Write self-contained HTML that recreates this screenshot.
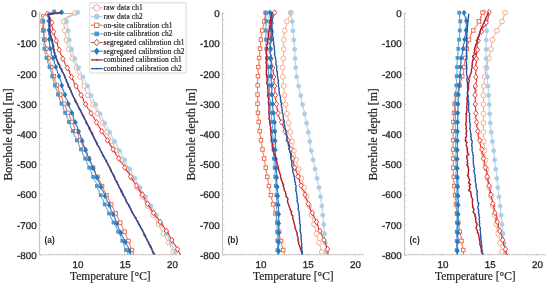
<!DOCTYPE html>
<html><head><meta charset="utf-8"><style>
html,body{margin:0;padding:0;background:#fff;}
svg{display:block;filter:blur(0.3px);}
.tk{font-family:"Liberation Sans",sans-serif;font-size:9.8px;fill:#262626;stroke:#262626;stroke-width:0.3px;text-rendering:geometricPrecision;}
.lab{font-family:"Liberation Serif",serif;font-size:11.5px;fill:#262626;stroke:#262626;stroke-width:0.2px;}
.lg{font-family:"Liberation Serif",serif;font-size:7.4px;letter-spacing:0.13px;fill:#1a1a1a;stroke:#1a1a1a;stroke-width:0.17px;}
.pl{font-family:"Liberation Sans",sans-serif;font-size:8.4px;font-weight:bold;fill:#262626;}
</style></head><body>
<svg width="550" height="286" viewBox="0 0 550 286">
<rect width="550" height="286" fill="#fff"/>
<path d="M39.5 12.3 V254.8 H181.1" fill="none" stroke="#c6c6c6" stroke-width="1.1"/>
<line x1="39.5" y1="13.6" x2="41.7" y2="13.6" stroke="#c6c6c6" stroke-width="0.8"/>
<text x="36.6" y="17.1" class="tk" text-anchor="end">0</text>
<line x1="39.5" y1="43.8" x2="41.7" y2="43.8" stroke="#c6c6c6" stroke-width="0.8"/>
<text x="36.6" y="47.3" class="tk" text-anchor="end">-100</text>
<line x1="39.5" y1="74" x2="41.7" y2="74" stroke="#c6c6c6" stroke-width="0.8"/>
<text x="36.6" y="77.5" class="tk" text-anchor="end">-200</text>
<line x1="39.5" y1="104.2" x2="41.7" y2="104.2" stroke="#c6c6c6" stroke-width="0.8"/>
<text x="36.6" y="107.7" class="tk" text-anchor="end">-300</text>
<line x1="39.5" y1="134.4" x2="41.7" y2="134.4" stroke="#c6c6c6" stroke-width="0.8"/>
<text x="36.6" y="137.9" class="tk" text-anchor="end">-400</text>
<line x1="39.5" y1="164.7" x2="41.7" y2="164.7" stroke="#c6c6c6" stroke-width="0.8"/>
<text x="36.6" y="168.2" class="tk" text-anchor="end">-500</text>
<line x1="39.5" y1="194.9" x2="41.7" y2="194.9" stroke="#c6c6c6" stroke-width="0.8"/>
<text x="36.6" y="198.4" class="tk" text-anchor="end">-600</text>
<line x1="39.5" y1="225.1" x2="41.7" y2="225.1" stroke="#c6c6c6" stroke-width="0.8"/>
<text x="36.6" y="228.6" class="tk" text-anchor="end">-700</text>
<line x1="39.5" y1="255.3" x2="41.7" y2="255.3" stroke="#c6c6c6" stroke-width="0.8"/>
<text x="36.6" y="258.8" class="tk" text-anchor="end">-800</text>
<line x1="39.5" y1="19.6" x2="41.3" y2="19.6" stroke="#cccccc" stroke-width="0.7"/>
<line x1="39.5" y1="25.7" x2="41.3" y2="25.7" stroke="#cccccc" stroke-width="0.7"/>
<line x1="39.5" y1="31.7" x2="41.3" y2="31.7" stroke="#cccccc" stroke-width="0.7"/>
<line x1="39.5" y1="37.8" x2="41.3" y2="37.8" stroke="#cccccc" stroke-width="0.7"/>
<line x1="39.5" y1="49.9" x2="41.3" y2="49.9" stroke="#cccccc" stroke-width="0.7"/>
<line x1="39.5" y1="55.9" x2="41.3" y2="55.9" stroke="#cccccc" stroke-width="0.7"/>
<line x1="39.5" y1="61.9" x2="41.3" y2="61.9" stroke="#cccccc" stroke-width="0.7"/>
<line x1="39.5" y1="68" x2="41.3" y2="68" stroke="#cccccc" stroke-width="0.7"/>
<line x1="39.5" y1="80.1" x2="41.3" y2="80.1" stroke="#cccccc" stroke-width="0.7"/>
<line x1="39.5" y1="86.1" x2="41.3" y2="86.1" stroke="#cccccc" stroke-width="0.7"/>
<line x1="39.5" y1="92.2" x2="41.3" y2="92.2" stroke="#cccccc" stroke-width="0.7"/>
<line x1="39.5" y1="98.2" x2="41.3" y2="98.2" stroke="#cccccc" stroke-width="0.7"/>
<line x1="39.5" y1="110.3" x2="41.3" y2="110.3" stroke="#cccccc" stroke-width="0.7"/>
<line x1="39.5" y1="116.3" x2="41.3" y2="116.3" stroke="#cccccc" stroke-width="0.7"/>
<line x1="39.5" y1="122.4" x2="41.3" y2="122.4" stroke="#cccccc" stroke-width="0.7"/>
<line x1="39.5" y1="128.4" x2="41.3" y2="128.4" stroke="#cccccc" stroke-width="0.7"/>
<line x1="39.5" y1="140.5" x2="41.3" y2="140.5" stroke="#cccccc" stroke-width="0.7"/>
<line x1="39.5" y1="146.5" x2="41.3" y2="146.5" stroke="#cccccc" stroke-width="0.7"/>
<line x1="39.5" y1="152.6" x2="41.3" y2="152.6" stroke="#cccccc" stroke-width="0.7"/>
<line x1="39.5" y1="158.6" x2="41.3" y2="158.6" stroke="#cccccc" stroke-width="0.7"/>
<line x1="39.5" y1="170.7" x2="41.3" y2="170.7" stroke="#cccccc" stroke-width="0.7"/>
<line x1="39.5" y1="176.7" x2="41.3" y2="176.7" stroke="#cccccc" stroke-width="0.7"/>
<line x1="39.5" y1="182.8" x2="41.3" y2="182.8" stroke="#cccccc" stroke-width="0.7"/>
<line x1="39.5" y1="188.8" x2="41.3" y2="188.8" stroke="#cccccc" stroke-width="0.7"/>
<line x1="39.5" y1="200.9" x2="41.3" y2="200.9" stroke="#cccccc" stroke-width="0.7"/>
<line x1="39.5" y1="207" x2="41.3" y2="207" stroke="#cccccc" stroke-width="0.7"/>
<line x1="39.5" y1="213" x2="41.3" y2="213" stroke="#cccccc" stroke-width="0.7"/>
<line x1="39.5" y1="219" x2="41.3" y2="219" stroke="#cccccc" stroke-width="0.7"/>
<line x1="39.5" y1="231.1" x2="41.3" y2="231.1" stroke="#cccccc" stroke-width="0.7"/>
<line x1="39.5" y1="237.2" x2="41.3" y2="237.2" stroke="#cccccc" stroke-width="0.7"/>
<line x1="39.5" y1="243.2" x2="41.3" y2="243.2" stroke="#cccccc" stroke-width="0.7"/>
<line x1="39.5" y1="249.3" x2="41.3" y2="249.3" stroke="#cccccc" stroke-width="0.7"/>
<line x1="77.3" y1="255.3" x2="77.3" y2="253.1" stroke="#c6c6c6" stroke-width="0.8"/>
<text x="78" y="267.9" class="tk" text-anchor="middle">10</text>
<line x1="124.5" y1="255.3" x2="124.5" y2="253.1" stroke="#c6c6c6" stroke-width="0.8"/>
<text x="125.2" y="267.9" class="tk" text-anchor="middle">15</text>
<line x1="171.7" y1="255.3" x2="171.7" y2="253.1" stroke="#c6c6c6" stroke-width="0.8"/>
<text x="172.4" y="267.9" class="tk" text-anchor="middle">20</text>
<line x1="48.9" y1="254.8" x2="48.9" y2="253" stroke="#cccccc" stroke-width="0.7"/>
<line x1="58.4" y1="254.8" x2="58.4" y2="253" stroke="#cccccc" stroke-width="0.7"/>
<line x1="67.8" y1="254.8" x2="67.8" y2="253" stroke="#cccccc" stroke-width="0.7"/>
<line x1="86.7" y1="254.8" x2="86.7" y2="253" stroke="#cccccc" stroke-width="0.7"/>
<line x1="96.1" y1="254.8" x2="96.1" y2="253" stroke="#cccccc" stroke-width="0.7"/>
<line x1="105.6" y1="254.8" x2="105.6" y2="253" stroke="#cccccc" stroke-width="0.7"/>
<line x1="115" y1="254.8" x2="115" y2="253" stroke="#cccccc" stroke-width="0.7"/>
<line x1="133.9" y1="254.8" x2="133.9" y2="253" stroke="#cccccc" stroke-width="0.7"/>
<line x1="143.3" y1="254.8" x2="143.3" y2="253" stroke="#cccccc" stroke-width="0.7"/>
<line x1="152.8" y1="254.8" x2="152.8" y2="253" stroke="#cccccc" stroke-width="0.7"/>
<line x1="162.2" y1="254.8" x2="162.2" y2="253" stroke="#cccccc" stroke-width="0.7"/>
<text x="110.3" y="280.2" class="lab" text-anchor="middle">Temperature [°C]</text>
<text x="44.5" y="243.3" class="pl">(a)</text>
<path d="M222.5 12.3 V254.8 H364.1" fill="none" stroke="#c6c6c6" stroke-width="1.1"/>
<line x1="222.5" y1="13.6" x2="224.7" y2="13.6" stroke="#c6c6c6" stroke-width="0.8"/>
<text x="219.6" y="17.1" class="tk" text-anchor="end">0</text>
<line x1="222.5" y1="43.8" x2="224.7" y2="43.8" stroke="#c6c6c6" stroke-width="0.8"/>
<text x="219.6" y="47.3" class="tk" text-anchor="end">-100</text>
<line x1="222.5" y1="74" x2="224.7" y2="74" stroke="#c6c6c6" stroke-width="0.8"/>
<text x="219.6" y="77.5" class="tk" text-anchor="end">-200</text>
<line x1="222.5" y1="104.2" x2="224.7" y2="104.2" stroke="#c6c6c6" stroke-width="0.8"/>
<text x="219.6" y="107.7" class="tk" text-anchor="end">-300</text>
<line x1="222.5" y1="134.4" x2="224.7" y2="134.4" stroke="#c6c6c6" stroke-width="0.8"/>
<text x="219.6" y="137.9" class="tk" text-anchor="end">-400</text>
<line x1="222.5" y1="164.7" x2="224.7" y2="164.7" stroke="#c6c6c6" stroke-width="0.8"/>
<text x="219.6" y="168.2" class="tk" text-anchor="end">-500</text>
<line x1="222.5" y1="194.9" x2="224.7" y2="194.9" stroke="#c6c6c6" stroke-width="0.8"/>
<text x="219.6" y="198.4" class="tk" text-anchor="end">-600</text>
<line x1="222.5" y1="225.1" x2="224.7" y2="225.1" stroke="#c6c6c6" stroke-width="0.8"/>
<text x="219.6" y="228.6" class="tk" text-anchor="end">-700</text>
<line x1="222.5" y1="255.3" x2="224.7" y2="255.3" stroke="#c6c6c6" stroke-width="0.8"/>
<text x="219.6" y="258.8" class="tk" text-anchor="end">-800</text>
<line x1="222.5" y1="19.6" x2="224.3" y2="19.6" stroke="#cccccc" stroke-width="0.7"/>
<line x1="222.5" y1="25.7" x2="224.3" y2="25.7" stroke="#cccccc" stroke-width="0.7"/>
<line x1="222.5" y1="31.7" x2="224.3" y2="31.7" stroke="#cccccc" stroke-width="0.7"/>
<line x1="222.5" y1="37.8" x2="224.3" y2="37.8" stroke="#cccccc" stroke-width="0.7"/>
<line x1="222.5" y1="49.9" x2="224.3" y2="49.9" stroke="#cccccc" stroke-width="0.7"/>
<line x1="222.5" y1="55.9" x2="224.3" y2="55.9" stroke="#cccccc" stroke-width="0.7"/>
<line x1="222.5" y1="61.9" x2="224.3" y2="61.9" stroke="#cccccc" stroke-width="0.7"/>
<line x1="222.5" y1="68" x2="224.3" y2="68" stroke="#cccccc" stroke-width="0.7"/>
<line x1="222.5" y1="80.1" x2="224.3" y2="80.1" stroke="#cccccc" stroke-width="0.7"/>
<line x1="222.5" y1="86.1" x2="224.3" y2="86.1" stroke="#cccccc" stroke-width="0.7"/>
<line x1="222.5" y1="92.2" x2="224.3" y2="92.2" stroke="#cccccc" stroke-width="0.7"/>
<line x1="222.5" y1="98.2" x2="224.3" y2="98.2" stroke="#cccccc" stroke-width="0.7"/>
<line x1="222.5" y1="110.3" x2="224.3" y2="110.3" stroke="#cccccc" stroke-width="0.7"/>
<line x1="222.5" y1="116.3" x2="224.3" y2="116.3" stroke="#cccccc" stroke-width="0.7"/>
<line x1="222.5" y1="122.4" x2="224.3" y2="122.4" stroke="#cccccc" stroke-width="0.7"/>
<line x1="222.5" y1="128.4" x2="224.3" y2="128.4" stroke="#cccccc" stroke-width="0.7"/>
<line x1="222.5" y1="140.5" x2="224.3" y2="140.5" stroke="#cccccc" stroke-width="0.7"/>
<line x1="222.5" y1="146.5" x2="224.3" y2="146.5" stroke="#cccccc" stroke-width="0.7"/>
<line x1="222.5" y1="152.6" x2="224.3" y2="152.6" stroke="#cccccc" stroke-width="0.7"/>
<line x1="222.5" y1="158.6" x2="224.3" y2="158.6" stroke="#cccccc" stroke-width="0.7"/>
<line x1="222.5" y1="170.7" x2="224.3" y2="170.7" stroke="#cccccc" stroke-width="0.7"/>
<line x1="222.5" y1="176.7" x2="224.3" y2="176.7" stroke="#cccccc" stroke-width="0.7"/>
<line x1="222.5" y1="182.8" x2="224.3" y2="182.8" stroke="#cccccc" stroke-width="0.7"/>
<line x1="222.5" y1="188.8" x2="224.3" y2="188.8" stroke="#cccccc" stroke-width="0.7"/>
<line x1="222.5" y1="200.9" x2="224.3" y2="200.9" stroke="#cccccc" stroke-width="0.7"/>
<line x1="222.5" y1="207" x2="224.3" y2="207" stroke="#cccccc" stroke-width="0.7"/>
<line x1="222.5" y1="213" x2="224.3" y2="213" stroke="#cccccc" stroke-width="0.7"/>
<line x1="222.5" y1="219" x2="224.3" y2="219" stroke="#cccccc" stroke-width="0.7"/>
<line x1="222.5" y1="231.1" x2="224.3" y2="231.1" stroke="#cccccc" stroke-width="0.7"/>
<line x1="222.5" y1="237.2" x2="224.3" y2="237.2" stroke="#cccccc" stroke-width="0.7"/>
<line x1="222.5" y1="243.2" x2="224.3" y2="243.2" stroke="#cccccc" stroke-width="0.7"/>
<line x1="222.5" y1="249.3" x2="224.3" y2="249.3" stroke="#cccccc" stroke-width="0.7"/>
<line x1="260.3" y1="255.3" x2="260.3" y2="253.1" stroke="#c6c6c6" stroke-width="0.8"/>
<text x="261" y="267.9" class="tk" text-anchor="middle">10</text>
<line x1="307.5" y1="255.3" x2="307.5" y2="253.1" stroke="#c6c6c6" stroke-width="0.8"/>
<text x="308.2" y="267.9" class="tk" text-anchor="middle">15</text>
<line x1="354.7" y1="255.3" x2="354.7" y2="253.1" stroke="#c6c6c6" stroke-width="0.8"/>
<text x="355.4" y="267.9" class="tk" text-anchor="middle">20</text>
<line x1="231.9" y1="254.8" x2="231.9" y2="253" stroke="#cccccc" stroke-width="0.7"/>
<line x1="241.4" y1="254.8" x2="241.4" y2="253" stroke="#cccccc" stroke-width="0.7"/>
<line x1="250.8" y1="254.8" x2="250.8" y2="253" stroke="#cccccc" stroke-width="0.7"/>
<line x1="269.7" y1="254.8" x2="269.7" y2="253" stroke="#cccccc" stroke-width="0.7"/>
<line x1="279.1" y1="254.8" x2="279.1" y2="253" stroke="#cccccc" stroke-width="0.7"/>
<line x1="288.6" y1="254.8" x2="288.6" y2="253" stroke="#cccccc" stroke-width="0.7"/>
<line x1="298" y1="254.8" x2="298" y2="253" stroke="#cccccc" stroke-width="0.7"/>
<line x1="316.9" y1="254.8" x2="316.9" y2="253" stroke="#cccccc" stroke-width="0.7"/>
<line x1="326.3" y1="254.8" x2="326.3" y2="253" stroke="#cccccc" stroke-width="0.7"/>
<line x1="335.8" y1="254.8" x2="335.8" y2="253" stroke="#cccccc" stroke-width="0.7"/>
<line x1="345.2" y1="254.8" x2="345.2" y2="253" stroke="#cccccc" stroke-width="0.7"/>
<text x="293.3" y="280.2" class="lab" text-anchor="middle">Temperature [°C]</text>
<text x="227.5" y="243.3" class="pl">(b)</text>
<path d="M404.5 12.3 V254.8 H546.1" fill="none" stroke="#c6c6c6" stroke-width="1.1"/>
<line x1="404.5" y1="13.6" x2="406.7" y2="13.6" stroke="#c6c6c6" stroke-width="0.8"/>
<text x="401.6" y="17.1" class="tk" text-anchor="end">0</text>
<line x1="404.5" y1="43.8" x2="406.7" y2="43.8" stroke="#c6c6c6" stroke-width="0.8"/>
<text x="401.6" y="47.3" class="tk" text-anchor="end">-100</text>
<line x1="404.5" y1="74" x2="406.7" y2="74" stroke="#c6c6c6" stroke-width="0.8"/>
<text x="401.6" y="77.5" class="tk" text-anchor="end">-200</text>
<line x1="404.5" y1="104.2" x2="406.7" y2="104.2" stroke="#c6c6c6" stroke-width="0.8"/>
<text x="401.6" y="107.7" class="tk" text-anchor="end">-300</text>
<line x1="404.5" y1="134.4" x2="406.7" y2="134.4" stroke="#c6c6c6" stroke-width="0.8"/>
<text x="401.6" y="137.9" class="tk" text-anchor="end">-400</text>
<line x1="404.5" y1="164.7" x2="406.7" y2="164.7" stroke="#c6c6c6" stroke-width="0.8"/>
<text x="401.6" y="168.2" class="tk" text-anchor="end">-500</text>
<line x1="404.5" y1="194.9" x2="406.7" y2="194.9" stroke="#c6c6c6" stroke-width="0.8"/>
<text x="401.6" y="198.4" class="tk" text-anchor="end">-600</text>
<line x1="404.5" y1="225.1" x2="406.7" y2="225.1" stroke="#c6c6c6" stroke-width="0.8"/>
<text x="401.6" y="228.6" class="tk" text-anchor="end">-700</text>
<line x1="404.5" y1="255.3" x2="406.7" y2="255.3" stroke="#c6c6c6" stroke-width="0.8"/>
<text x="401.6" y="258.8" class="tk" text-anchor="end">-800</text>
<line x1="404.5" y1="19.6" x2="406.3" y2="19.6" stroke="#cccccc" stroke-width="0.7"/>
<line x1="404.5" y1="25.7" x2="406.3" y2="25.7" stroke="#cccccc" stroke-width="0.7"/>
<line x1="404.5" y1="31.7" x2="406.3" y2="31.7" stroke="#cccccc" stroke-width="0.7"/>
<line x1="404.5" y1="37.8" x2="406.3" y2="37.8" stroke="#cccccc" stroke-width="0.7"/>
<line x1="404.5" y1="49.9" x2="406.3" y2="49.9" stroke="#cccccc" stroke-width="0.7"/>
<line x1="404.5" y1="55.9" x2="406.3" y2="55.9" stroke="#cccccc" stroke-width="0.7"/>
<line x1="404.5" y1="61.9" x2="406.3" y2="61.9" stroke="#cccccc" stroke-width="0.7"/>
<line x1="404.5" y1="68" x2="406.3" y2="68" stroke="#cccccc" stroke-width="0.7"/>
<line x1="404.5" y1="80.1" x2="406.3" y2="80.1" stroke="#cccccc" stroke-width="0.7"/>
<line x1="404.5" y1="86.1" x2="406.3" y2="86.1" stroke="#cccccc" stroke-width="0.7"/>
<line x1="404.5" y1="92.2" x2="406.3" y2="92.2" stroke="#cccccc" stroke-width="0.7"/>
<line x1="404.5" y1="98.2" x2="406.3" y2="98.2" stroke="#cccccc" stroke-width="0.7"/>
<line x1="404.5" y1="110.3" x2="406.3" y2="110.3" stroke="#cccccc" stroke-width="0.7"/>
<line x1="404.5" y1="116.3" x2="406.3" y2="116.3" stroke="#cccccc" stroke-width="0.7"/>
<line x1="404.5" y1="122.4" x2="406.3" y2="122.4" stroke="#cccccc" stroke-width="0.7"/>
<line x1="404.5" y1="128.4" x2="406.3" y2="128.4" stroke="#cccccc" stroke-width="0.7"/>
<line x1="404.5" y1="140.5" x2="406.3" y2="140.5" stroke="#cccccc" stroke-width="0.7"/>
<line x1="404.5" y1="146.5" x2="406.3" y2="146.5" stroke="#cccccc" stroke-width="0.7"/>
<line x1="404.5" y1="152.6" x2="406.3" y2="152.6" stroke="#cccccc" stroke-width="0.7"/>
<line x1="404.5" y1="158.6" x2="406.3" y2="158.6" stroke="#cccccc" stroke-width="0.7"/>
<line x1="404.5" y1="170.7" x2="406.3" y2="170.7" stroke="#cccccc" stroke-width="0.7"/>
<line x1="404.5" y1="176.7" x2="406.3" y2="176.7" stroke="#cccccc" stroke-width="0.7"/>
<line x1="404.5" y1="182.8" x2="406.3" y2="182.8" stroke="#cccccc" stroke-width="0.7"/>
<line x1="404.5" y1="188.8" x2="406.3" y2="188.8" stroke="#cccccc" stroke-width="0.7"/>
<line x1="404.5" y1="200.9" x2="406.3" y2="200.9" stroke="#cccccc" stroke-width="0.7"/>
<line x1="404.5" y1="207" x2="406.3" y2="207" stroke="#cccccc" stroke-width="0.7"/>
<line x1="404.5" y1="213" x2="406.3" y2="213" stroke="#cccccc" stroke-width="0.7"/>
<line x1="404.5" y1="219" x2="406.3" y2="219" stroke="#cccccc" stroke-width="0.7"/>
<line x1="404.5" y1="231.1" x2="406.3" y2="231.1" stroke="#cccccc" stroke-width="0.7"/>
<line x1="404.5" y1="237.2" x2="406.3" y2="237.2" stroke="#cccccc" stroke-width="0.7"/>
<line x1="404.5" y1="243.2" x2="406.3" y2="243.2" stroke="#cccccc" stroke-width="0.7"/>
<line x1="404.5" y1="249.3" x2="406.3" y2="249.3" stroke="#cccccc" stroke-width="0.7"/>
<line x1="442.3" y1="255.3" x2="442.3" y2="253.1" stroke="#c6c6c6" stroke-width="0.8"/>
<text x="443" y="267.9" class="tk" text-anchor="middle">10</text>
<line x1="489.5" y1="255.3" x2="489.5" y2="253.1" stroke="#c6c6c6" stroke-width="0.8"/>
<text x="490.2" y="267.9" class="tk" text-anchor="middle">15</text>
<line x1="536.7" y1="255.3" x2="536.7" y2="253.1" stroke="#c6c6c6" stroke-width="0.8"/>
<text x="537.4" y="267.9" class="tk" text-anchor="middle">20</text>
<line x1="413.9" y1="254.8" x2="413.9" y2="253" stroke="#cccccc" stroke-width="0.7"/>
<line x1="423.4" y1="254.8" x2="423.4" y2="253" stroke="#cccccc" stroke-width="0.7"/>
<line x1="432.8" y1="254.8" x2="432.8" y2="253" stroke="#cccccc" stroke-width="0.7"/>
<line x1="451.7" y1="254.8" x2="451.7" y2="253" stroke="#cccccc" stroke-width="0.7"/>
<line x1="461.1" y1="254.8" x2="461.1" y2="253" stroke="#cccccc" stroke-width="0.7"/>
<line x1="470.6" y1="254.8" x2="470.6" y2="253" stroke="#cccccc" stroke-width="0.7"/>
<line x1="480" y1="254.8" x2="480" y2="253" stroke="#cccccc" stroke-width="0.7"/>
<line x1="498.9" y1="254.8" x2="498.9" y2="253" stroke="#cccccc" stroke-width="0.7"/>
<line x1="508.3" y1="254.8" x2="508.3" y2="253" stroke="#cccccc" stroke-width="0.7"/>
<line x1="517.8" y1="254.8" x2="517.8" y2="253" stroke="#cccccc" stroke-width="0.7"/>
<line x1="527.2" y1="254.8" x2="527.2" y2="253" stroke="#cccccc" stroke-width="0.7"/>
<text x="475.3" y="280.2" class="lab" text-anchor="middle">Temperature [°C]</text>
<text x="409.5" y="243.3" class="pl">(c)</text>
<line x1="41.2" y1="14.5" x2="73.2" y2="13.3" stroke="#f4a582" stroke-width="1"/>
<g><path d="M74.9 13 L63.8 19 L63.7 20.5 L63.8 22 L63.5 23.5 L64.1 25 L64.2 26.5 L64.5 28 L64.6 29.5 L64.9 31 L65 32.5 L65.1 34 L65.8 35.5 L66.1 37 L66.5 38.5 L66.4 40 L66.6 41.5 L66.9 43 L67 44.5 L68.1 46 L68.1 47.5 L68.6 49 L69.3 50.5 L70.3 52 L70.6 53.5 L70.8 55 L71.5 56.5 L72.5 58 L72.9 59.5 L73.4 61 L74.2 62.5 L75 64 L76 65.5 L75.8 67 L76.5 68.5 L77.1 70 L77.3 71.5 L78.2 73 L78.8 74.5 L80 76 L80.4 77.5 L80.7 79 L82 80.5 L82.5 82 L82.8 83.5 L83.8 85 L84.4 86.5 L84.8 88 L85.6 89.5 L85.5 91 L86.6 92.5 L87.5 94 L88.1 95.5 L89 97 L89.8 98.5 L90.8 100 L91.1 101.5 L92.4 103 L92.6 104.5 L93.7 106 L94.1 107.5 L95.7 109 L96.5 110.5 L96.9 112 L98.2 113.5 L98.3 115 L99.3 116.5 L100 118 L100.5 119.5 L101.6 121 L102.7 122.5 L102.7 124 L103.9 125.5 L104.4 127 L105.6 128.5 L106 130 L106.8 131.5 L107.6 133 L108.2 134.5 L108.6 136 L110 137.5 L110.1 139 L111.3 140.5 L112.2 142 L112.7 143.5 L113.7 145 L114.8 146.5 L115.4 148 L116 149.5 L116.3 151 L117.7 152.5 L118.6 154 L119.5 155.5 L120.2 157 L121.4 158.5 L122 160 L123 161.5 L124.1 163 L124.5 164.5 L125.5 166 L127 167.5 L127.5 169 L127.8 170.5 L128.9 172 L129.8 173.5 L130.8 175 L131.4 176.5 L132 178 L132.7 179.5 L133.9 181 L134.6 182.5 L135.2 184 L136 185.5 L136.8 187 L137.9 188.5 L138.3 190 L139.4 191.5 L140.3 193 L141 194.5 L141.5 196 L142.9 197.5 L143.3 199 L144.4 200.5 L145 202 L145.6 203.5 L147 205 L147.9 206.5 L148.8 208 L149.8 209.5 L150.5 211 L151.4 212.5 L152.5 214 L153.9 215.5 L154.5 217 L155.1 218.5 L156.2 220 L156.9 221.5 L157.7 223 L158.9 224.5 L159.3 226 L159.8 227.5 L160.8 229 L161.8 230.5 L162.6 232 L163.7 233.5 L164 235 L165.1 236.5 L165.8 238 L166.5 239.5 L167.7 241 L168.5 242.5 L169.1 244 L170.5 245.5 L170.7 247 L171.7 248.5 L172.3 250 L173 251.5 L173.3 253 L174 254.5" fill="none" stroke="#f4a582" stroke-width="1.0" stroke-linejoin="round"/>
<circle cx="74.9" cy="13" r="2.4" fill="#fff" stroke="#f4a582" stroke-width="0.9"/>
<circle cx="63.7" cy="21.5" r="2.4" fill="#fff" stroke="#f4a582" stroke-width="0.9"/>
<circle cx="64.9" cy="30.7" r="2.4" fill="#fff" stroke="#f4a582" stroke-width="0.9"/>
<circle cx="66.4" cy="39.9" r="2.4" fill="#fff" stroke="#f4a582" stroke-width="0.9"/>
<circle cx="68.9" cy="49.2" r="2.4" fill="#fff" stroke="#f4a582" stroke-width="0.9"/>
<circle cx="72.5" cy="58.4" r="2.4" fill="#fff" stroke="#f4a582" stroke-width="0.9"/>
<circle cx="76.3" cy="67.6" r="2.4" fill="#fff" stroke="#f4a582" stroke-width="0.9"/>
<circle cx="80.1" cy="76.8" r="2.4" fill="#fff" stroke="#f4a582" stroke-width="0.9"/>
<circle cx="84.3" cy="86" r="2.4" fill="#fff" stroke="#f4a582" stroke-width="0.9"/>
<circle cx="87.8" cy="95.3" r="2.4" fill="#fff" stroke="#f4a582" stroke-width="0.9"/>
<circle cx="93" cy="104.5" r="2.4" fill="#fff" stroke="#f4a582" stroke-width="0.9"/>
<circle cx="97.8" cy="113.7" r="2.4" fill="#fff" stroke="#f4a582" stroke-width="0.9"/>
<circle cx="102.4" cy="122.9" r="2.4" fill="#fff" stroke="#f4a582" stroke-width="0.9"/>
<circle cx="107" cy="132.1" r="2.4" fill="#fff" stroke="#f4a582" stroke-width="0.9"/>
<circle cx="111.7" cy="141.4" r="2.4" fill="#fff" stroke="#f4a582" stroke-width="0.9"/>
<circle cx="116.8" cy="150.6" r="2.4" fill="#fff" stroke="#f4a582" stroke-width="0.9"/>
<circle cx="122.1" cy="159.8" r="2.4" fill="#fff" stroke="#f4a582" stroke-width="0.9"/>
<circle cx="127.3" cy="169" r="2.4" fill="#fff" stroke="#f4a582" stroke-width="0.9"/>
<circle cx="132.2" cy="178.2" r="2.4" fill="#fff" stroke="#f4a582" stroke-width="0.9"/>
<circle cx="137.1" cy="187.5" r="2.4" fill="#fff" stroke="#f4a582" stroke-width="0.9"/>
<circle cx="142.1" cy="196.7" r="2.4" fill="#fff" stroke="#f4a582" stroke-width="0.9"/>
<circle cx="147.5" cy="205.9" r="2.4" fill="#fff" stroke="#f4a582" stroke-width="0.9"/>
<circle cx="153.2" cy="215.1" r="2.4" fill="#fff" stroke="#f4a582" stroke-width="0.9"/>
<circle cx="158.6" cy="224.3" r="2.4" fill="#fff" stroke="#f4a582" stroke-width="0.9"/>
<circle cx="163.4" cy="233.6" r="2.4" fill="#fff" stroke="#f4a582" stroke-width="0.9"/>
<circle cx="168.6" cy="242.8" r="2.4" fill="#fff" stroke="#f4a582" stroke-width="0.9"/>
<circle cx="173.1" cy="252" r="2.4" fill="#fff" stroke="#f4a582" stroke-width="0.9"/>
<path d="M77.7 12.4 L66.2 19 L66.7 20.5 L66.5 22 L67 23.5 L67.1 25 L67.1 26.5 L68.4 28 L67.9 29.5 L67.8 31 L68.7 32.5 L68.3 34 L68.8 35.5 L69.1 37 L68.9 38.5 L69.2 40 L69.4 41.5 L69.8 43 L69.7 44.5 L70.2 46 L71 47.5 L71.7 49 L72.1 50.5 L72.9 52 L73.1 53.5 L73.4 55 L74 56.5 L74.1 58 L74.9 59.5 L75.5 61 L76.4 62.5 L77.1 64 L77.4 65.5 L78.1 67 L78.5 68.5 L79.5 70 L80.3 71.5 L81 73 L81.5 74.5 L82.9 76 L83.5 77.5 L83.9 79 L84.7 80.5 L85.6 82 L86.5 83.5 L87.2 85 L88 86.5 L88.6 88 L89.3 89.5 L89.7 91 L89.9 92.5 L90.6 94 L90.9 95.5 L91.5 97 L92.9 98.5 L93.1 100 L94.5 101.5 L94.7 103 L95.6 104.5 L96.6 106 L97 107.5 L97.8 109 L98.4 110.5 L99 112 L99.9 113.5 L100.5 115 L101.8 116.5 L102.1 118 L103.4 119.5 L103.1 121 L104.5 122.5 L105.5 124 L106.1 125.5 L107.2 127 L107.9 128.5 L108.5 130 L109.5 131.5 L110.8 133 L111 134.5 L111.8 136 L112.4 137.5 L113.4 139 L113.8 140.5 L114.9 142 L116.3 143.5 L116.7 145 L117.4 146.5 L118.3 148 L119.3 149.5 L119.7 151 L120.9 152.5 L121.5 154 L122.2 155.5 L123.4 157 L123.3 158.5 L124.6 160 L125.6 161.5 L126.2 163 L127.2 164.5 L128 166 L128.8 167.5 L130.5 169 L130.8 170.5 L131.4 172 L132.5 173.5 L133 175 L134 176.5 L134.7 178 L135.9 179.5 L136 181 L137.4 182.5 L138.1 184 L138.6 185.5 L140.1 187 L140.5 188.5 L142 190 L142.6 191.5 L143.5 193 L144.3 194.5 L145.3 196 L145.5 197.5 L146.9 199 L147.6 200.5 L148.7 202 L149.5 203.5 L150.5 205 L151.1 206.5 L152.6 208 L153.6 209.5 L153.8 211 L154.8 212.5 L155.7 214 L156.8 215.5 L157.8 217 L157.9 218.5 L158.9 220 L159.6 221.5 L160.4 223 L161.1 224.5 L162.5 226 L162.9 227.5 L164.3 229 L165 230.5 L165.3 232 L166.1 233.5 L166.9 235 L168.2 236.5 L168.4 238 L169 239.5 L170.1 241 L170.9 242.5 L171.4 244 L172.7 245.5 L173 247 L173.8 248.5 L174.1 250 L175 251.5 L175.6 253 L175.7 254.5" fill="none" stroke="#a9cde6" stroke-width="1.0" stroke-linejoin="round"/>
<circle cx="77.7" cy="12.4" r="2.1" fill="#a9cde6" stroke="#a9cde6" stroke-width="0.6"/>
<circle cx="66.6" cy="21.6" r="2.1" fill="#a9cde6" stroke="#a9cde6" stroke-width="0.6"/>
<circle cx="68.1" cy="30.8" r="2.1" fill="#a9cde6" stroke="#a9cde6" stroke-width="0.6"/>
<circle cx="69.3" cy="40" r="2.1" fill="#a9cde6" stroke="#a9cde6" stroke-width="0.6"/>
<circle cx="71.6" cy="49.3" r="2.1" fill="#a9cde6" stroke="#a9cde6" stroke-width="0.6"/>
<circle cx="74.8" cy="58.5" r="2.1" fill="#a9cde6" stroke="#a9cde6" stroke-width="0.6"/>
<circle cx="78.5" cy="67.7" r="2.1" fill="#a9cde6" stroke="#a9cde6" stroke-width="0.6"/>
<circle cx="82.9" cy="76.9" r="2.1" fill="#a9cde6" stroke="#a9cde6" stroke-width="0.6"/>
<circle cx="87.7" cy="86.1" r="2.1" fill="#a9cde6" stroke="#a9cde6" stroke-width="0.6"/>
<circle cx="91" cy="95.4" r="2.1" fill="#a9cde6" stroke="#a9cde6" stroke-width="0.6"/>
<circle cx="95.6" cy="104.6" r="2.1" fill="#a9cde6" stroke="#a9cde6" stroke-width="0.6"/>
<circle cx="100.1" cy="113.8" r="2.1" fill="#a9cde6" stroke="#a9cde6" stroke-width="0.6"/>
<circle cx="104.8" cy="123" r="2.1" fill="#a9cde6" stroke="#a9cde6" stroke-width="0.6"/>
<circle cx="109.7" cy="132.2" r="2.1" fill="#a9cde6" stroke="#a9cde6" stroke-width="0.6"/>
<circle cx="114.6" cy="141.5" r="2.1" fill="#a9cde6" stroke="#a9cde6" stroke-width="0.6"/>
<circle cx="119.4" cy="150.7" r="2.1" fill="#a9cde6" stroke="#a9cde6" stroke-width="0.6"/>
<circle cx="124.7" cy="159.9" r="2.1" fill="#a9cde6" stroke="#a9cde6" stroke-width="0.6"/>
<circle cx="129.8" cy="169.1" r="2.1" fill="#a9cde6" stroke="#a9cde6" stroke-width="0.6"/>
<circle cx="134.8" cy="178.3" r="2.1" fill="#a9cde6" stroke="#a9cde6" stroke-width="0.6"/>
<circle cx="140.1" cy="187.6" r="2.1" fill="#a9cde6" stroke="#a9cde6" stroke-width="0.6"/>
<circle cx="145.6" cy="196.8" r="2.1" fill="#a9cde6" stroke="#a9cde6" stroke-width="0.6"/>
<circle cx="151" cy="206" r="2.1" fill="#a9cde6" stroke="#a9cde6" stroke-width="0.6"/>
<circle cx="156.3" cy="215.2" r="2.1" fill="#a9cde6" stroke="#a9cde6" stroke-width="0.6"/>
<circle cx="161.5" cy="224.4" r="2.1" fill="#a9cde6" stroke="#a9cde6" stroke-width="0.6"/>
<circle cx="166.4" cy="233.7" r="2.1" fill="#a9cde6" stroke="#a9cde6" stroke-width="0.6"/>
<circle cx="171" cy="242.9" r="2.1" fill="#a9cde6" stroke="#a9cde6" stroke-width="0.6"/>
<circle cx="175.3" cy="252.1" r="2.1" fill="#a9cde6" stroke="#a9cde6" stroke-width="0.6"/>
<path d="M41.5 14.6 L41.6 14.6 L41.3 16.1 L42 17.6 L41.8 19.1 L42.9 20.6 L42.6 22.1 L42.9 23.6 L43 25.1 L42.5 26.6 L42.4 28.1 L43.1 29.6 L43.6 31.1 L43.5 32.6 L43.9 34.1 L44.2 35.6 L43.8 37.1 L44.5 38.6 L45.2 40.1 L44.8 41.6 L44.7 43.1 L45.4 44.6 L45.6 46.1 L46.1 47.6 L46.1 49.1 L46.7 50.6 L46.4 52.1 L47.5 53.6 L48.1 55.1 L48.4 56.6 L48.1 58.1 L49 59.6 L48.6 61.1 L49.9 62.6 L50.2 64.1 L50.4 65.6 L51.2 67.1 L51.6 68.6 L52.3 70.1 L52.5 71.6 L53 73.1 L52.9 74.6 L53.6 76.1 L54.2 77.6 L54.9 79.1 L55.3 80.6 L56.1 82.1 L56 83.6 L56.7 85.1 L57.3 86.6 L57.8 88.1 L58.5 89.6 L58.8 91.1 L59.8 92.6 L60 94.1 L61 95.6 L61.3 97.1 L62.4 98.6 L62.3 100.1 L63.4 101.6 L63.9 103.1 L64.7 104.6 L65.6 106.1 L65.7 107.6 L66.3 109.1 L67 110.6 L68 112.1 L68.1 113.6 L69.2 115.1 L69.5 116.6 L70.2 118.1 L71 119.6 L71.8 121.1 L72.2 122.6 L72.9 124.1 L73.7 125.6 L74.2 127.1 L74.3 128.6 L75.5 130.1 L76.3 131.6 L77.2 133.1 L78.1 134.6 L78.4 136.1 L78.9 137.6 L79.4 139.1 L80.3 140.6 L81.1 142.1 L82 143.6 L82.1 145.1 L83.1 146.6 L83.9 148.1 L84.9 149.6 L85.2 151.1 L85.7 152.6 L86.4 154.1 L87.2 155.6 L87.8 157.1 L88.9 158.6 L89.7 160.1 L90.3 161.6 L91.2 163.1 L91.5 164.6 L92.4 166.1 L92.9 167.6 L93.8 169.1 L94.8 170.6 L95.2 172.1 L95.5 173.6 L96.6 175.1 L97.2 176.6 L97.8 178.1 L98.7 179.6 L99.9 181.1 L100.8 182.6 L101 184.1 L102.1 185.6 L102.9 187.1 L103 188.6 L104.1 190.1 L104.8 191.6 L105.6 193.1 L105.9 194.6 L107 196.1 L108.1 197.6 L108.8 199.1 L109.7 200.6 L109.9 202.1 L111.2 203.6 L111.7 205.1 L111.9 206.6 L113.2 208.1 L113.7 209.6 L114.6 211.1 L115.2 212.6 L116.3 214.1 L116.8 215.6 L117.4 217.1 L118.5 218.6 L119.1 220.1 L119.6 221.6 L120.8 223.1 L121.2 224.6 L121.8 226.1 L122.6 227.6 L123.1 229.1 L124 230.6 L125.3 232.1 L125.2 233.6 L126.1 235.1 L126.4 236.6 L127.2 238.1 L128.3 239.6 L128.7 241.1 L128.9 242.6 L129.7 244.1 L130 245.6 L130.6 247.1 L131.2 248.6 L131.7 250.1 L132.6 251.6 L133.2 253.1 L133.7 254.5" fill="none" stroke="#f0623e" stroke-width="1.0" stroke-linejoin="round"/>
<rect x="40.7" y="19.6" width="3.5" height="3.5" fill="#fff" stroke="#f0623e" stroke-width="0.9"/>
<rect x="41.5" y="28.7" width="3.5" height="3.5" fill="#fff" stroke="#f0623e" stroke-width="0.9"/>
<rect x="42.9" y="37.9" width="3.5" height="3.5" fill="#fff" stroke="#f0623e" stroke-width="0.9"/>
<rect x="44.5" y="47" width="3.5" height="3.5" fill="#fff" stroke="#f0623e" stroke-width="0.9"/>
<rect x="46.7" y="56.2" width="3.5" height="3.5" fill="#fff" stroke="#f0623e" stroke-width="0.9"/>
<rect x="49.4" y="65.3" width="3.5" height="3.5" fill="#fff" stroke="#f0623e" stroke-width="0.9"/>
<rect x="52.1" y="74.5" width="3.5" height="3.5" fill="#fff" stroke="#f0623e" stroke-width="0.9"/>
<rect x="55.1" y="83.6" width="3.5" height="3.5" fill="#fff" stroke="#f0623e" stroke-width="0.9"/>
<rect x="58.5" y="92.8" width="3.5" height="3.5" fill="#fff" stroke="#f0623e" stroke-width="0.9"/>
<rect x="62.5" y="101.9" width="3.5" height="3.5" fill="#fff" stroke="#f0623e" stroke-width="0.9"/>
<rect x="66.4" y="111.1" width="3.5" height="3.5" fill="#fff" stroke="#f0623e" stroke-width="0.9"/>
<rect x="70.4" y="120.2" width="3.5" height="3.5" fill="#fff" stroke="#f0623e" stroke-width="0.9"/>
<rect x="74.3" y="129.4" width="3.5" height="3.5" fill="#fff" stroke="#f0623e" stroke-width="0.9"/>
<rect x="78.4" y="138.5" width="3.5" height="3.5" fill="#fff" stroke="#f0623e" stroke-width="0.9"/>
<rect x="82.6" y="147.7" width="3.5" height="3.5" fill="#fff" stroke="#f0623e" stroke-width="0.9"/>
<rect x="86.9" y="156.8" width="3.5" height="3.5" fill="#fff" stroke="#f0623e" stroke-width="0.9"/>
<rect x="91.3" y="166" width="3.5" height="3.5" fill="#fff" stroke="#f0623e" stroke-width="0.9"/>
<rect x="95.8" y="175.1" width="3.5" height="3.5" fill="#fff" stroke="#f0623e" stroke-width="0.9"/>
<rect x="100.3" y="184.3" width="3.5" height="3.5" fill="#fff" stroke="#f0623e" stroke-width="0.9"/>
<rect x="104.8" y="193.4" width="3.5" height="3.5" fill="#fff" stroke="#f0623e" stroke-width="0.9"/>
<rect x="109.4" y="202.6" width="3.5" height="3.5" fill="#fff" stroke="#f0623e" stroke-width="0.9"/>
<rect x="113.9" y="211.7" width="3.5" height="3.5" fill="#fff" stroke="#f0623e" stroke-width="0.9"/>
<rect x="118.5" y="220.9" width="3.5" height="3.5" fill="#fff" stroke="#f0623e" stroke-width="0.9"/>
<rect x="122.9" y="230" width="3.5" height="3.5" fill="#fff" stroke="#f0623e" stroke-width="0.9"/>
<rect x="126.7" y="239.2" width="3.5" height="3.5" fill="#fff" stroke="#f0623e" stroke-width="0.9"/>
<rect x="130.2" y="248.3" width="3.5" height="3.5" fill="#fff" stroke="#f0623e" stroke-width="0.9"/>
<path d="M54.2 11.5 L43.5 15.5 L43.1 17 L43.3 18.5 L43.1 20 L43.6 21.5 L43.6 23 L43.7 24.5 L43.6 26 L43.3 27.5 L44 29 L44.1 30.5 L43.4 32 L43.8 33.5 L44.1 35 L43.5 36.5 L44.2 38 L43.7 39.5 L43.5 41 L44.1 42.5 L43.9 44 L43.8 45.5 L44.4 47 L43.9 48.5 L45.1 50 L44.7 51.5 L45.2 53 L45.4 54.5 L46 56 L46.6 57.5 L46.6 59 L47.5 60.5 L47.7 62 L48.1 63.5 L48.8 65 L49.1 66.5 L49.6 68 L50.5 69.5 L50.7 71 L51.4 72.5 L51.7 74 L51.7 75.5 L52 77 L52.7 78.5 L53.4 80 L53.7 81.5 L54 83 L54.9 84.5 L54.7 86 L55.3 87.5 L56.1 89 L57.1 90.5 L57.2 92 L57.4 93.5 L58.3 95 L58.9 96.5 L59.5 98 L59.7 99.5 L60.2 101 L61 102.5 L61.7 104 L62.6 105.5 L63.3 107 L63.2 108.5 L63.9 110 L64.6 111.5 L65.1 113 L65.9 114.5 L66.6 116 L67.1 117.5 L68 119 L68.3 120.5 L68.7 122 L69.2 123.5 L70 125 L70.6 126.5 L71 128 L72.3 129.5 L72.8 131 L73.3 132.5 L73.9 134 L74.3 135.5 L75.2 137 L76.5 138.5 L76.1 140 L77.4 141.5 L78.2 143 L78.7 144.5 L79.3 146 L80.2 147.5 L80.4 149 L81.5 150.5 L82.4 152 L82.5 153.5 L83.3 155 L84.2 156.5 L85.1 158 L85.8 159.5 L86.4 161 L86.7 162.5 L87.3 164 L88.3 165.5 L89 167 L89.3 168.5 L90.2 170 L90.9 171.5 L91.8 173 L91.9 174.5 L92.9 176 L93.1 177.5 L93.9 179 L94.6 180.5 L95.6 182 L96.7 183.5 L96.5 185 L97.2 186.5 L98 188 L98 189.5 L99.1 191 L99.3 192.5 L100.6 194 L101.2 195.5 L101.6 197 L101.9 198.5 L103.2 200 L103.5 201.5 L104.2 203 L105 204.5 L105.1 206 L106.3 207.5 L107.2 209 L107.7 210.5 L108.4 212 L108.8 213.5 L109.9 215 L110.5 216.5 L111.2 218 L111.8 219.5 L112.9 221 L113.8 222.5 L114.3 224 L115.2 225.5 L116.1 227 L117 228.5 L117.4 230 L118.1 231.5 L118.8 233 L119.6 234.5 L120.4 236 L121.1 237.5 L121.4 239 L122.1 240.5 L122.4 242 L123.6 243.5 L123.8 245 L124.6 246.5 L124.9 248 L125.7 249.5 L126.2 251 L127.5 252.5 L127.9 254 L128 254.5" fill="none" stroke="#4b97d0" stroke-width="1.0" stroke-linejoin="round"/>
<rect x="52.3" y="9.6" width="3.8" height="3.8" fill="#4b97d0"/>
<rect x="41.5" y="19.4" width="3.8" height="3.8" fill="#4b97d0"/>
<rect x="41.9" y="28.6" width="3.8" height="3.8" fill="#4b97d0"/>
<rect x="41.9" y="37.7" width="3.8" height="3.8" fill="#4b97d0"/>
<rect x="42.5" y="46.9" width="3.8" height="3.8" fill="#4b97d0"/>
<rect x="44.6" y="56" width="3.8" height="3.8" fill="#4b97d0"/>
<rect x="47.6" y="65.2" width="3.8" height="3.8" fill="#4b97d0"/>
<rect x="50.3" y="74.3" width="3.8" height="3.8" fill="#4b97d0"/>
<rect x="53" y="83.5" width="3.8" height="3.8" fill="#4b97d0"/>
<rect x="56.1" y="92.6" width="3.8" height="3.8" fill="#4b97d0"/>
<rect x="59.6" y="101.8" width="3.8" height="3.8" fill="#4b97d0"/>
<rect x="63.2" y="110.9" width="3.8" height="3.8" fill="#4b97d0"/>
<rect x="67" y="120.1" width="3.8" height="3.8" fill="#4b97d0"/>
<rect x="70.9" y="129.2" width="3.8" height="3.8" fill="#4b97d0"/>
<rect x="74.9" y="138.4" width="3.8" height="3.8" fill="#4b97d0"/>
<rect x="79" y="147.5" width="3.8" height="3.8" fill="#4b97d0"/>
<rect x="83.2" y="156.7" width="3.8" height="3.8" fill="#4b97d0"/>
<rect x="87.3" y="165.8" width="3.8" height="3.8" fill="#4b97d0"/>
<rect x="91.2" y="175" width="3.8" height="3.8" fill="#4b97d0"/>
<rect x="95" y="184.1" width="3.8" height="3.8" fill="#4b97d0"/>
<rect x="98.8" y="193.3" width="3.8" height="3.8" fill="#4b97d0"/>
<rect x="102.8" y="202.4" width="3.8" height="3.8" fill="#4b97d0"/>
<rect x="107.1" y="211.6" width="3.8" height="3.8" fill="#4b97d0"/>
<rect x="111.6" y="220.7" width="3.8" height="3.8" fill="#4b97d0"/>
<rect x="116.3" y="229.9" width="3.8" height="3.8" fill="#4b97d0"/>
<rect x="120.4" y="239" width="3.8" height="3.8" fill="#4b97d0"/>
<rect x="124.1" y="248.2" width="3.8" height="3.8" fill="#4b97d0"/>
<path d="M47.5 13.8 L50.8 19 L51.1 20.5 L51.7 22 L52.2 23.5 L51.7 25 L52.1 26.5 L52.6 28 L52.8 29.5 L52.9 31 L53.7 32.5 L54.3 34 L54.2 35.5 L55.1 37 L55.7 38.5 L56.2 40 L56.3 41.5 L57.4 43 L57.5 44.5 L57.6 46 L58.6 47.5 L58.6 49 L59.7 50.5 L59.7 52 L60.8 53.5 L61.1 55 L62.2 56.5 L62.7 58 L63.3 59.5 L64 61 L64.9 62.5 L64.9 64 L66.2 65.5 L66.9 67 L67.6 68.5 L68.4 70 L69.8 71.5 L69.6 73 L70.5 74.5 L71 76 L72.1 77.5 L72 79 L73.6 80.5 L73.8 82 L74.1 83.5 L75.2 85 L76.2 86.5 L77.2 88 L78 89.5 L79 91 L79.7 92.5 L80.5 94 L80.8 95.5 L82.2 97 L83.1 98.5 L83.4 100 L83.8 101.5 L84.7 103 L86.2 104.5 L86.5 106 L87.4 107.5 L88.3 109 L89.6 110.5 L90.2 112 L91 113.5 L91.8 115 L93 116.5 L94.2 118 L94.8 119.5 L96 121 L96.7 122.5 L97.5 124 L98.4 125.5 L99.2 127 L100.3 128.5 L101 130 L101.6 131.5 L102.7 133 L103.6 134.5 L104.8 136 L105.7 137.5 L106.7 139 L107.1 140.5 L108.5 142 L109.7 143.5 L109.9 145 L111.6 146.5 L112.2 148 L113 149.5 L113.5 151 L115.1 152.5 L115.6 154 L116.6 155.5 L117.8 157 L118.4 158.5 L119.4 160 L120.4 161.5 L121.7 163 L123 164.5 L124 166 L125 167.5 L125.8 169 L126.8 170.5 L127.6 172 L129.1 173.5 L129.6 175 L130 176.5 L131.2 178 L132.8 179.5 L133.1 181 L134.3 182.5 L135.5 184 L136.2 185.5 L137.7 187 L138.8 188.5 L139.2 190 L140.7 191.5 L141.1 193 L142 194.5 L143.2 196 L144.1 197.5 L144.7 199 L145.8 200.5 L146.1 202 L147.1 203.5 L148 205 L149.4 206.5 L150.4 208 L151.4 209.5 L152 211 L153.4 212.5 L154.5 214 L155.1 215.5 L156.3 217 L157.8 218.5 L158.9 220 L159.9 221.5 L161.1 223 L162.1 224.5 L163.1 226 L164.1 227.5 L164.9 229 L166.1 230.5 L167 232 L168.6 233.5 L168.9 235 L169.7 236.5 L170.6 238 L171.5 239.5 L172.4 241 L173.5 242.5 L174.3 244 L175.5 245.5 L176.1 247 L177.2 248.5 L178.2 250 L178.6 251.5 L179.7 253 L180.6 254.5" fill="none" stroke="#e3322b" stroke-width="1.1" stroke-linejoin="round"/>
<path d="M47.5 11L49.7 13.8L47.5 16.6L45.3 13.8Z" fill="#fff" stroke="#e3322b" stroke-width="0.9"/>
<path d="M51.7 19.8L53.9 22.6L51.7 25.4L49.5 22.6Z" fill="#fff" stroke="#e3322b" stroke-width="0.9"/>
<path d="M53.5 28.9L55.7 31.7L53.5 34.5L51.3 31.7Z" fill="#fff" stroke="#e3322b" stroke-width="0.9"/>
<path d="M56.2 37.9L58.4 40.7L56.2 43.5L54 40.7Z" fill="#fff" stroke="#e3322b" stroke-width="0.9"/>
<path d="M59.2 47L61.4 49.8L59.2 52.6L57 49.8Z" fill="#fff" stroke="#e3322b" stroke-width="0.9"/>
<path d="M62.9 56L65.1 58.8L62.9 61.6L60.7 58.8Z" fill="#fff" stroke="#e3322b" stroke-width="0.9"/>
<path d="M67.2 65.1L69.4 67.9L67.2 70.7L65 67.9Z" fill="#fff" stroke="#e3322b" stroke-width="0.9"/>
<path d="M71.5 74.2L73.7 77L71.5 79.8L69.3 77Z" fill="#fff" stroke="#e3322b" stroke-width="0.9"/>
<path d="M76 83.2L78.2 86L76 88.8L73.8 86Z" fill="#fff" stroke="#e3322b" stroke-width="0.9"/>
<path d="M81.1 92.3L83.3 95.1L81.1 97.9L78.9 95.1Z" fill="#fff" stroke="#e3322b" stroke-width="0.9"/>
<path d="M85.6 101.3L87.8 104.1L85.6 106.9L83.4 104.1Z" fill="#fff" stroke="#e3322b" stroke-width="0.9"/>
<path d="M91.1 110.4L93.3 113.2L91.1 116L88.9 113.2Z" fill="#fff" stroke="#e3322b" stroke-width="0.9"/>
<path d="M96.5 119.5L98.7 122.3L96.5 125.1L94.3 122.3Z" fill="#fff" stroke="#e3322b" stroke-width="0.9"/>
<path d="M101.7 128.5L103.9 131.3L101.7 134.1L99.5 131.3Z" fill="#fff" stroke="#e3322b" stroke-width="0.9"/>
<path d="M107.4 137.6L109.6 140.4L107.4 143.2L105.2 140.4Z" fill="#fff" stroke="#e3322b" stroke-width="0.9"/>
<path d="M113 146.6L115.2 149.4L113 152.2L110.8 149.4Z" fill="#fff" stroke="#e3322b" stroke-width="0.9"/>
<path d="M118.7 155.7L120.9 158.5L118.7 161.3L116.5 158.5Z" fill="#fff" stroke="#e3322b" stroke-width="0.9"/>
<path d="M124.9 164.8L127.1 167.6L124.9 170.4L122.7 167.6Z" fill="#fff" stroke="#e3322b" stroke-width="0.9"/>
<path d="M130.5 173.8L132.7 176.6L130.5 179.4L128.3 176.6Z" fill="#fff" stroke="#e3322b" stroke-width="0.9"/>
<path d="M136.5 182.9L138.7 185.7L136.5 188.5L134.3 185.7Z" fill="#fff" stroke="#e3322b" stroke-width="0.9"/>
<path d="M142.4 191.9L144.6 194.7L142.4 197.5L140.2 194.7Z" fill="#fff" stroke="#e3322b" stroke-width="0.9"/>
<path d="M147.5 201L149.7 203.8L147.5 206.6L145.3 203.8Z" fill="#fff" stroke="#e3322b" stroke-width="0.9"/>
<path d="M153.6 210.1L155.8 212.9L153.6 215.7L151.4 212.9Z" fill="#fff" stroke="#e3322b" stroke-width="0.9"/>
<path d="M160.2 219.1L162.4 221.9L160.2 224.7L158 221.9Z" fill="#fff" stroke="#e3322b" stroke-width="0.9"/>
<path d="M166.4 228.2L168.6 231L166.4 233.8L164.2 231Z" fill="#fff" stroke="#e3322b" stroke-width="0.9"/>
<path d="M171.8 237.2L174 240L171.8 242.8L169.6 240Z" fill="#fff" stroke="#e3322b" stroke-width="0.9"/>
<path d="M177.5 246.3L179.7 249.1L177.5 251.9L175.3 249.1Z" fill="#fff" stroke="#e3322b" stroke-width="0.9"/>
<path d="M61.6 12.3 L48.4 15 L48.5 16.5 L48.2 18 L49 19.5 L48.5 21 L48.5 22.5 L49 24 L48.4 25.5 L49.1 27 L49 28.5 L49 30 L48.9 31.5 L48.7 33 L48.6 34.5 L49.5 36 L49 37.5 L49.1 39 L49.7 40.5 L49.3 42 L49.5 43.5 L49.7 45 L49.9 46.5 L49.9 48 L50.4 49.5 L51.2 51 L51.5 52.5 L51 54 L51.8 55.5 L52.9 57 L53.3 58.5 L53.7 60 L54.5 61.5 L54.2 63 L55.4 64.5 L55.5 66 L56.1 67.5 L56.5 69 L57.2 70.5 L57.4 72 L57.9 73.5 L58.8 75 L59.1 76.5 L59.3 78 L60.4 79.5 L60.8 81 L61.3 82.5 L61.4 84 L61.9 85.5 L62.2 87 L62.5 88.5 L63.2 90 L63.8 91.5 L64.1 93 L65.2 94.5 L64.9 96 L65.7 97.5 L66.3 99 L67.4 100.5 L67.6 102 L68.2 103.5 L68.7 105 L69.3 106.5 L69.7 108 L70.9 109.5 L71.3 111 L72 112.5 L72.1 114 L73.5 115.5 L73.1 117 L73.4 118.5 L74.4 120 L75.1 121.5 L75.8 123 L75.9 124.5 L76.8 126 L77.7 127.5 L77.6 129 L78.1 130.5 L78.4 132 L79.5 133.5 L80.2 135 L80.7 136.5 L81.3 138 L82 139.5 L82.3 141 L83 142.5 L83.1 144 L83.7 145.5 L84.6 147 L84.9 148.5 L85.8 150 L86.6 151.5 L87 153 L87.3 154.5 L87.9 156 L89 157.5 L89.1 159 L89.9 160.5 L90.5 162 L91.2 163.5 L92 165 L92.3 166.5 L92.7 168 L94 169.5 L94.3 171 L95.1 172.5 L95.5 174 L96.3 175.5 L97.1 177 L97.7 178.5 L97.9 180 L98.6 181.5 L99.4 183 L100 184.5 L100.8 186 L101.1 187.5 L101.4 189 L102.7 190.5 L103.5 192 L104.1 193.5 L105 195 L105.5 196.5 L105.8 198 L106.8 199.5 L107.2 201 L108.3 202.5 L108.7 204 L109.4 205.5 L110 207 L110.6 208.5 L110.9 210 L111.9 211.5 L112 213 L113.3 214.5 L114.1 216 L114.9 217.5 L115.1 219 L115.5 220.5 L115.9 222 L117.4 223.5 L117.2 225 L118.4 226.5 L118.3 228 L119.5 229.5 L120.3 231 L120.9 232.5 L121.5 234 L122 235.5 L122.7 237 L123.9 238.5 L124.5 240 L125.1 241.5 L125.9 243 L126.4 244.5 L127.6 246 L128.3 247.5 L128.5 249 L129.3 250.5 L130.2 252 L130.3 253.5 L131.3 254.5" fill="none" stroke="#2a79be" stroke-width="1.1" stroke-linejoin="round"/>
<path d="M61.6 9.3L64 12.3L61.6 15.3L59.2 12.3Z" fill="#2a79be"/>
<path d="M48.8 18.1L51.1 21.1L48.8 24.1L46.4 21.1Z" fill="#2a79be"/>
<path d="M48.9 27.3L51.3 30.3L48.9 33.3L46.6 30.3Z" fill="#2a79be"/>
<path d="M49.3 36.5L51.6 39.5L49.3 42.5L46.9 39.5Z" fill="#2a79be"/>
<path d="M50.3 45.7L52.7 48.7L50.3 51.7L48 48.7Z" fill="#2a79be"/>
<path d="M53.1 54.9L55.5 57.9L53.1 60.9L50.8 57.9Z" fill="#2a79be"/>
<path d="M55.8 64.1L58.2 67.1L55.8 70.1L53.5 67.1Z" fill="#2a79be"/>
<path d="M59 73.3L61.4 76.3L59 79.3L56.7 76.3Z" fill="#2a79be"/>
<path d="M61.8 82.5L64.1 85.5L61.8 88.5L59.4 85.5Z" fill="#2a79be"/>
<path d="M64.9 91.7L67.2 94.7L64.9 97.7L62.5 94.7Z" fill="#2a79be"/>
<path d="M68.4 100.9L70.8 103.9L68.4 106.9L66.1 103.9Z" fill="#2a79be"/>
<path d="M72 110.1L74.3 113.1L72 116.1L69.6 113.1Z" fill="#2a79be"/>
<path d="M75.3 119.3L77.7 122.3L75.3 125.3L73 122.3Z" fill="#2a79be"/>
<path d="M78.7 128.5L81 131.5L78.7 134.5L76.3 131.5Z" fill="#2a79be"/>
<path d="M82.1 137.7L84.5 140.7L82.1 143.7L79.8 140.7Z" fill="#2a79be"/>
<path d="M85.7 146.9L88 149.9L85.7 152.9L83.3 149.9Z" fill="#2a79be"/>
<path d="M89.3 156.1L91.7 159.1L89.3 162.1L87 159.1Z" fill="#2a79be"/>
<path d="M93.1 165.3L95.5 168.3L93.1 171.3L90.8 168.3Z" fill="#2a79be"/>
<path d="M97 174.5L99.3 177.5L97 180.5L94.6 177.5Z" fill="#2a79be"/>
<path d="M100.9 183.7L103.3 186.7L100.9 189.7L98.6 186.7Z" fill="#2a79be"/>
<path d="M105 192.9L107.3 195.9L105 198.9L102.6 195.9Z" fill="#2a79be"/>
<path d="M109.1 202.1L111.5 205.1L109.1 208.1L106.8 205.1Z" fill="#2a79be"/>
<path d="M113.1 211.3L115.4 214.3L113.1 217.3L110.7 214.3Z" fill="#2a79be"/>
<path d="M116.9 220.5L119.3 223.5L116.9 226.5L114.6 223.5Z" fill="#2a79be"/>
<path d="M120.9 229.7L123.3 232.7L120.9 235.7L118.6 232.7Z" fill="#2a79be"/>
<path d="M125.3 238.9L127.7 241.9L125.3 244.9L123 241.9Z" fill="#2a79be"/>
<path d="M129.5 248.1L131.9 251.1L129.5 254.1L127.2 251.1Z" fill="#2a79be"/>
<path d="M61 12.5 L47.8 14 L48.2 15.5 L49.3 17 L50.1 18.5 L49.4 20 L49.9 21.5 L49.8 23 L49.8 24.5 L50 26 L49.7 27.5 L49.5 29 L49.6 30.5 L50.1 32 L50.5 33.5 L50.7 35 L51.1 36.5 L51.6 38 L52.3 39.5 L52.5 41 L52.6 42.5 L53 44 L53.6 45.5 L53.5 47 L53.8 48.5 L54.2 50 L54.2 51.5 L55.1 53 L54.7 54.5 L56.1 56 L56.1 57.5 L56.4 59 L57.4 60.5 L57.6 62 L58.8 63.5 L59.6 65 L59.9 66.5 L60.7 68 L61.8 69.5 L62.1 71 L63 72.5 L63.8 74 L64.8 75.5 L64.9 77 L65.7 78.5 L66.6 80 L66.3 81.5 L67.5 83 L67.7 84.5 L68.4 86 L69.9 87.5 L70.1 89 L71.1 90.5 L71.3 92 L72.2 93.5 L72.6 95 L73.3 96.5 L74.1 98 L74.9 99.5 L76 101 L76.4 102.5 L77.3 104 L77.9 105.5 L78.8 107 L79.2 108.5 L80.6 110 L80.9 111.5 L81.8 113 L82.5 114.5 L83.6 116 L84.2 117.5 L84.8 119 L85.6 120.5 L86.4 122 L87.3 123.5 L88 125 L88.9 126.5 L89.8 128 L90.3 129.5 L90.5 131 L92 132.5 L92.9 134 L93 135.5 L93.7 137 L94 138.5 L95.5 140 L95.8 141.5 L97.3 143 L97 144.5 L98.4 146 L99.4 147.5 L99.9 149 L100.6 150.5 L101.6 152 L102.2 153.5 L103.1 155 L104 156.5 L104.6 158 L105.5 159.5 L106.6 161 L107.1 162.5 L108 164 L108.5 165.5 L109.7 167 L110 168.5 L111.3 170 L111 171.5 L112.3 173 L112.9 174.5 L114.3 176 L114.8 177.5 L115.1 179 L116 180.5 L117.2 182 L117.6 183.5 L118.5 185 L118.8 186.5 L119.5 188 L120.8 189.5 L122 191 L122 192.5 L123.1 194 L123.4 195.5 L124.8 197 L125.1 198.5 L125.9 200 L126.3 201.5 L127.4 203 L128.4 204.5 L129.5 206 L129.6 207.5 L131 209 L131.4 210.5 L132.3 212 L133 213.5 L133.6 215 L134.6 216.5 L136.1 218 L136.3 219.5 L137.3 221 L138.5 222.5 L138.5 224 L140 225.5 L140.6 227 L141.5 228.5 L142.5 230 L143 231.5 L143.8 233 L144.8 234.5 L145.5 236 L145.9 237.5 L146.8 239 L147.3 240.5 L148.7 242 L148.8 243.5 L149.9 245 L151 246.5 L151.5 248 L152 249.5 L152.7 251 L153.4 252.5 L154.6 254 L154.7 254.5" fill="none" stroke="#b2182b" stroke-width="1.3" stroke-linejoin="round"/>
<circle cx="61" cy="12.5" r="0.6" fill="#b2182b"/>
<circle cx="49.1" cy="17" r="0.6" fill="#b2182b"/>
<circle cx="49.7" cy="20" r="0.6" fill="#b2182b"/>
<circle cx="49.8" cy="23" r="0.6" fill="#b2182b"/>
<circle cx="49.8" cy="26" r="0.6" fill="#b2182b"/>
<circle cx="49.9" cy="29" r="0.6" fill="#b2182b"/>
<circle cx="50.1" cy="32" r="0.6" fill="#b2182b"/>
<circle cx="50.7" cy="35" r="0.6" fill="#b2182b"/>
<circle cx="51.6" cy="38" r="0.6" fill="#b2182b"/>
<circle cx="52.4" cy="41" r="0.6" fill="#b2182b"/>
<circle cx="53" cy="44" r="0.6" fill="#b2182b"/>
<circle cx="53.6" cy="47" r="0.6" fill="#b2182b"/>
<circle cx="54.2" cy="50" r="0.6" fill="#b2182b"/>
<circle cx="54.8" cy="53" r="0.6" fill="#b2182b"/>
<circle cx="55.7" cy="56" r="0.6" fill="#b2182b"/>
<circle cx="56.8" cy="59" r="0.6" fill="#b2182b"/>
<circle cx="58" cy="62" r="0.6" fill="#b2182b"/>
<circle cx="59.4" cy="65" r="0.6" fill="#b2182b"/>
<circle cx="60.8" cy="68" r="0.6" fill="#b2182b"/>
<circle cx="62.3" cy="71" r="0.6" fill="#b2182b"/>
<circle cx="63.7" cy="74" r="0.6" fill="#b2182b"/>
<circle cx="65.1" cy="77" r="0.6" fill="#b2182b"/>
<circle cx="66.3" cy="80" r="0.6" fill="#b2182b"/>
<circle cx="67.6" cy="83" r="0.6" fill="#b2182b"/>
<circle cx="68.8" cy="86" r="0.6" fill="#b2182b"/>
<circle cx="70.1" cy="89" r="0.6" fill="#b2182b"/>
<circle cx="71.4" cy="92" r="0.6" fill="#b2182b"/>
<circle cx="72.7" cy="95" r="0.6" fill="#b2182b"/>
<circle cx="74.2" cy="98" r="0.6" fill="#b2182b"/>
<circle cx="75.7" cy="101" r="0.6" fill="#b2182b"/>
<circle cx="77.2" cy="104" r="0.6" fill="#b2182b"/>
<circle cx="78.7" cy="107" r="0.6" fill="#b2182b"/>
<circle cx="80.3" cy="110" r="0.6" fill="#b2182b"/>
<circle cx="81.8" cy="113" r="0.6" fill="#b2182b"/>
<circle cx="83.3" cy="116" r="0.6" fill="#b2182b"/>
<circle cx="84.8" cy="119" r="0.6" fill="#b2182b"/>
<circle cx="86.3" cy="122" r="0.6" fill="#b2182b"/>
<circle cx="87.8" cy="125" r="0.6" fill="#b2182b"/>
<circle cx="89.4" cy="128" r="0.6" fill="#b2182b"/>
<circle cx="90.8" cy="131" r="0.6" fill="#b2182b"/>
<circle cx="92.3" cy="134" r="0.6" fill="#b2182b"/>
<circle cx="93.8" cy="137" r="0.6" fill="#b2182b"/>
<circle cx="95.3" cy="140" r="0.6" fill="#b2182b"/>
<circle cx="96.8" cy="143" r="0.6" fill="#b2182b"/>
<circle cx="98.4" cy="146" r="0.6" fill="#b2182b"/>
<circle cx="100" cy="149" r="0.6" fill="#b2182b"/>
<circle cx="101.6" cy="152" r="0.6" fill="#b2182b"/>
<circle cx="103.2" cy="155" r="0.6" fill="#b2182b"/>
<circle cx="104.8" cy="158" r="0.6" fill="#b2182b"/>
<circle cx="106.4" cy="161" r="0.6" fill="#b2182b"/>
<circle cx="107.9" cy="164" r="0.6" fill="#b2182b"/>
<circle cx="109.5" cy="167" r="0.6" fill="#b2182b"/>
<circle cx="111" cy="170" r="0.6" fill="#b2182b"/>
<circle cx="112.5" cy="173" r="0.6" fill="#b2182b"/>
<circle cx="114" cy="176" r="0.6" fill="#b2182b"/>
<circle cx="115.4" cy="179" r="0.6" fill="#b2182b"/>
<circle cx="116.9" cy="182" r="0.6" fill="#b2182b"/>
<circle cx="118.4" cy="185" r="0.6" fill="#b2182b"/>
<circle cx="119.9" cy="188" r="0.6" fill="#b2182b"/>
<circle cx="121.4" cy="191" r="0.6" fill="#b2182b"/>
<circle cx="122.9" cy="194" r="0.6" fill="#b2182b"/>
<circle cx="124.5" cy="197" r="0.6" fill="#b2182b"/>
<circle cx="126" cy="200" r="0.6" fill="#b2182b"/>
<circle cx="127.6" cy="203" r="0.6" fill="#b2182b"/>
<circle cx="129.1" cy="206" r="0.6" fill="#b2182b"/>
<circle cx="130.7" cy="209" r="0.6" fill="#b2182b"/>
<circle cx="132.4" cy="212" r="0.6" fill="#b2182b"/>
<circle cx="134" cy="215" r="0.6" fill="#b2182b"/>
<circle cx="135.7" cy="218" r="0.6" fill="#b2182b"/>
<circle cx="137.4" cy="221" r="0.6" fill="#b2182b"/>
<circle cx="139.1" cy="224" r="0.6" fill="#b2182b"/>
<circle cx="140.7" cy="227" r="0.6" fill="#b2182b"/>
<circle cx="142.3" cy="230" r="0.6" fill="#b2182b"/>
<circle cx="143.8" cy="233" r="0.6" fill="#b2182b"/>
<circle cx="145.4" cy="236" r="0.6" fill="#b2182b"/>
<circle cx="146.9" cy="239" r="0.6" fill="#b2182b"/>
<circle cx="148.4" cy="242" r="0.6" fill="#b2182b"/>
<circle cx="149.9" cy="245" r="0.6" fill="#b2182b"/>
<circle cx="151.4" cy="248" r="0.6" fill="#b2182b"/>
<circle cx="152.8" cy="251" r="0.6" fill="#b2182b"/>
<path d="M61 12.5 L47.8 14.5 L49.1 16 L49 17.5 L49.4 19 L49.4 20.5 L49.5 22 L49.6 23.5 L49.4 25 L49.7 26.5 L49.6 28 L49.4 29.5 L48.9 31 L49.9 32.5 L49.7 34 L50.2 35.5 L50.7 37 L50.8 38.5 L51.4 40 L51.9 41.5 L52.1 43 L52.6 44.5 L52.6 46 L53 47.5 L53.1 49 L53.6 50.5 L54.1 52 L54.4 53.5 L54.5 55 L55.3 56.5 L55.9 58 L56.8 59.5 L57.1 61 L57.7 62.5 L58.2 64 L59.7 65.5 L59.7 67 L60.4 68.5 L61.4 70 L61.7 71.5 L63.2 73 L63.7 74.5 L64.4 76 L64.7 77.5 L65.5 79 L66.5 80.5 L67.1 82 L68.2 83.5 L68.4 85 L68.2 86.5 L69.4 88 L69.9 89.5 L70.9 91 L71.3 92.5 L72.1 94 L72.6 95.5 L73.5 97 L74.5 98.5 L74.7 100 L75.1 101.5 L76.1 103 L77.5 104.5 L78 106 L78.6 107.5 L79.2 109 L80.5 110.5 L81.1 112 L81.7 113.5 L82.4 115 L83.2 116.5 L83.9 118 L84.9 119.5 L85.8 121 L85.8 122.5 L86.7 124 L87.8 125.5 L88.6 127 L88.9 128.5 L89.9 130 L90.7 131.5 L91.4 133 L92.1 134.5 L93 136 L94 137.5 L94.7 139 L95.4 140.5 L96.1 142 L96.6 143.5 L97.4 145 L98.5 146.5 L99.2 148 L100.1 149.5 L100.8 151 L101.5 152.5 L102.4 154 L102.7 155.5 L103.9 157 L104.6 158.5 L105.7 160 L106.1 161.5 L107.2 163 L107.8 164.5 L108.8 166 L109.6 167.5 L110.2 169 L111 170.5 L111.8 172 L112.7 173.5 L113.1 175 L113.9 176.5 L114.5 178 L115.1 179.5 L116.1 181 L116.9 182.5 L117.4 184 L118.7 185.5 L118.9 187 L120 188.5 L120.7 190 L120.9 191.5 L122.1 193 L122.5 194.5 L123.6 196 L124.6 197.5 L125.6 199 L126.1 200.5 L126.3 202 L127.4 203.5 L128.7 205 L129.1 206.5 L130.3 208 L130.5 209.5 L131.4 211 L132 212.5 L133.1 214 L134.3 215.5 L134.6 217 L135.9 218.5 L136.6 220 L137.6 221.5 L138.1 223 L139 224.5 L140.4 226 L140.3 227.5 L141.6 229 L142.6 230.5 L143.1 232 L144.2 233.5 L143.8 235 L145.2 236.5 L145.8 238 L146.7 239.5 L147.5 241 L148.4 242.5 L148.8 244 L150 245.5 L150.1 247 L151.5 248.5 L152 250 L152.3 251.5 L153.1 253 L153.8 254.5" fill="none" stroke="#1f56a5" stroke-width="1.25" stroke-linejoin="round"/>
<circle cx="61" cy="12.5" r="0.6" fill="#1f56a5"/>
<circle cx="49" cy="17" r="0.6" fill="#1f56a5"/>
<circle cx="49.5" cy="20" r="0.6" fill="#1f56a5"/>
<circle cx="49.5" cy="23" r="0.6" fill="#1f56a5"/>
<circle cx="49.5" cy="26" r="0.6" fill="#1f56a5"/>
<circle cx="49.5" cy="29" r="0.6" fill="#1f56a5"/>
<circle cx="49.6" cy="32" r="0.6" fill="#1f56a5"/>
<circle cx="50.2" cy="35" r="0.6" fill="#1f56a5"/>
<circle cx="51" cy="38" r="0.6" fill="#1f56a5"/>
<circle cx="51.8" cy="41" r="0.6" fill="#1f56a5"/>
<circle cx="52.4" cy="44" r="0.6" fill="#1f56a5"/>
<circle cx="53" cy="47" r="0.6" fill="#1f56a5"/>
<circle cx="53.6" cy="50" r="0.6" fill="#1f56a5"/>
<circle cx="54.3" cy="53" r="0.6" fill="#1f56a5"/>
<circle cx="55.2" cy="56" r="0.6" fill="#1f56a5"/>
<circle cx="56.3" cy="59" r="0.6" fill="#1f56a5"/>
<circle cx="57.6" cy="62" r="0.6" fill="#1f56a5"/>
<circle cx="59" cy="65" r="0.6" fill="#1f56a5"/>
<circle cx="60.5" cy="68" r="0.6" fill="#1f56a5"/>
<circle cx="61.9" cy="71" r="0.6" fill="#1f56a5"/>
<circle cx="63.4" cy="74" r="0.6" fill="#1f56a5"/>
<circle cx="64.8" cy="77" r="0.6" fill="#1f56a5"/>
<circle cx="66" cy="80" r="0.6" fill="#1f56a5"/>
<circle cx="67.3" cy="83" r="0.6" fill="#1f56a5"/>
<circle cx="68.5" cy="86" r="0.6" fill="#1f56a5"/>
<circle cx="69.8" cy="89" r="0.6" fill="#1f56a5"/>
<circle cx="71.1" cy="92" r="0.6" fill="#1f56a5"/>
<circle cx="72.4" cy="95" r="0.6" fill="#1f56a5"/>
<circle cx="73.9" cy="98" r="0.6" fill="#1f56a5"/>
<circle cx="75.4" cy="101" r="0.6" fill="#1f56a5"/>
<circle cx="76.9" cy="104" r="0.6" fill="#1f56a5"/>
<circle cx="78.4" cy="107" r="0.6" fill="#1f56a5"/>
<circle cx="80" cy="110" r="0.6" fill="#1f56a5"/>
<circle cx="81.5" cy="113" r="0.6" fill="#1f56a5"/>
<circle cx="83" cy="116" r="0.6" fill="#1f56a5"/>
<circle cx="84.5" cy="119" r="0.6" fill="#1f56a5"/>
<circle cx="86" cy="122" r="0.6" fill="#1f56a5"/>
<circle cx="87.5" cy="125" r="0.6" fill="#1f56a5"/>
<circle cx="89.1" cy="128" r="0.6" fill="#1f56a5"/>
<circle cx="90.5" cy="131" r="0.6" fill="#1f56a5"/>
<circle cx="92" cy="134" r="0.6" fill="#1f56a5"/>
<circle cx="93.5" cy="137" r="0.6" fill="#1f56a5"/>
<circle cx="95" cy="140" r="0.6" fill="#1f56a5"/>
<circle cx="96.5" cy="143" r="0.6" fill="#1f56a5"/>
<circle cx="98.1" cy="146" r="0.6" fill="#1f56a5"/>
<circle cx="99.7" cy="149" r="0.6" fill="#1f56a5"/>
<circle cx="101.3" cy="152" r="0.6" fill="#1f56a5"/>
<circle cx="102.9" cy="155" r="0.6" fill="#1f56a5"/>
<circle cx="104.5" cy="158" r="0.6" fill="#1f56a5"/>
<circle cx="106.1" cy="161" r="0.6" fill="#1f56a5"/>
<circle cx="107.6" cy="164" r="0.6" fill="#1f56a5"/>
<circle cx="109.2" cy="167" r="0.6" fill="#1f56a5"/>
<circle cx="110.7" cy="170" r="0.6" fill="#1f56a5"/>
<circle cx="112.2" cy="173" r="0.6" fill="#1f56a5"/>
<circle cx="113.7" cy="176" r="0.6" fill="#1f56a5"/>
<circle cx="115.1" cy="179" r="0.6" fill="#1f56a5"/>
<circle cx="116.6" cy="182" r="0.6" fill="#1f56a5"/>
<circle cx="118.1" cy="185" r="0.6" fill="#1f56a5"/>
<circle cx="119.6" cy="188" r="0.6" fill="#1f56a5"/>
<circle cx="121.1" cy="191" r="0.6" fill="#1f56a5"/>
<circle cx="122.6" cy="194" r="0.6" fill="#1f56a5"/>
<circle cx="124.2" cy="197" r="0.6" fill="#1f56a5"/>
<circle cx="125.7" cy="200" r="0.6" fill="#1f56a5"/>
<circle cx="127.3" cy="203" r="0.6" fill="#1f56a5"/>
<circle cx="128.8" cy="206" r="0.6" fill="#1f56a5"/>
<circle cx="130.4" cy="209" r="0.6" fill="#1f56a5"/>
<circle cx="132.1" cy="212" r="0.6" fill="#1f56a5"/>
<circle cx="133.7" cy="215" r="0.6" fill="#1f56a5"/>
<circle cx="135.4" cy="218" r="0.6" fill="#1f56a5"/>
<circle cx="137.1" cy="221" r="0.6" fill="#1f56a5"/>
<circle cx="138.8" cy="224" r="0.6" fill="#1f56a5"/>
<circle cx="140.4" cy="227" r="0.6" fill="#1f56a5"/>
<circle cx="142" cy="230" r="0.6" fill="#1f56a5"/>
<circle cx="143.5" cy="233" r="0.6" fill="#1f56a5"/>
<circle cx="145.1" cy="236" r="0.6" fill="#1f56a5"/>
<circle cx="146.6" cy="239" r="0.6" fill="#1f56a5"/>
<circle cx="148.1" cy="242" r="0.6" fill="#1f56a5"/>
<circle cx="149.6" cy="245" r="0.6" fill="#1f56a5"/>
<circle cx="151.1" cy="248" r="0.6" fill="#1f56a5"/>
<circle cx="152.5" cy="251" r="0.6" fill="#1f56a5"/></g>
<g><path d="M291 12.8 L286.6 22.6 L286.5 24.1 L286.3 25.6 L285.8 27.1 L284.8 28.6 L284.2 30.1 L284.5 31.6 L284 33.1 L284.1 34.6 L283.8 36.1 L284.5 37.6 L283.4 39.1 L283.8 40.6 L284.2 42.1 L283.7 43.6 L283.6 45.1 L284.2 46.6 L283.2 48.1 L283.3 49.6 L283.4 51.1 L283.8 52.6 L283.8 54.1 L283.5 55.6 L283.9 57.1 L283.2 58.6 L283.2 60.1 L283 61.6 L283.3 63.1 L282.9 64.6 L282.7 66.1 L283.1 67.6 L283 69.1 L282.9 70.6 L282.4 72.1 L282.5 73.6 L282.7 75.1 L282.8 76.6 L282.8 78.1 L283 79.6 L283.3 81.1 L283 82.6 L283.4 84.1 L283.4 85.6 L283.5 87.1 L283.7 88.6 L284.1 90.1 L284.2 91.6 L284 93.1 L284.5 94.6 L284.6 96.1 L284.8 97.6 L284.8 99.1 L285.3 100.6 L285.3 102.1 L285.1 103.6 L285.3 105.1 L285.5 106.6 L286.2 108.1 L286.1 109.6 L286.5 111.1 L286.8 112.6 L287.4 114.1 L287.9 115.6 L287.6 117.1 L288.4 118.6 L288.3 120.1 L288.7 121.6 L288.7 123.1 L288.7 124.6 L289.4 126.1 L289.9 127.6 L289.4 129.1 L290.1 130.6 L290.4 132.1 L290.8 133.6 L290.6 135.1 L291 136.6 L291.7 138.1 L292.2 139.6 L292 141.1 L292.5 142.6 L292.6 144.1 L293 145.6 L293.1 147.1 L293.4 148.6 L293.7 150.1 L294.2 151.6 L294.8 153.1 L294.9 154.6 L295.4 156.1 L295.4 157.6 L296.2 159.1 L295.6 160.6 L296.4 162.1 L297.1 163.6 L297.1 165.1 L298.1 166.6 L298.5 168.1 L298.6 169.6 L299.3 171.1 L299.3 172.6 L299.9 174.1 L300.5 175.6 L300.6 177.1 L301.7 178.6 L301.7 180.1 L302.6 181.6 L302.7 183.1 L303.3 184.6 L303.4 186.1 L304 187.6 L304.4 189.1 L305 190.6 L305.7 192.1 L305.7 193.6 L306.2 195.1 L306.8 196.6 L307.3 198.1 L307.5 199.6 L307.8 201.1 L308.1 202.6 L308.7 204.1 L309.1 205.6 L309.3 207.1 L309.8 208.6 L310.4 210.1 L310.6 211.6 L310.9 213.1 L311.6 214.6 L312 216.1 L312.4 217.6 L312.8 219.1 L312.9 220.6 L313.4 222.1 L313.9 223.6 L314.2 225.1 L314.1 226.6 L315 228.1 L315.5 229.6 L315.9 231.1 L316.1 232.6 L316.6 234.1 L316.6 235.6 L317.1 237.1 L317.2 238.6 L318.3 240.1 L319.2 241.6 L319.6 243.1 L319.4 244.6 L320.2 246.1 L320.8 247.6 L320.9 249.1 L320.9 250.6 L322.2 252.1 L322.2 253.6 L322.4 254.5" fill="none" stroke="#f4a582" stroke-width="1.0" stroke-linejoin="round"/>
<circle cx="291" cy="12.8" r="2.4" fill="#fff" stroke="#f4a582" stroke-width="0.9"/>
<circle cx="286.9" cy="21.5" r="2.4" fill="#fff" stroke="#f4a582" stroke-width="0.9"/>
<circle cx="284.7" cy="30.7" r="2.4" fill="#fff" stroke="#f4a582" stroke-width="0.9"/>
<circle cx="283.8" cy="39.9" r="2.4" fill="#fff" stroke="#f4a582" stroke-width="0.9"/>
<circle cx="283.8" cy="49.2" r="2.4" fill="#fff" stroke="#f4a582" stroke-width="0.9"/>
<circle cx="283.3" cy="58.4" r="2.4" fill="#fff" stroke="#f4a582" stroke-width="0.9"/>
<circle cx="282.7" cy="67.6" r="2.4" fill="#fff" stroke="#f4a582" stroke-width="0.9"/>
<circle cx="282.9" cy="76.8" r="2.4" fill="#fff" stroke="#f4a582" stroke-width="0.9"/>
<circle cx="283.6" cy="86" r="2.4" fill="#fff" stroke="#f4a582" stroke-width="0.9"/>
<circle cx="284.5" cy="95.3" r="2.4" fill="#fff" stroke="#f4a582" stroke-width="0.9"/>
<circle cx="285.5" cy="104.5" r="2.4" fill="#fff" stroke="#f4a582" stroke-width="0.9"/>
<circle cx="287" cy="113.7" r="2.4" fill="#fff" stroke="#f4a582" stroke-width="0.9"/>
<circle cx="288.7" cy="122.9" r="2.4" fill="#fff" stroke="#f4a582" stroke-width="0.9"/>
<circle cx="290.4" cy="132.1" r="2.4" fill="#fff" stroke="#f4a582" stroke-width="0.9"/>
<circle cx="292.1" cy="141.4" r="2.4" fill="#fff" stroke="#f4a582" stroke-width="0.9"/>
<circle cx="293.9" cy="150.6" r="2.4" fill="#fff" stroke="#f4a582" stroke-width="0.9"/>
<circle cx="296.2" cy="159.8" r="2.4" fill="#fff" stroke="#f4a582" stroke-width="0.9"/>
<circle cx="298.7" cy="169" r="2.4" fill="#fff" stroke="#f4a582" stroke-width="0.9"/>
<circle cx="301.3" cy="178.2" r="2.4" fill="#fff" stroke="#f4a582" stroke-width="0.9"/>
<circle cx="304.1" cy="187.5" r="2.4" fill="#fff" stroke="#f4a582" stroke-width="0.9"/>
<circle cx="306.7" cy="196.7" r="2.4" fill="#fff" stroke="#f4a582" stroke-width="0.9"/>
<circle cx="309.2" cy="205.9" r="2.4" fill="#fff" stroke="#f4a582" stroke-width="0.9"/>
<circle cx="311.6" cy="215.1" r="2.4" fill="#fff" stroke="#f4a582" stroke-width="0.9"/>
<circle cx="314" cy="224.3" r="2.4" fill="#fff" stroke="#f4a582" stroke-width="0.9"/>
<circle cx="316.5" cy="233.6" r="2.4" fill="#fff" stroke="#f4a582" stroke-width="0.9"/>
<circle cx="319.1" cy="242.8" r="2.4" fill="#fff" stroke="#f4a582" stroke-width="0.9"/>
<circle cx="321.8" cy="252" r="2.4" fill="#fff" stroke="#f4a582" stroke-width="0.9"/>
<path d="M290.3 12.6 L292.7 22.6 L292.5 24.1 L292.7 25.6 L293 27.1 L292.7 28.6 L292.6 30.1 L293.2 31.6 L293.1 33.1 L293.5 34.6 L293.5 36.1 L293.4 37.6 L293.7 39.1 L293.8 40.6 L293.9 42.1 L294.1 43.6 L294.4 45.1 L294.5 46.6 L294.2 48.1 L294.8 49.6 L294.4 51.1 L295.4 52.6 L294.7 54.1 L295 55.6 L295.4 57.1 L295.1 58.6 L294.9 60.1 L294.9 61.6 L295.4 63.1 L295.5 64.6 L295.7 66.1 L295.7 67.6 L295.6 69.1 L296 70.6 L296.4 72.1 L296 73.6 L297.3 75.1 L296.6 76.6 L297.2 78.1 L297.7 79.6 L297.7 81.1 L297.9 82.6 L298.3 84.1 L298.8 85.6 L298.1 87.1 L299.3 88.6 L299.4 90.1 L299.7 91.6 L300.2 93.1 L300.6 94.6 L301 96.1 L301.1 97.6 L301.8 99.1 L301.3 100.6 L301.9 102.1 L302.1 103.6 L302.8 105.1 L303 106.6 L303.5 108.1 L303.5 109.6 L304.4 111.1 L304.5 112.6 L304.6 114.1 L304.6 115.6 L305 117.1 L305.2 118.6 L306.3 120.1 L306.5 121.6 L306.3 123.1 L307.3 124.6 L307.1 126.1 L306.9 127.6 L308 129.1 L308.3 130.6 L308.3 132.1 L308.3 133.6 L309.1 135.1 L308.9 136.6 L309.3 138.1 L309.6 139.6 L309.8 141.1 L309.9 142.6 L310 144.1 L310.6 145.6 L310.1 147.1 L311 148.6 L311.3 150.1 L311.6 151.6 L311.7 153.1 L312.1 154.6 L312.5 156.1 L312.4 157.6 L313 159.1 L313.4 160.6 L313.3 162.1 L313.7 163.6 L314.6 165.1 L314.8 166.6 L314.7 168.1 L315.4 169.6 L315.6 171.1 L316.2 172.6 L316.5 174.1 L315.9 175.6 L316.8 177.1 L317.5 178.6 L317.9 180.1 L317.6 181.6 L317.8 183.1 L318.5 184.6 L318.5 186.1 L319 187.6 L319 189.1 L319.7 190.6 L319.9 192.1 L320.2 193.6 L320 195.1 L320.1 196.6 L320.4 198.1 L321.1 199.6 L320.7 201.1 L321.5 202.6 L322 204.1 L321.5 205.6 L321.8 207.1 L322.3 208.6 L322.5 210.1 L322.2 211.6 L322.5 213.1 L322.7 214.6 L322.8 216.1 L323.2 217.6 L323.2 219.1 L323.6 220.6 L323 222.1 L323.9 223.6 L323.9 225.1 L323.8 226.6 L324.1 228.1 L324.4 229.6 L324.3 231.1 L324.3 232.6 L324.6 234.1 L324.5 235.6 L324.5 237.1 L324.7 238.6 L324.9 240.1 L325.2 241.6 L325.5 243.1 L325.5 244.6 L326 246.1 L325.7 247.6 L325.7 249.1 L325.8 250.6 L325.9 252.1 L326.2 253.6 L326.7 254.5" fill="none" stroke="#a9cde6" stroke-width="1.0" stroke-linejoin="round"/>
<circle cx="290.3" cy="12.6" r="2.1" fill="#a9cde6" stroke="#a9cde6" stroke-width="0.6"/>
<circle cx="292.3" cy="21.6" r="2.1" fill="#a9cde6" stroke="#a9cde6" stroke-width="0.6"/>
<circle cx="292.9" cy="30.8" r="2.1" fill="#a9cde6" stroke="#a9cde6" stroke-width="0.6"/>
<circle cx="293.8" cy="40" r="2.1" fill="#a9cde6" stroke="#a9cde6" stroke-width="0.6"/>
<circle cx="294.6" cy="49.3" r="2.1" fill="#a9cde6" stroke="#a9cde6" stroke-width="0.6"/>
<circle cx="295.1" cy="58.5" r="2.1" fill="#a9cde6" stroke="#a9cde6" stroke-width="0.6"/>
<circle cx="295.6" cy="67.7" r="2.1" fill="#a9cde6" stroke="#a9cde6" stroke-width="0.6"/>
<circle cx="296.7" cy="76.9" r="2.1" fill="#a9cde6" stroke="#a9cde6" stroke-width="0.6"/>
<circle cx="298.6" cy="86.1" r="2.1" fill="#a9cde6" stroke="#a9cde6" stroke-width="0.6"/>
<circle cx="300.7" cy="95.4" r="2.1" fill="#a9cde6" stroke="#a9cde6" stroke-width="0.6"/>
<circle cx="302.6" cy="104.6" r="2.1" fill="#a9cde6" stroke="#a9cde6" stroke-width="0.6"/>
<circle cx="304.6" cy="113.8" r="2.1" fill="#a9cde6" stroke="#a9cde6" stroke-width="0.6"/>
<circle cx="306.6" cy="123" r="2.1" fill="#a9cde6" stroke="#a9cde6" stroke-width="0.6"/>
<circle cx="308.3" cy="132.2" r="2.1" fill="#a9cde6" stroke="#a9cde6" stroke-width="0.6"/>
<circle cx="309.8" cy="141.5" r="2.1" fill="#a9cde6" stroke="#a9cde6" stroke-width="0.6"/>
<circle cx="311.3" cy="150.7" r="2.1" fill="#a9cde6" stroke="#a9cde6" stroke-width="0.6"/>
<circle cx="313.1" cy="159.9" r="2.1" fill="#a9cde6" stroke="#a9cde6" stroke-width="0.6"/>
<circle cx="315.1" cy="169.1" r="2.1" fill="#a9cde6" stroke="#a9cde6" stroke-width="0.6"/>
<circle cx="317.1" cy="178.3" r="2.1" fill="#a9cde6" stroke="#a9cde6" stroke-width="0.6"/>
<circle cx="319" cy="187.6" r="2.1" fill="#a9cde6" stroke="#a9cde6" stroke-width="0.6"/>
<circle cx="320.5" cy="196.8" r="2.1" fill="#a9cde6" stroke="#a9cde6" stroke-width="0.6"/>
<circle cx="321.8" cy="206" r="2.1" fill="#a9cde6" stroke="#a9cde6" stroke-width="0.6"/>
<circle cx="322.8" cy="215.2" r="2.1" fill="#a9cde6" stroke="#a9cde6" stroke-width="0.6"/>
<circle cx="323.7" cy="224.4" r="2.1" fill="#a9cde6" stroke="#a9cde6" stroke-width="0.6"/>
<circle cx="324.5" cy="233.7" r="2.1" fill="#a9cde6" stroke="#a9cde6" stroke-width="0.6"/>
<circle cx="325.3" cy="242.9" r="2.1" fill="#a9cde6" stroke="#a9cde6" stroke-width="0.6"/>
<circle cx="326.2" cy="252.1" r="2.1" fill="#a9cde6" stroke="#a9cde6" stroke-width="0.6"/>
<path d="M266 13 L264.2 20.3 L264.4 21.8 L263.9 23.3 L263.7 24.8 L263 26.3 L263 27.8 L262.4 29.3 L262.4 30.8 L261.5 32.3 L261.8 33.8 L261.6 35.3 L260.8 36.8 L261.2 38.3 L260.5 39.8 L260.9 41.3 L260.5 42.8 L260.6 44.3 L260.4 45.8 L259.9 47.3 L260.4 48.8 L260.2 50.3 L259.5 51.8 L259.8 53.3 L259.6 54.8 L259.1 56.3 L258.9 57.8 L259.3 59.3 L258.8 60.8 L259 62.3 L259.1 63.8 L258.6 65.3 L258.2 66.8 L258.5 68.3 L257.9 69.8 L257.9 71.3 L258.8 72.8 L257.9 74.3 L258.1 75.8 L257.7 77.3 L257.9 78.8 L257.9 80.3 L257.2 81.8 L257.6 83.3 L257.9 84.8 L257.9 86.3 L257.7 87.8 L257.4 89.3 L257.7 90.8 L257.5 92.3 L257.4 93.8 L257.5 95.3 L258.1 96.8 L257.3 98.3 L257.8 99.8 L257.6 101.3 L257.2 102.8 L257.3 104.3 L257.6 105.8 L257.6 107.3 L257.8 108.8 L257.6 110.3 L257.7 111.8 L258.3 113.3 L258.1 114.8 L258 116.3 L258.4 117.8 L259 119.3 L258.5 120.8 L258.4 122.3 L259.2 123.8 L259.6 125.3 L259.5 126.8 L259 128.3 L259 129.8 L260 131.3 L259.8 132.8 L260.1 134.3 L260.2 135.8 L260.9 137.3 L260.7 138.8 L260.9 140.3 L261.2 141.8 L261.1 143.3 L261.8 144.8 L262 146.3 L261.7 147.8 L262.2 149.3 L262.4 150.8 L262.6 152.3 L263.3 153.8 L263.8 155.3 L263.9 156.8 L263.7 158.3 L263.9 159.8 L264.8 161.3 L264.8 162.8 L265.1 164.3 L265.1 165.8 L265.2 167.3 L266.5 168.8 L266 170.3 L266.4 171.8 L266.4 173.3 L267.3 174.8 L267.1 176.3 L267.4 177.8 L267.7 179.3 L268 180.8 L268.6 182.3 L268.1 183.8 L269 185.3 L269 186.8 L269.3 188.3 L269.6 189.8 L270.1 191.3 L270 192.8 L270.6 194.3 L271.2 195.8 L271.2 197.3 L271.6 198.8 L272.2 200.3 L272.5 201.8 L272.7 203.3 L273.2 204.8 L273.4 206.3 L274.3 207.8 L274.2 209.3 L274.5 210.8 L275.3 212.3 L275.3 213.8 L275.7 215.3 L276.2 216.8 L276.8 218.3 L276.8 219.8 L277.1 221.3 L277.4 222.8 L277.8 224.3 L277.9 225.8 L278.3 227.3 L278.9 228.8 L278.8 230.3 L279 231.8 L279.2 233.3 L279.5 234.8 L279.7 236.3 L280 237.8 L280.5 239.3 L281.1 240.8 L281.5 242.3 L281.6 243.8 L282.1 245.3 L282.1 246.8 L283.3 248.3 L283.8 249.8 L283.6 251.3 L284.1 252.8 L284.4 254.3 L284.6 254.5" fill="none" stroke="#f0623e" stroke-width="1.0" stroke-linejoin="round"/>
<rect x="264.2" y="11.2" width="3.5" height="3.5" fill="#fff" stroke="#f0623e" stroke-width="0.9"/>
<rect x="262.6" y="19.6" width="3.5" height="3.5" fill="#fff" stroke="#f0623e" stroke-width="0.9"/>
<rect x="260.5" y="28.7" width="3.5" height="3.5" fill="#fff" stroke="#f0623e" stroke-width="0.9"/>
<rect x="259.1" y="37.9" width="3.5" height="3.5" fill="#fff" stroke="#f0623e" stroke-width="0.9"/>
<rect x="258.3" y="47" width="3.5" height="3.5" fill="#fff" stroke="#f0623e" stroke-width="0.9"/>
<rect x="257.4" y="56.2" width="3.5" height="3.5" fill="#fff" stroke="#f0623e" stroke-width="0.9"/>
<rect x="256.6" y="65.3" width="3.5" height="3.5" fill="#fff" stroke="#f0623e" stroke-width="0.9"/>
<rect x="256.2" y="74.5" width="3.5" height="3.5" fill="#fff" stroke="#f0623e" stroke-width="0.9"/>
<rect x="255.9" y="83.6" width="3.5" height="3.5" fill="#fff" stroke="#f0623e" stroke-width="0.9"/>
<rect x="255.8" y="92.8" width="3.5" height="3.5" fill="#fff" stroke="#f0623e" stroke-width="0.9"/>
<rect x="255.8" y="101.9" width="3.5" height="3.5" fill="#fff" stroke="#f0623e" stroke-width="0.9"/>
<rect x="256.2" y="111.1" width="3.5" height="3.5" fill="#fff" stroke="#f0623e" stroke-width="0.9"/>
<rect x="257" y="120.2" width="3.5" height="3.5" fill="#fff" stroke="#f0623e" stroke-width="0.9"/>
<rect x="257.9" y="129.4" width="3.5" height="3.5" fill="#fff" stroke="#f0623e" stroke-width="0.9"/>
<rect x="259.2" y="138.5" width="3.5" height="3.5" fill="#fff" stroke="#f0623e" stroke-width="0.9"/>
<rect x="260.7" y="147.7" width="3.5" height="3.5" fill="#fff" stroke="#f0623e" stroke-width="0.9"/>
<rect x="262.4" y="156.8" width="3.5" height="3.5" fill="#fff" stroke="#f0623e" stroke-width="0.9"/>
<rect x="264" y="166" width="3.5" height="3.5" fill="#fff" stroke="#f0623e" stroke-width="0.9"/>
<rect x="265.5" y="175.1" width="3.5" height="3.5" fill="#fff" stroke="#f0623e" stroke-width="0.9"/>
<rect x="267.2" y="184.3" width="3.5" height="3.5" fill="#fff" stroke="#f0623e" stroke-width="0.9"/>
<rect x="269.1" y="193.4" width="3.5" height="3.5" fill="#fff" stroke="#f0623e" stroke-width="0.9"/>
<rect x="271.3" y="202.6" width="3.5" height="3.5" fill="#fff" stroke="#f0623e" stroke-width="0.9"/>
<rect x="273.8" y="211.7" width="3.5" height="3.5" fill="#fff" stroke="#f0623e" stroke-width="0.9"/>
<rect x="275.7" y="220.9" width="3.5" height="3.5" fill="#fff" stroke="#f0623e" stroke-width="0.9"/>
<rect x="277.4" y="230" width="3.5" height="3.5" fill="#fff" stroke="#f0623e" stroke-width="0.9"/>
<rect x="279.3" y="239.2" width="3.5" height="3.5" fill="#fff" stroke="#f0623e" stroke-width="0.9"/>
<rect x="281.5" y="248.3" width="3.5" height="3.5" fill="#fff" stroke="#f0623e" stroke-width="0.9"/>
<path d="M265.4 12.6 L266.2 22 L265.9 23.5 L266.3 25 L265.7 26.5 L265.9 28 L265.6 29.5 L265.6 31 L266 32.5 L266.2 34 L265.8 35.5 L265.8 37 L266 38.5 L265.8 40 L265.6 41.5 L266.1 43 L265.6 44.5 L266.3 46 L266.1 47.5 L266.4 49 L266 50.5 L266.3 52 L266.8 53.5 L267.1 55 L267.2 56.5 L267.2 58 L267 59.5 L267.6 61 L267.7 62.5 L267.8 64 L268.4 65.5 L268 67 L268.8 68.5 L268.3 70 L268.4 71.5 L268.7 73 L268.4 74.5 L268.7 76 L268.9 77.5 L268.6 79 L268.9 80.5 L268.8 82 L269.1 83.5 L269.5 85 L269.2 86.5 L269.3 88 L269.5 89.5 L269.2 91 L269.6 92.5 L269.5 94 L269.6 95.5 L269.4 97 L269.7 98.5 L270.2 100 L270.4 101.5 L270.1 103 L270.3 104.5 L270.3 106 L270.3 107.5 L270.2 109 L271.3 110.5 L270.7 112 L271.2 113.5 L271.6 115 L271.3 116.5 L271.5 118 L271.7 119.5 L271.7 121 L272 122.5 L272 124 L272.5 125.5 L272.4 127 L272.1 128.5 L272.2 130 L272.4 131.5 L272.5 133 L272.5 134.5 L273 136 L272.7 137.5 L272.8 139 L273 140.5 L272.5 142 L273.2 143.5 L273.3 145 L273.6 146.5 L273.1 148 L273.3 149.5 L273.5 151 L273.4 152.5 L273.3 154 L273.9 155.5 L273.7 157 L274 158.5 L273.7 160 L274.3 161.5 L274.1 163 L274.1 164.5 L274.6 166 L274.8 167.5 L274.4 169 L275 170.5 L275.3 172 L275 173.5 L274.7 175 L275.3 176.5 L275.6 178 L275.2 179.5 L275.9 181 L275.6 182.5 L275.7 184 L276.1 185.5 L276 187 L276.3 188.5 L276.1 190 L276.3 191.5 L276.2 193 L276.4 194.5 L276.5 196 L276.5 197.5 L276.4 199 L276.7 200.5 L276.5 202 L276.9 203.5 L276.8 205 L276.7 206.5 L276.5 208 L276.8 209.5 L277.1 211 L276.9 212.5 L277.1 214 L276.8 215.5 L276.8 217 L276.7 218.5 L276.5 220 L277.1 221.5 L277 223 L277 224.5 L277.2 226 L276.8 227.5 L277.5 229 L276.8 230.5 L277.2 232 L276.9 233.5 L277.1 235 L277.5 236.5 L276.9 238 L277.3 239.5 L277.3 241 L277.3 242.5 L277.4 244 L277.5 245.5 L277.5 247 L277.5 248.5 L277.6 250 L277.6 251.5 L277.4 253 L277.2 254.5" fill="none" stroke="#4b97d0" stroke-width="1.0" stroke-linejoin="round"/>
<rect x="263.5" y="10.7" width="3.8" height="3.8" fill="#4b97d0"/>
<rect x="264.5" y="19.4" width="3.8" height="3.8" fill="#4b97d0"/>
<rect x="263.9" y="28.6" width="3.8" height="3.8" fill="#4b97d0"/>
<rect x="264.1" y="37.7" width="3.8" height="3.8" fill="#4b97d0"/>
<rect x="264.4" y="46.9" width="3.8" height="3.8" fill="#4b97d0"/>
<rect x="265.2" y="56" width="3.8" height="3.8" fill="#4b97d0"/>
<rect x="266.3" y="65.2" width="3.8" height="3.8" fill="#4b97d0"/>
<rect x="267" y="74.3" width="3.8" height="3.8" fill="#4b97d0"/>
<rect x="267.4" y="83.5" width="3.8" height="3.8" fill="#4b97d0"/>
<rect x="267.8" y="92.6" width="3.8" height="3.8" fill="#4b97d0"/>
<rect x="268.4" y="101.8" width="3.8" height="3.8" fill="#4b97d0"/>
<rect x="269.2" y="110.9" width="3.8" height="3.8" fill="#4b97d0"/>
<rect x="270" y="120.1" width="3.8" height="3.8" fill="#4b97d0"/>
<rect x="270.7" y="129.2" width="3.8" height="3.8" fill="#4b97d0"/>
<rect x="271.1" y="138.4" width="3.8" height="3.8" fill="#4b97d0"/>
<rect x="271.5" y="147.5" width="3.8" height="3.8" fill="#4b97d0"/>
<rect x="272" y="156.7" width="3.8" height="3.8" fill="#4b97d0"/>
<rect x="272.7" y="165.8" width="3.8" height="3.8" fill="#4b97d0"/>
<rect x="273.3" y="175" width="3.8" height="3.8" fill="#4b97d0"/>
<rect x="273.9" y="184.1" width="3.8" height="3.8" fill="#4b97d0"/>
<rect x="274.4" y="193.3" width="3.8" height="3.8" fill="#4b97d0"/>
<rect x="274.7" y="202.4" width="3.8" height="3.8" fill="#4b97d0"/>
<rect x="274.9" y="211.6" width="3.8" height="3.8" fill="#4b97d0"/>
<rect x="275.1" y="220.7" width="3.8" height="3.8" fill="#4b97d0"/>
<rect x="275.2" y="229.9" width="3.8" height="3.8" fill="#4b97d0"/>
<rect x="275.4" y="239" width="3.8" height="3.8" fill="#4b97d0"/>
<rect x="275.5" y="248.2" width="3.8" height="3.8" fill="#4b97d0"/>
<path d="M274.6 12.6 L271.7 22 L271.2 23.5 L271.5 25 L270.7 26.5 L270.4 28 L270.8 29.5 L270.3 31 L270 32.5 L270.6 34 L269.9 35.5 L270.5 37 L269.9 38.5 L270.2 40 L270.2 41.5 L269.6 43 L270 44.5 L269.9 46 L270 47.5 L270.1 49 L270.4 50.5 L270 52 L270.1 53.5 L270.9 55 L270.7 56.5 L271 58 L270.7 59.5 L271 61 L271.5 62.5 L271.9 64 L272.3 65.5 L273.1 67 L272.4 68.5 L272.8 70 L273.2 71.5 L273.3 73 L273.7 74.5 L273.5 76 L273.5 77.5 L274.4 79 L274.1 80.5 L273.8 82 L274.2 83.5 L274.4 85 L274.2 86.5 L274.9 88 L274.9 89.5 L274.9 91 L275 92.5 L275.7 94 L275.4 95.5 L275.4 97 L275.3 98.5 L275.7 100 L276.4 101.5 L276.7 103 L276.3 104.5 L276.3 106 L277 107.5 L277.2 109 L277.7 110.5 L277.6 112 L278.2 113.5 L278.1 115 L278.8 116.5 L279.5 118 L280.1 119.5 L281 121 L281.9 122.5 L281.9 124 L283.3 125.5 L283.3 127 L284 128.5 L284.9 130 L284.5 131.5 L285.3 133 L285.9 134.5 L286.6 136 L287.4 137.5 L287.8 139 L287.8 140.5 L288.7 142 L288.8 143.5 L289.7 145 L289.7 146.5 L290.4 148 L290.3 149.5 L291.1 151 L290.9 152.5 L291.6 154 L291.5 155.5 L292.2 157 L292.3 158.5 L292.6 160 L293.2 161.5 L293.7 163 L293.9 164.5 L294.3 166 L294.8 167.5 L295.4 169 L295.9 170.5 L296.3 172 L297.3 173.5 L297.3 175 L298.1 176.5 L298.2 178 L299.5 179.5 L299.4 181 L300 182.5 L300.8 184 L301 185.5 L301.4 187 L301.8 188.5 L302.9 190 L304.1 191.5 L304.3 193 L305.3 194.5 L305.7 196 L305.9 197.5 L306.2 199 L307 200.5 L307.7 202 L308.1 203.5 L308.8 205 L309.6 206.5 L310 208 L310.5 209.5 L311.4 211 L312.4 212.5 L312.7 214 L313.4 215.5 L314.1 217 L315 218.5 L315.7 220 L316.3 221.5 L316.6 223 L317.5 224.5 L317.9 226 L318.4 227.5 L318.7 229 L319.5 230.5 L320.3 232 L321.1 233.5 L321.9 235 L322.5 236.5 L323.2 238 L323.5 239.5 L324.6 241 L325.2 242.5 L325.8 244 L326.1 245.5 L326.7 247 L327.1 248.5 L327.4 250 L327.9 251.5 L327.9 253 L328.1 254.5" fill="none" stroke="#e3322b" stroke-width="1.1" stroke-linejoin="round"/>
<path d="M274.6 9.8L276.8 12.6L274.6 15.4L272.4 12.6Z" fill="#fff" stroke="#e3322b" stroke-width="0.9"/>
<path d="M271.4 19.8L273.6 22.6L271.4 25.4L269.2 22.6Z" fill="#fff" stroke="#e3322b" stroke-width="0.9"/>
<path d="M270.4 28.9L272.6 31.7L270.4 34.5L268.2 31.7Z" fill="#fff" stroke="#e3322b" stroke-width="0.9"/>
<path d="M270.1 37.9L272.3 40.7L270.1 43.5L267.9 40.7Z" fill="#fff" stroke="#e3322b" stroke-width="0.9"/>
<path d="M270 47L272.2 49.8L270 52.6L267.8 49.8Z" fill="#fff" stroke="#e3322b" stroke-width="0.9"/>
<path d="M270.9 56L273.1 58.8L270.9 61.6L268.7 58.8Z" fill="#fff" stroke="#e3322b" stroke-width="0.9"/>
<path d="M272.6 65.1L274.8 67.9L272.6 70.7L270.4 67.9Z" fill="#fff" stroke="#e3322b" stroke-width="0.9"/>
<path d="M273.7 74.2L275.9 77L273.7 79.8L271.5 77Z" fill="#fff" stroke="#e3322b" stroke-width="0.9"/>
<path d="M274.5 83.2L276.7 86L274.5 88.8L272.3 86Z" fill="#fff" stroke="#e3322b" stroke-width="0.9"/>
<path d="M275.4 92.3L277.6 95.1L275.4 97.9L273.2 95.1Z" fill="#fff" stroke="#e3322b" stroke-width="0.9"/>
<path d="M276.5 101.3L278.7 104.1L276.5 106.9L274.3 104.1Z" fill="#fff" stroke="#e3322b" stroke-width="0.9"/>
<path d="M278.1 110.4L280.3 113.2L278.1 116L275.9 113.2Z" fill="#fff" stroke="#e3322b" stroke-width="0.9"/>
<path d="M281.5 119.5L283.7 122.3L281.5 125.1L279.3 122.3Z" fill="#fff" stroke="#e3322b" stroke-width="0.9"/>
<path d="M285.1 128.5L287.3 131.3L285.1 134.1L282.9 131.3Z" fill="#fff" stroke="#e3322b" stroke-width="0.9"/>
<path d="M288 137.6L290.2 140.4L288 143.2L285.8 140.4Z" fill="#fff" stroke="#e3322b" stroke-width="0.9"/>
<path d="M290.6 146.6L292.8 149.4L290.6 152.2L288.4 149.4Z" fill="#fff" stroke="#e3322b" stroke-width="0.9"/>
<path d="M292.5 155.7L294.7 158.5L292.5 161.3L290.3 158.5Z" fill="#fff" stroke="#e3322b" stroke-width="0.9"/>
<path d="M294.6 164.8L296.8 167.6L294.6 170.4L292.4 167.6Z" fill="#fff" stroke="#e3322b" stroke-width="0.9"/>
<path d="M298 173.8L300.2 176.6L298 179.4L295.8 176.6Z" fill="#fff" stroke="#e3322b" stroke-width="0.9"/>
<path d="M301.1 182.9L303.3 185.7L301.1 188.5L298.9 185.7Z" fill="#fff" stroke="#e3322b" stroke-width="0.9"/>
<path d="M305 191.9L307.2 194.7L305 197.5L302.8 194.7Z" fill="#fff" stroke="#e3322b" stroke-width="0.9"/>
<path d="M308.3 201L310.5 203.8L308.3 206.6L306.1 203.8Z" fill="#fff" stroke="#e3322b" stroke-width="0.9"/>
<path d="M312.4 210.1L314.6 212.9L312.4 215.7L310.2 212.9Z" fill="#fff" stroke="#e3322b" stroke-width="0.9"/>
<path d="M316.5 219.1L318.7 221.9L316.5 224.7L314.3 221.9Z" fill="#fff" stroke="#e3322b" stroke-width="0.9"/>
<path d="M320 228.2L322.2 231L320 233.8L317.8 231Z" fill="#fff" stroke="#e3322b" stroke-width="0.9"/>
<path d="M324 237.2L326.2 240L324 242.8L321.8 240Z" fill="#fff" stroke="#e3322b" stroke-width="0.9"/>
<path d="M327.5 246.3L329.7 249.1L327.5 251.9L325.3 249.1Z" fill="#fff" stroke="#e3322b" stroke-width="0.9"/>
<path d="M270 12.6 L270.8 22 L271 23.5 L271.3 25 L271.1 26.5 L271.4 28 L271.6 29.5 L271.4 31 L270.9 32.5 L271.9 34 L271.6 35.5 L271.5 37 L271.1 38.5 L270.8 40 L270.9 41.5 L270.8 43 L270.3 44.5 L270.5 46 L270.7 47.5 L270.9 49 L270.6 50.5 L270.4 52 L270.2 53.5 L271.1 55 L270.6 56.5 L270.8 58 L270.7 59.5 L270.4 61 L271.3 62.5 L271 64 L271.2 65.5 L270.7 67 L270.9 68.5 L271.3 70 L271 71.5 L270.9 73 L270.9 74.5 L270.9 76 L271.5 77.5 L271.3 79 L270.9 80.5 L271.8 82 L271.8 83.5 L271.8 85 L271.1 86.5 L271.7 88 L272.1 89.5 L271.6 91 L271.7 92.5 L271.9 94 L271.5 95.5 L272.2 97 L272.5 98.5 L272.5 100 L272.8 101.5 L272.5 103 L272.6 104.5 L272.7 106 L272.8 107.5 L272.8 109 L273.1 110.5 L273.4 112 L273.5 113.5 L273.8 115 L274 116.5 L274.3 118 L274.1 119.5 L273.9 121 L274.3 122.5 L275.2 124 L275 125.5 L274.8 127 L274.9 128.5 L275 130 L274.9 131.5 L275.1 133 L275.3 134.5 L275.4 136 L275 137.5 L275.1 139 L275.1 140.5 L275.2 142 L275.5 143.5 L275 145 L275.8 146.5 L275.4 148 L275.6 149.5 L275.1 151 L275.3 152.5 L275.3 154 L275.5 155.5 L275 157 L275.7 158.5 L275.2 160 L275.8 161.5 L276.1 163 L275.9 164.5 L275.9 166 L276 167.5 L276.1 169 L276.3 170.5 L276.6 172 L276.6 173.5 L276.9 175 L276.6 176.5 L276.6 178 L276.7 179.5 L276.6 181 L276.9 182.5 L276.9 184 L277.6 185.5 L277.4 187 L277.8 188.5 L276.9 190 L277.6 191.5 L277.9 193 L277.8 194.5 L277.7 196 L277.9 197.5 L278 199 L278.1 200.5 L278.2 202 L278.5 203.5 L278.4 205 L278.5 206.5 L278.5 208 L278.7 209.5 L278.5 211 L278.9 212.5 L278.7 214 L279 215.5 L278.7 217 L278.8 218.5 L278.8 220 L278.6 221.5 L279.1 223 L278.9 224.5 L278.8 226 L279.1 227.5 L278.7 229 L278.8 230.5 L279.1 232 L279.4 233.5 L278.8 235 L279.2 236.5 L278.8 238 L278.6 239.5 L278.9 241 L279.1 242.5 L278.8 244 L278.9 245.5 L278.5 247 L278.2 248.5 L278.8 250 L278.4 251.5 L278.7 253 L278.6 254.5" fill="none" stroke="#2a79be" stroke-width="1.1" stroke-linejoin="round"/>
<path d="M270 9.6L272.4 12.6L270 15.6L267.6 12.6Z" fill="#2a79be"/>
<path d="M270.7 18.1L273.1 21.1L270.7 24.1L268.3 21.1Z" fill="#2a79be"/>
<path d="M271.5 27.3L273.8 30.3L271.5 33.3L269.1 30.3Z" fill="#2a79be"/>
<path d="M271 36.5L273.4 39.5L271 42.5L268.7 39.5Z" fill="#2a79be"/>
<path d="M270.5 45.7L272.9 48.7L270.5 51.7L268.2 48.7Z" fill="#2a79be"/>
<path d="M270.6 54.9L273 57.9L270.6 60.9L268.3 57.9Z" fill="#2a79be"/>
<path d="M270.9 64.1L273.3 67.1L270.9 70.1L268.6 67.1Z" fill="#2a79be"/>
<path d="M271.2 73.3L273.6 76.3L271.2 79.3L268.9 76.3Z" fill="#2a79be"/>
<path d="M271.6 82.5L273.9 85.5L271.6 88.5L269.2 85.5Z" fill="#2a79be"/>
<path d="M272 91.7L274.4 94.7L272 97.7L269.7 94.7Z" fill="#2a79be"/>
<path d="M272.6 100.9L274.9 103.9L272.6 106.9L270.2 103.9Z" fill="#2a79be"/>
<path d="M273.6 110.1L275.9 113.1L273.6 116.1L271.2 113.1Z" fill="#2a79be"/>
<path d="M274.5 119.3L276.9 122.3L274.5 125.3L272.2 122.3Z" fill="#2a79be"/>
<path d="M275 128.5L277.4 131.5L275 134.5L272.7 131.5Z" fill="#2a79be"/>
<path d="M275.2 137.7L277.5 140.7L275.2 143.7L272.8 140.7Z" fill="#2a79be"/>
<path d="M275.3 146.9L277.6 149.9L275.3 152.9L272.9 149.9Z" fill="#2a79be"/>
<path d="M275.6 156.1L278 159.1L275.6 162.1L273.3 159.1Z" fill="#2a79be"/>
<path d="M276.1 165.3L278.5 168.3L276.1 171.3L273.8 168.3Z" fill="#2a79be"/>
<path d="M276.7 174.5L279 177.5L276.7 180.5L274.3 177.5Z" fill="#2a79be"/>
<path d="M277.2 183.7L279.5 186.7L277.2 189.7L274.8 186.7Z" fill="#2a79be"/>
<path d="M277.8 192.9L280.1 195.9L277.8 198.9L275.4 195.9Z" fill="#2a79be"/>
<path d="M278.3 202.1L280.7 205.1L278.3 208.1L276 205.1Z" fill="#2a79be"/>
<path d="M278.8 211.3L281.1 214.3L278.8 217.3L276.4 214.3Z" fill="#2a79be"/>
<path d="M278.8 220.5L281.1 223.5L278.8 226.5L276.4 223.5Z" fill="#2a79be"/>
<path d="M278.8 229.7L281.1 232.7L278.8 235.7L276.4 232.7Z" fill="#2a79be"/>
<path d="M278.7 238.9L281.1 241.9L278.7 244.9L276.4 241.9Z" fill="#2a79be"/>
<path d="M278.7 248.1L281.1 251.1L278.7 254.1L276.4 251.1Z" fill="#2a79be"/>
<path d="M272 12.6 L269.1 30 L269.1 31.5 L268.1 33 L268.4 34.5 L268.2 36 L268.5 37.5 L267.9 39 L267.4 40.5 L267.3 42 L267.9 43.5 L266.8 45 L267 46.5 L267 48 L266.4 49.5 L266.5 51 L266 52.5 L266.3 54 L266.8 55.5 L266.6 57 L265.8 58.5 L266.9 60 L265.9 61.5 L266 63 L266.9 64.5 L266.5 66 L266.3 67.5 L266.8 69 L266.3 70.5 L266.5 72 L266.2 73.5 L266.5 75 L266.7 76.5 L267.3 78 L266.9 79.5 L267.2 81 L266.6 82.5 L266.9 84 L267.9 85.5 L267.6 87 L267.7 88.5 L268.1 90 L267.8 91.5 L268 93 L267.9 94.5 L267.4 96 L268.4 97.5 L268.8 99 L268.7 100.5 L268.4 102 L268.6 103.5 L268.7 105 L269.2 106.5 L269.2 108 L268.8 109.5 L268.9 111 L269 112.5 L269 114 L269.1 115.5 L269.4 117 L268.7 118.5 L269.8 120 L269.7 121.5 L269.6 123 L270.1 124.5 L270.1 126 L270.9 127.5 L270.3 129 L270.8 130.5 L271.1 132 L270.8 133.5 L270.8 135 L271.4 136.5 L271.3 138 L271.2 139.5 L271.2 141 L272 142.5 L272.5 144 L272 145.5 L272.5 147 L273 148.5 L273.2 150 L273.1 151.5 L274 153 L274.6 154.5 L275.7 156 L275.5 157.5 L276.2 159 L276.6 160.5 L277 162 L276.8 163.5 L277.7 165 L278.5 166.5 L278.2 168 L278.8 169.5 L278.9 171 L279.6 172.5 L280 174 L280.6 175.5 L280.6 177 L281 178.5 L281.4 180 L282.1 181.5 L282.5 183 L283.7 184.5 L283.1 186 L284 187.5 L284 189 L284.5 190.5 L285.4 192 L285.6 193.5 L286.1 195 L285.9 196.5 L287.7 198 L288 199.5 L287.5 201 L287.7 202.5 L288.3 204 L289.1 205.5 L289.2 207 L290 208.5 L290.2 210 L291.8 211.5 L291.2 213 L291.6 214.5 L292.9 216 L292.7 217.5 L293 219 L293.4 220.5 L294 222 L294.1 223.5 L294.7 225 L294.9 226.5 L295 228 L295.7 229.5 L296.2 231 L297.1 232.5 L297 234 L297.2 235.5 L297.7 237 L298.3 238.5 L297.7 240 L298.6 241.5 L298.4 243 L298.9 244.5 L299.6 246 L300.2 247.5 L300.6 249 L301 250.5 L301.8 252 L301.9 253.5 L302.1 254.5" fill="none" stroke="#b2182b" stroke-width="1.3" stroke-linejoin="round"/>
<circle cx="272" cy="12.6" r="0.6" fill="#b2182b"/>
<circle cx="269" cy="17" r="0.6" fill="#b2182b"/>
<circle cx="269" cy="20" r="0.6" fill="#b2182b"/>
<circle cx="269" cy="23" r="0.6" fill="#b2182b"/>
<circle cx="269" cy="26" r="0.6" fill="#b2182b"/>
<circle cx="269" cy="29" r="0.6" fill="#b2182b"/>
<circle cx="268.8" cy="32" r="0.6" fill="#b2182b"/>
<circle cx="268.4" cy="35" r="0.6" fill="#b2182b"/>
<circle cx="268" cy="38" r="0.6" fill="#b2182b"/>
<circle cx="267.6" cy="41" r="0.6" fill="#b2182b"/>
<circle cx="267.3" cy="44" r="0.6" fill="#b2182b"/>
<circle cx="267" cy="47" r="0.6" fill="#b2182b"/>
<circle cx="266.8" cy="50" r="0.6" fill="#b2182b"/>
<circle cx="266.7" cy="53" r="0.6" fill="#b2182b"/>
<circle cx="266.6" cy="56" r="0.6" fill="#b2182b"/>
<circle cx="266.5" cy="59" r="0.6" fill="#b2182b"/>
<circle cx="266.4" cy="62" r="0.6" fill="#b2182b"/>
<circle cx="266.3" cy="65" r="0.6" fill="#b2182b"/>
<circle cx="266.3" cy="68" r="0.6" fill="#b2182b"/>
<circle cx="266.3" cy="71" r="0.6" fill="#b2182b"/>
<circle cx="266.5" cy="74" r="0.6" fill="#b2182b"/>
<circle cx="266.8" cy="77" r="0.6" fill="#b2182b"/>
<circle cx="267.1" cy="80" r="0.6" fill="#b2182b"/>
<circle cx="267.4" cy="83" r="0.6" fill="#b2182b"/>
<circle cx="267.7" cy="86" r="0.6" fill="#b2182b"/>
<circle cx="267.8" cy="89" r="0.6" fill="#b2182b"/>
<circle cx="267.9" cy="92" r="0.6" fill="#b2182b"/>
<circle cx="268.1" cy="95" r="0.6" fill="#b2182b"/>
<circle cx="268.2" cy="98" r="0.6" fill="#b2182b"/>
<circle cx="268.4" cy="101" r="0.6" fill="#b2182b"/>
<circle cx="268.5" cy="104" r="0.6" fill="#b2182b"/>
<circle cx="268.7" cy="107" r="0.6" fill="#b2182b"/>
<circle cx="268.9" cy="110" r="0.6" fill="#b2182b"/>
<circle cx="269.1" cy="113" r="0.6" fill="#b2182b"/>
<circle cx="269.4" cy="116" r="0.6" fill="#b2182b"/>
<circle cx="269.6" cy="119" r="0.6" fill="#b2182b"/>
<circle cx="269.9" cy="122" r="0.6" fill="#b2182b"/>
<circle cx="270.3" cy="125" r="0.6" fill="#b2182b"/>
<circle cx="270.6" cy="128" r="0.6" fill="#b2182b"/>
<circle cx="270.9" cy="131" r="0.6" fill="#b2182b"/>
<circle cx="271.2" cy="134" r="0.6" fill="#b2182b"/>
<circle cx="271.4" cy="137" r="0.6" fill="#b2182b"/>
<circle cx="271.6" cy="140" r="0.6" fill="#b2182b"/>
<circle cx="271.9" cy="143" r="0.6" fill="#b2182b"/>
<circle cx="272.2" cy="146" r="0.6" fill="#b2182b"/>
<circle cx="272.7" cy="149" r="0.6" fill="#b2182b"/>
<circle cx="273.5" cy="152" r="0.6" fill="#b2182b"/>
<circle cx="274.5" cy="155" r="0.6" fill="#b2182b"/>
<circle cx="275.6" cy="158" r="0.6" fill="#b2182b"/>
<circle cx="276.5" cy="161" r="0.6" fill="#b2182b"/>
<circle cx="277.3" cy="164" r="0.6" fill="#b2182b"/>
<circle cx="278.1" cy="167" r="0.6" fill="#b2182b"/>
<circle cx="278.9" cy="170" r="0.6" fill="#b2182b"/>
<circle cx="279.7" cy="173" r="0.6" fill="#b2182b"/>
<circle cx="280.5" cy="176" r="0.6" fill="#b2182b"/>
<circle cx="281.3" cy="179" r="0.6" fill="#b2182b"/>
<circle cx="282.2" cy="182" r="0.6" fill="#b2182b"/>
<circle cx="283" cy="185" r="0.6" fill="#b2182b"/>
<circle cx="283.9" cy="188" r="0.6" fill="#b2182b"/>
<circle cx="284.8" cy="191" r="0.6" fill="#b2182b"/>
<circle cx="285.6" cy="194" r="0.6" fill="#b2182b"/>
<circle cx="286.5" cy="197" r="0.6" fill="#b2182b"/>
<circle cx="287.4" cy="200" r="0.6" fill="#b2182b"/>
<circle cx="288.3" cy="203" r="0.6" fill="#b2182b"/>
<circle cx="289.2" cy="206" r="0.6" fill="#b2182b"/>
<circle cx="290.1" cy="209" r="0.6" fill="#b2182b"/>
<circle cx="291" cy="212" r="0.6" fill="#b2182b"/>
<circle cx="291.9" cy="215" r="0.6" fill="#b2182b"/>
<circle cx="292.7" cy="218" r="0.6" fill="#b2182b"/>
<circle cx="293.6" cy="221" r="0.6" fill="#b2182b"/>
<circle cx="294.4" cy="224" r="0.6" fill="#b2182b"/>
<circle cx="295.2" cy="227" r="0.6" fill="#b2182b"/>
<circle cx="295.9" cy="230" r="0.6" fill="#b2182b"/>
<circle cx="296.7" cy="233" r="0.6" fill="#b2182b"/>
<circle cx="297.4" cy="236" r="0.6" fill="#b2182b"/>
<circle cx="298.2" cy="239" r="0.6" fill="#b2182b"/>
<circle cx="298.9" cy="242" r="0.6" fill="#b2182b"/>
<circle cx="299.6" cy="245" r="0.6" fill="#b2182b"/>
<circle cx="300.4" cy="248" r="0.6" fill="#b2182b"/>
<circle cx="301.1" cy="251" r="0.6" fill="#b2182b"/>
<path d="M272 12.6 L271.9 30 L272.9 31.5 L272.8 33 L272.4 34.5 L272.6 36 L273.2 37.5 L273.5 39 L273.2 40.5 L273.9 42 L273.3 43.5 L273.9 45 L274.4 46.5 L274.1 48 L274.5 49.5 L274.6 51 L274.7 52.5 L274.3 54 L275 55.5 L275.3 57 L275.5 58.5 L275.9 60 L276.1 61.5 L275.8 63 L276 64.5 L276.8 66 L276.7 67.5 L276.6 69 L276.7 70.5 L277.3 72 L277.5 73.5 L277.3 75 L277.7 76.5 L277.7 78 L277.9 79.5 L278.7 81 L277.8 82.5 L278.7 84 L278.3 85.5 L278.6 87 L279.3 88.5 L278.8 90 L279.1 91.5 L279.2 93 L279.6 94.5 L280.1 96 L280.7 97.5 L280.3 99 L281 100.5 L280.5 102 L281.9 103.5 L281.2 105 L281.4 106.5 L281.9 108 L282.1 109.5 L282.3 111 L282 112.5 L283.1 114 L283.3 115.5 L283.2 117 L283.2 118.5 L283.9 120 L284.5 121.5 L283.8 123 L284.2 124.5 L284.9 126 L284.9 127.5 L285.3 129 L285.6 130.5 L286.2 132 L286.5 133.5 L286.9 135 L287.1 136.5 L286.9 138 L286.6 139.5 L287.8 141 L288.1 142.5 L288.4 144 L288.3 145.5 L289.5 147 L288.6 148.5 L289.7 150 L289.9 151.5 L290.2 153 L290.7 154.5 L290.6 156 L290.8 157.5 L290.9 159 L291.5 160.5 L291.7 162 L292.1 163.5 L291.7 165 L291.8 166.5 L292.6 168 L293 169.5 L292.6 171 L293 172.5 L293.5 174 L294 175.5 L294.3 177 L294.7 178.5 L294.6 180 L295 181.5 L295.6 183 L295.3 184.5 L296.4 186 L295.7 187.5 L296.1 189 L295.6 190.5 L296.4 192 L296.5 193.5 L296.7 195 L297.2 196.5 L296.9 198 L297.5 199.5 L296.9 201 L297.6 202.5 L298.4 204 L298.2 205.5 L298.5 207 L298.1 208.5 L298.1 210 L299.2 211.5 L299.2 213 L299.3 214.5 L299.2 216 L299.7 217.5 L299.3 219 L299.8 220.5 L299.9 222 L299.5 223.5 L300.5 225 L300.2 226.5 L300.5 228 L299.9 229.5 L300.1 231 L300.5 232.5 L300.9 234 L301.3 235.5 L301.1 237 L301.1 238.5 L301.4 240 L301.3 241.5 L301.6 243 L301.8 244.5 L301.5 246 L302 247.5 L301.5 249 L301.9 250.5 L302.5 252 L302.2 253.5 L302.7 254.5" fill="none" stroke="#1f56a5" stroke-width="1.25" stroke-linejoin="round"/>
<circle cx="272" cy="12.6" r="0.6" fill="#1f56a5"/>
<circle cx="272" cy="17" r="0.6" fill="#1f56a5"/>
<circle cx="272" cy="20" r="0.6" fill="#1f56a5"/>
<circle cx="272" cy="23" r="0.6" fill="#1f56a5"/>
<circle cx="272" cy="26" r="0.6" fill="#1f56a5"/>
<circle cx="272" cy="29" r="0.6" fill="#1f56a5"/>
<circle cx="272.3" cy="32" r="0.6" fill="#1f56a5"/>
<circle cx="272.6" cy="35" r="0.6" fill="#1f56a5"/>
<circle cx="273" cy="38" r="0.6" fill="#1f56a5"/>
<circle cx="273.4" cy="41" r="0.6" fill="#1f56a5"/>
<circle cx="273.8" cy="44" r="0.6" fill="#1f56a5"/>
<circle cx="274.1" cy="47" r="0.6" fill="#1f56a5"/>
<circle cx="274.5" cy="50" r="0.6" fill="#1f56a5"/>
<circle cx="274.8" cy="53" r="0.6" fill="#1f56a5"/>
<circle cx="275.2" cy="56" r="0.6" fill="#1f56a5"/>
<circle cx="275.5" cy="59" r="0.6" fill="#1f56a5"/>
<circle cx="275.8" cy="62" r="0.6" fill="#1f56a5"/>
<circle cx="276.1" cy="65" r="0.6" fill="#1f56a5"/>
<circle cx="276.5" cy="68" r="0.6" fill="#1f56a5"/>
<circle cx="276.8" cy="71" r="0.6" fill="#1f56a5"/>
<circle cx="277.2" cy="74" r="0.6" fill="#1f56a5"/>
<circle cx="277.5" cy="77" r="0.6" fill="#1f56a5"/>
<circle cx="277.9" cy="80" r="0.6" fill="#1f56a5"/>
<circle cx="278.3" cy="83" r="0.6" fill="#1f56a5"/>
<circle cx="278.7" cy="86" r="0.6" fill="#1f56a5"/>
<circle cx="279.1" cy="89" r="0.6" fill="#1f56a5"/>
<circle cx="279.5" cy="92" r="0.6" fill="#1f56a5"/>
<circle cx="279.9" cy="95" r="0.6" fill="#1f56a5"/>
<circle cx="280.3" cy="98" r="0.6" fill="#1f56a5"/>
<circle cx="280.7" cy="101" r="0.6" fill="#1f56a5"/>
<circle cx="281.2" cy="104" r="0.6" fill="#1f56a5"/>
<circle cx="281.7" cy="107" r="0.6" fill="#1f56a5"/>
<circle cx="282.1" cy="110" r="0.6" fill="#1f56a5"/>
<circle cx="282.6" cy="113" r="0.6" fill="#1f56a5"/>
<circle cx="283.1" cy="116" r="0.6" fill="#1f56a5"/>
<circle cx="283.7" cy="119" r="0.6" fill="#1f56a5"/>
<circle cx="284.2" cy="122" r="0.6" fill="#1f56a5"/>
<circle cx="284.7" cy="125" r="0.6" fill="#1f56a5"/>
<circle cx="285.2" cy="128" r="0.6" fill="#1f56a5"/>
<circle cx="285.8" cy="131" r="0.6" fill="#1f56a5"/>
<circle cx="286.3" cy="134" r="0.6" fill="#1f56a5"/>
<circle cx="286.9" cy="137" r="0.6" fill="#1f56a5"/>
<circle cx="287.5" cy="140" r="0.6" fill="#1f56a5"/>
<circle cx="288.1" cy="143" r="0.6" fill="#1f56a5"/>
<circle cx="288.7" cy="146" r="0.6" fill="#1f56a5"/>
<circle cx="289.2" cy="149" r="0.6" fill="#1f56a5"/>
<circle cx="289.8" cy="152" r="0.6" fill="#1f56a5"/>
<circle cx="290.3" cy="155" r="0.6" fill="#1f56a5"/>
<circle cx="290.8" cy="158" r="0.6" fill="#1f56a5"/>
<circle cx="291.4" cy="161" r="0.6" fill="#1f56a5"/>
<circle cx="291.9" cy="164" r="0.6" fill="#1f56a5"/>
<circle cx="292.4" cy="167" r="0.6" fill="#1f56a5"/>
<circle cx="293" cy="170" r="0.6" fill="#1f56a5"/>
<circle cx="293.5" cy="173" r="0.6" fill="#1f56a5"/>
<circle cx="294" cy="176" r="0.6" fill="#1f56a5"/>
<circle cx="294.5" cy="179" r="0.6" fill="#1f56a5"/>
<circle cx="295" cy="182" r="0.6" fill="#1f56a5"/>
<circle cx="295.4" cy="185" r="0.6" fill="#1f56a5"/>
<circle cx="295.9" cy="188" r="0.6" fill="#1f56a5"/>
<circle cx="296.3" cy="191" r="0.6" fill="#1f56a5"/>
<circle cx="296.7" cy="194" r="0.6" fill="#1f56a5"/>
<circle cx="297.1" cy="197" r="0.6" fill="#1f56a5"/>
<circle cx="297.5" cy="200" r="0.6" fill="#1f56a5"/>
<circle cx="297.8" cy="203" r="0.6" fill="#1f56a5"/>
<circle cx="298.2" cy="206" r="0.6" fill="#1f56a5"/>
<circle cx="298.5" cy="209" r="0.6" fill="#1f56a5"/>
<circle cx="298.8" cy="212" r="0.6" fill="#1f56a5"/>
<circle cx="299.1" cy="215" r="0.6" fill="#1f56a5"/>
<circle cx="299.4" cy="218" r="0.6" fill="#1f56a5"/>
<circle cx="299.6" cy="221" r="0.6" fill="#1f56a5"/>
<circle cx="299.9" cy="224" r="0.6" fill="#1f56a5"/>
<circle cx="300.2" cy="227" r="0.6" fill="#1f56a5"/>
<circle cx="300.4" cy="230" r="0.6" fill="#1f56a5"/>
<circle cx="300.7" cy="233" r="0.6" fill="#1f56a5"/>
<circle cx="300.9" cy="236" r="0.6" fill="#1f56a5"/>
<circle cx="301.2" cy="239" r="0.6" fill="#1f56a5"/>
<circle cx="301.4" cy="242" r="0.6" fill="#1f56a5"/>
<circle cx="301.7" cy="245" r="0.6" fill="#1f56a5"/>
<circle cx="301.9" cy="248" r="0.6" fill="#1f56a5"/>
<circle cx="302.2" cy="251" r="0.6" fill="#1f56a5"/></g>
<g><path d="M505 12.5 L502.1 22 L501.1 23.5 L500.6 25 L499.5 26.5 L498.4 28 L497.5 29.5 L496.8 31 L495.6 32.5 L495.3 34 L494.1 35.5 L492.9 37 L492.5 38.5 L492.7 40 L492.1 41.5 L492.3 43 L491.5 44.5 L491.5 46 L491.6 47.5 L491.5 49 L490.5 50.5 L490.7 52 L489.9 53.5 L489.6 55 L488.9 56.5 L489 58 L488.1 59.5 L487.7 61 L487.9 62.5 L487.2 64 L486.6 65.5 L485.9 67 L486.2 68.5 L485.3 70 L485.4 71.5 L485.6 73 L485.4 74.5 L485 76 L485 77.5 L484.6 79 L484.2 80.5 L484.2 82 L484.4 83.5 L483.9 85 L483.8 86.5 L483.8 88 L483.2 89.5 L483.2 91 L483 92.5 L483.5 94 L483.3 95.5 L483.1 97 L483.1 98.5 L483.6 100 L483.6 101.5 L483.5 103 L483.4 104.5 L483.5 106 L483.4 107.5 L483.5 109 L483.3 110.5 L483.1 112 L483.2 113.5 L483.5 115 L483.8 116.5 L483.2 118 L483.1 119.5 L483.6 121 L483.6 122.5 L483.2 124 L483.3 125.5 L483.3 127 L483.5 128.5 L484.2 130 L483.3 131.5 L483.6 133 L483.5 134.5 L483.6 136 L483.8 137.5 L483.8 139 L483.5 140.5 L483.6 142 L484.2 143.5 L484.1 145 L484.2 146.5 L484.4 148 L484.2 149.5 L484.9 151 L484.5 152.5 L484.6 154 L484.8 155.5 L485.1 157 L486 158.5 L485.5 160 L485.7 161.5 L486.2 163 L485.9 164.5 L485.8 166 L486.1 167.5 L486.4 169 L486.3 170.5 L486.8 172 L487.1 173.5 L487.8 175 L487.7 176.5 L487.7 178 L487.8 179.5 L488 181 L488 182.5 L488.6 184 L488.4 185.5 L489.2 187 L489.9 188.5 L489.6 190 L490.1 191.5 L490.1 193 L490.1 194.5 L490.9 196 L491.1 197.5 L491.5 199 L491.7 200.5 L492.1 202 L492.1 203.5 L492.7 205 L493.1 206.5 L493 208 L493.3 209.5 L493.9 211 L494.1 212.5 L494.2 214 L494.1 215.5 L494.7 217 L495.4 218.5 L495.3 220 L495.6 221.5 L495.8 223 L496.2 224.5 L496.6 226 L497 227.5 L497 229 L497.2 230.5 L498.3 232 L498.2 233.5 L498.2 235 L498.7 236.5 L499.2 238 L499.6 239.5 L499.8 241 L499.9 242.5 L500.4 244 L500.3 245.5 L500.7 247 L501.5 248.5 L501.6 250 L501.8 251.5 L502 253 L502.2 254.5" fill="none" stroke="#f4a582" stroke-width="1.0" stroke-linejoin="round"/>
<circle cx="505" cy="12.5" r="2.4" fill="#fff" stroke="#f4a582" stroke-width="0.9"/>
<circle cx="502" cy="21.5" r="2.4" fill="#fff" stroke="#f4a582" stroke-width="0.9"/>
<circle cx="497" cy="30.7" r="2.4" fill="#fff" stroke="#f4a582" stroke-width="0.9"/>
<circle cx="492.4" cy="39.9" r="2.4" fill="#fff" stroke="#f4a582" stroke-width="0.9"/>
<circle cx="490.9" cy="49.2" r="2.4" fill="#fff" stroke="#f4a582" stroke-width="0.9"/>
<circle cx="488.7" cy="58.4" r="2.4" fill="#fff" stroke="#f4a582" stroke-width="0.9"/>
<circle cx="486.3" cy="67.6" r="2.4" fill="#fff" stroke="#f4a582" stroke-width="0.9"/>
<circle cx="484.8" cy="76.8" r="2.4" fill="#fff" stroke="#f4a582" stroke-width="0.9"/>
<circle cx="483.8" cy="86" r="2.4" fill="#fff" stroke="#f4a582" stroke-width="0.9"/>
<circle cx="483.4" cy="95.3" r="2.4" fill="#fff" stroke="#f4a582" stroke-width="0.9"/>
<circle cx="483.4" cy="104.5" r="2.4" fill="#fff" stroke="#f4a582" stroke-width="0.9"/>
<circle cx="483.4" cy="113.7" r="2.4" fill="#fff" stroke="#f4a582" stroke-width="0.9"/>
<circle cx="483.4" cy="122.9" r="2.4" fill="#fff" stroke="#f4a582" stroke-width="0.9"/>
<circle cx="483.5" cy="132.1" r="2.4" fill="#fff" stroke="#f4a582" stroke-width="0.9"/>
<circle cx="483.9" cy="141.4" r="2.4" fill="#fff" stroke="#f4a582" stroke-width="0.9"/>
<circle cx="484.5" cy="150.6" r="2.4" fill="#fff" stroke="#f4a582" stroke-width="0.9"/>
<circle cx="485.5" cy="159.8" r="2.4" fill="#fff" stroke="#f4a582" stroke-width="0.9"/>
<circle cx="486.5" cy="169" r="2.4" fill="#fff" stroke="#f4a582" stroke-width="0.9"/>
<circle cx="487.8" cy="178.2" r="2.4" fill="#fff" stroke="#f4a582" stroke-width="0.9"/>
<circle cx="489.3" cy="187.5" r="2.4" fill="#fff" stroke="#f4a582" stroke-width="0.9"/>
<circle cx="491" cy="196.7" r="2.4" fill="#fff" stroke="#f4a582" stroke-width="0.9"/>
<circle cx="492.7" cy="205.9" r="2.4" fill="#fff" stroke="#f4a582" stroke-width="0.9"/>
<circle cx="494.5" cy="215.1" r="2.4" fill="#fff" stroke="#f4a582" stroke-width="0.9"/>
<circle cx="496.3" cy="224.3" r="2.4" fill="#fff" stroke="#f4a582" stroke-width="0.9"/>
<circle cx="498.2" cy="233.6" r="2.4" fill="#fff" stroke="#f4a582" stroke-width="0.9"/>
<circle cx="500.1" cy="242.8" r="2.4" fill="#fff" stroke="#f4a582" stroke-width="0.9"/>
<circle cx="502" cy="252" r="2.4" fill="#fff" stroke="#f4a582" stroke-width="0.9"/>
<path d="M483.6 12 L486.2 22 L486.3 23.5 L486.8 25 L486.3 26.5 L486.6 28 L486.6 29.5 L486.5 31 L487.1 32.5 L486.8 34 L486.4 35.5 L485.9 37 L486.3 38.5 L486.3 40 L486 41.5 L485.8 43 L486.6 44.5 L485.8 46 L486.4 47.5 L486 49 L486.1 50.5 L486.4 52 L485.9 53.5 L486.1 55 L486.2 56.5 L486.5 58 L486.4 59.5 L486.3 61 L486 62.5 L486.7 64 L486.4 65.5 L486.7 67 L486.3 68.5 L486.8 70 L487.1 71.5 L487.1 73 L487.4 74.5 L487.7 76 L487.9 77.5 L487.5 79 L487.4 80.5 L487.2 82 L487.9 83.5 L487.6 85 L488.2 86.5 L487.7 88 L488.6 89.5 L488.4 91 L488.1 92.5 L488.7 94 L488.8 95.5 L488.9 97 L488.9 98.5 L489.1 100 L489.2 101.5 L489 103 L489.2 104.5 L489 106 L489.6 107.5 L489.1 109 L489.5 110.5 L489.3 112 L489.9 113.5 L489.8 115 L489.6 116.5 L490 118 L490 119.5 L490.3 121 L490.3 122.5 L490.4 124 L490.4 125.5 L490.2 127 L490.9 128.5 L491.1 130 L490.9 131.5 L491.4 133 L491.7 134.5 L491.9 136 L492.1 137.5 L492.2 139 L492.1 140.5 L492.9 142 L492.6 143.5 L492.7 145 L493.4 146.5 L493.1 148 L493.6 149.5 L493.4 151 L494.1 152.5 L494.3 154 L494.1 155.5 L494.5 157 L494.7 158.5 L494.7 160 L495 161.5 L495 163 L495.1 164.5 L495.2 166 L495.6 167.5 L495.9 169 L496.1 170.5 L496.2 172 L496.4 173.5 L496.3 175 L497 176.5 L496.5 178 L497.1 179.5 L497 181 L497.2 182.5 L497.9 184 L497.7 185.5 L497.5 187 L498.1 188.5 L498 190 L498.8 191.5 L498.3 193 L498.7 194.5 L498.8 196 L498.9 197.5 L499.4 199 L499.7 200.5 L499.9 202 L499.8 203.5 L499.8 205 L500.3 206.5 L500.2 208 L500.9 209.5 L500.3 211 L500.9 212.5 L500.7 214 L500.9 215.5 L500.9 217 L501.2 218.5 L501.8 220 L501.6 221.5 L501.7 223 L501.8 224.5 L502.1 226 L502.4 227.5 L502.8 229 L502.8 230.5 L502.9 232 L503.1 233.5 L503.4 235 L503.2 236.5 L503.7 238 L503.5 239.5 L503.7 241 L504.2 242.5 L504.3 244 L504.4 245.5 L504.3 247 L504.8 248.5 L505.4 250 L505.2 251.5 L505.4 253 L505.4 254.5" fill="none" stroke="#a9cde6" stroke-width="1.0" stroke-linejoin="round"/>
<circle cx="483.6" cy="12" r="2.1" fill="#a9cde6" stroke="#a9cde6" stroke-width="0.6"/>
<circle cx="486.2" cy="21.6" r="2.1" fill="#a9cde6" stroke="#a9cde6" stroke-width="0.6"/>
<circle cx="486.7" cy="30.8" r="2.1" fill="#a9cde6" stroke="#a9cde6" stroke-width="0.6"/>
<circle cx="486.2" cy="40" r="2.1" fill="#a9cde6" stroke="#a9cde6" stroke-width="0.6"/>
<circle cx="486.2" cy="49.3" r="2.1" fill="#a9cde6" stroke="#a9cde6" stroke-width="0.6"/>
<circle cx="486.2" cy="58.5" r="2.1" fill="#a9cde6" stroke="#a9cde6" stroke-width="0.6"/>
<circle cx="486.7" cy="67.7" r="2.1" fill="#a9cde6" stroke="#a9cde6" stroke-width="0.6"/>
<circle cx="487.5" cy="76.9" r="2.1" fill="#a9cde6" stroke="#a9cde6" stroke-width="0.6"/>
<circle cx="488.1" cy="86.1" r="2.1" fill="#a9cde6" stroke="#a9cde6" stroke-width="0.6"/>
<circle cx="488.7" cy="95.4" r="2.1" fill="#a9cde6" stroke="#a9cde6" stroke-width="0.6"/>
<circle cx="489.2" cy="104.6" r="2.1" fill="#a9cde6" stroke="#a9cde6" stroke-width="0.6"/>
<circle cx="489.7" cy="113.8" r="2.1" fill="#a9cde6" stroke="#a9cde6" stroke-width="0.6"/>
<circle cx="490.3" cy="123" r="2.1" fill="#a9cde6" stroke="#a9cde6" stroke-width="0.6"/>
<circle cx="491.2" cy="132.2" r="2.1" fill="#a9cde6" stroke="#a9cde6" stroke-width="0.6"/>
<circle cx="492.4" cy="141.5" r="2.1" fill="#a9cde6" stroke="#a9cde6" stroke-width="0.6"/>
<circle cx="493.6" cy="150.7" r="2.1" fill="#a9cde6" stroke="#a9cde6" stroke-width="0.6"/>
<circle cx="494.7" cy="159.9" r="2.1" fill="#a9cde6" stroke="#a9cde6" stroke-width="0.6"/>
<circle cx="495.7" cy="169.1" r="2.1" fill="#a9cde6" stroke="#a9cde6" stroke-width="0.6"/>
<circle cx="496.8" cy="178.3" r="2.1" fill="#a9cde6" stroke="#a9cde6" stroke-width="0.6"/>
<circle cx="497.8" cy="187.6" r="2.1" fill="#a9cde6" stroke="#a9cde6" stroke-width="0.6"/>
<circle cx="499" cy="196.8" r="2.1" fill="#a9cde6" stroke="#a9cde6" stroke-width="0.6"/>
<circle cx="500.1" cy="206" r="2.1" fill="#a9cde6" stroke="#a9cde6" stroke-width="0.6"/>
<circle cx="501.1" cy="215.2" r="2.1" fill="#a9cde6" stroke="#a9cde6" stroke-width="0.6"/>
<circle cx="502.1" cy="224.4" r="2.1" fill="#a9cde6" stroke="#a9cde6" stroke-width="0.6"/>
<circle cx="503.1" cy="233.7" r="2.1" fill="#a9cde6" stroke="#a9cde6" stroke-width="0.6"/>
<circle cx="504.1" cy="242.9" r="2.1" fill="#a9cde6" stroke="#a9cde6" stroke-width="0.6"/>
<circle cx="505.1" cy="252.1" r="2.1" fill="#a9cde6" stroke="#a9cde6" stroke-width="0.6"/>
<path d="M482.5 12.5 L479.2 22 L477.8 23.5 L477.6 25 L475.9 26.5 L474.8 28 L474.2 29.5 L472.7 31 L472 32.5 L471.2 34 L470.6 35.5 L470.4 37 L469.2 38.5 L469.5 40 L468.7 41.5 L468.4 43 L467.7 44.5 L466.9 46 L466.7 47.5 L467 49 L466.3 50.5 L466.3 52 L466 53.5 L466.1 55 L465.8 56.5 L465.4 58 L465.2 59.5 L465.2 61 L464.5 62.5 L464.4 64 L464.1 65.5 L464 67 L463.6 68.5 L463.9 70 L463.4 71.5 L463.5 73 L462.7 74.5 L462.4 76 L461.8 77.5 L461.7 79 L461.2 80.5 L460.5 82 L460.1 83.5 L459.4 85 L458.9 86.5 L458.3 88 L458.3 89.5 L457.4 91 L456.9 92.5 L456.9 94 L456.2 95.5 L455.5 97 L455.2 98.5 L455 100 L454.6 101.5 L454.6 103 L454.1 104.5 L454 106 L454.4 107.5 L454.5 109 L454.3 110.5 L453.8 112 L453.9 113.5 L453.6 115 L454 116.5 L453.6 118 L453.6 119.5 L453.8 121 L453.6 122.5 L453.3 124 L453 125.5 L453.1 127 L452.9 128.5 L453.6 130 L453.2 131.5 L453.4 133 L453.3 134.5 L453 136 L453.3 137.5 L453.3 139 L453.2 140.5 L453.2 142 L453.3 143.5 L453 145 L453.2 146.5 L453.1 148 L453 149.5 L453.2 151 L452.7 152.5 L452.9 154 L453.2 155.5 L453.6 157 L453.3 158.5 L453 160 L453.6 161.5 L453.3 163 L453.1 164.5 L453.2 166 L453.7 167.5 L453.6 169 L453.2 170.5 L453.2 172 L453.7 173.5 L453.3 175 L453.6 176.5 L454 178 L453.6 179.5 L453.8 181 L454.1 182.5 L454.1 184 L454.6 185.5 L454.4 187 L454.7 188.5 L454.8 190 L454.6 191.5 L455.1 193 L455.3 194.5 L455.1 196 L455.1 197.5 L455.4 199 L455.9 200.5 L455.7 202 L455.7 203.5 L455.6 205 L456.1 206.5 L455.9 208 L456.6 209.5 L456.4 211 L456.4 212.5 L457.2 214 L457.2 215.5 L457.5 217 L457.4 218.5 L458 220 L458.1 221.5 L458.4 223 L458.8 224.5 L459.1 226 L459.1 227.5 L459.7 229 L459.8 230.5 L459.9 232 L460.3 233.5 L460.5 235 L461.1 236.5 L461.1 238 L461.3 239.5 L461.6 241 L462.1 242.5 L461.8 244 L462.1 245.5 L462.6 247 L463.1 248.5 L463.4 250 L463.4 251.5 L463.4 253 L463.5 254.5" fill="none" stroke="#f0623e" stroke-width="1.0" stroke-linejoin="round"/>
<rect x="480.8" y="10.8" width="3.5" height="3.5" fill="#fff" stroke="#f0623e" stroke-width="0.9"/>
<rect x="477.1" y="19.6" width="3.5" height="3.5" fill="#fff" stroke="#f0623e" stroke-width="0.9"/>
<rect x="471.6" y="28.7" width="3.5" height="3.5" fill="#fff" stroke="#f0623e" stroke-width="0.9"/>
<rect x="467.2" y="37.9" width="3.5" height="3.5" fill="#fff" stroke="#f0623e" stroke-width="0.9"/>
<rect x="465" y="47" width="3.5" height="3.5" fill="#fff" stroke="#f0623e" stroke-width="0.9"/>
<rect x="463.6" y="56.2" width="3.5" height="3.5" fill="#fff" stroke="#f0623e" stroke-width="0.9"/>
<rect x="462.4" y="65.3" width="3.5" height="3.5" fill="#fff" stroke="#f0623e" stroke-width="0.9"/>
<rect x="460.5" y="74.5" width="3.5" height="3.5" fill="#fff" stroke="#f0623e" stroke-width="0.9"/>
<rect x="457.7" y="83.6" width="3.5" height="3.5" fill="#fff" stroke="#f0623e" stroke-width="0.9"/>
<rect x="454.8" y="92.8" width="3.5" height="3.5" fill="#fff" stroke="#f0623e" stroke-width="0.9"/>
<rect x="452.8" y="101.9" width="3.5" height="3.5" fill="#fff" stroke="#f0623e" stroke-width="0.9"/>
<rect x="452.1" y="111.1" width="3.5" height="3.5" fill="#fff" stroke="#f0623e" stroke-width="0.9"/>
<rect x="451.6" y="120.2" width="3.5" height="3.5" fill="#fff" stroke="#f0623e" stroke-width="0.9"/>
<rect x="451.4" y="129.4" width="3.5" height="3.5" fill="#fff" stroke="#f0623e" stroke-width="0.9"/>
<rect x="451.4" y="138.5" width="3.5" height="3.5" fill="#fff" stroke="#f0623e" stroke-width="0.9"/>
<rect x="451.4" y="147.7" width="3.5" height="3.5" fill="#fff" stroke="#f0623e" stroke-width="0.9"/>
<rect x="451.4" y="156.8" width="3.5" height="3.5" fill="#fff" stroke="#f0623e" stroke-width="0.9"/>
<rect x="451.6" y="166" width="3.5" height="3.5" fill="#fff" stroke="#f0623e" stroke-width="0.9"/>
<rect x="452" y="175.1" width="3.5" height="3.5" fill="#fff" stroke="#f0623e" stroke-width="0.9"/>
<rect x="452.6" y="184.3" width="3.5" height="3.5" fill="#fff" stroke="#f0623e" stroke-width="0.9"/>
<rect x="453.3" y="193.4" width="3.5" height="3.5" fill="#fff" stroke="#f0623e" stroke-width="0.9"/>
<rect x="454.1" y="202.6" width="3.5" height="3.5" fill="#fff" stroke="#f0623e" stroke-width="0.9"/>
<rect x="455.1" y="211.7" width="3.5" height="3.5" fill="#fff" stroke="#f0623e" stroke-width="0.9"/>
<rect x="456.5" y="220.9" width="3.5" height="3.5" fill="#fff" stroke="#f0623e" stroke-width="0.9"/>
<rect x="458.1" y="230" width="3.5" height="3.5" fill="#fff" stroke="#f0623e" stroke-width="0.9"/>
<rect x="459.8" y="239.2" width="3.5" height="3.5" fill="#fff" stroke="#f0623e" stroke-width="0.9"/>
<rect x="461.5" y="248.3" width="3.5" height="3.5" fill="#fff" stroke="#f0623e" stroke-width="0.9"/>
<path d="M459.2 12.7 L460.2 21.3 L460.1 22.8 L460.2 24.3 L460.3 25.8 L459.8 27.3 L460.2 28.8 L459.7 30.3 L459.7 31.8 L459.7 33.3 L459.1 34.8 L460 36.3 L459.2 37.8 L459.4 39.3 L458.8 40.8 L458.5 42.3 L458.5 43.8 L458.3 45.3 L458 46.8 L457.7 48.3 L458.4 49.8 L457.9 51.3 L457.9 52.8 L458.1 54.3 L457.5 55.8 L457.5 57.3 L457.7 58.8 L457.4 60.3 L457.3 61.8 L457 63.3 L456.9 64.8 L457.2 66.3 L456.9 67.8 L457.1 69.3 L457 70.8 L456.9 72.3 L456.9 73.8 L456.7 75.3 L456.9 76.8 L456.1 78.3 L456.3 79.8 L456.5 81.3 L456.8 82.8 L455.9 84.3 L456.1 85.8 L456.3 87.3 L456.4 88.8 L455.9 90.3 L455.4 91.8 L455.9 93.3 L456 94.8 L455.8 96.3 L455.8 97.8 L455.8 99.3 L455.4 100.8 L455.6 102.3 L455.7 103.8 L455.4 105.3 L455.2 106.8 L455.3 108.3 L455.6 109.8 L455.2 111.3 L455.7 112.8 L455.5 114.3 L455.3 115.8 L455.6 117.3 L455.4 118.8 L456 120.3 L455.8 121.8 L455.3 123.3 L455.4 124.8 L455 126.3 L455.7 127.8 L455.6 129.3 L455.6 130.8 L455.2 132.3 L456 133.8 L455.9 135.3 L455.5 136.8 L455.5 138.3 L455.5 139.8 L455.9 141.3 L455.8 142.8 L455.7 144.3 L455.7 145.8 L455.5 147.3 L455.7 148.8 L455.4 150.3 L456.1 151.8 L455.9 153.3 L455.9 154.8 L455.8 156.3 L455.7 157.8 L455.5 159.3 L455.8 160.8 L455.9 162.3 L455.9 163.8 L456.3 165.3 L456.3 166.8 L455.9 168.3 L456 169.8 L456.4 171.3 L455.7 172.8 L456.2 174.3 L456.5 175.8 L456.4 177.3 L456.3 178.8 L456.6 180.3 L456.3 181.8 L456.3 183.3 L456.6 184.8 L456.6 186.3 L456.8 187.8 L457 189.3 L457 190.8 L456.2 192.3 L456.9 193.8 L457 195.3 L457.1 196.8 L456.8 198.3 L456.8 199.8 L457 201.3 L456.7 202.8 L456.5 204.3 L457.1 205.8 L457.1 207.3 L456.7 208.8 L457.2 210.3 L456.8 211.8 L457.1 213.3 L456.7 214.8 L457 216.3 L456.8 217.8 L456.8 219.3 L457 220.8 L457.1 222.3 L456.7 223.8 L457.2 225.3 L456.7 226.8 L456.5 228.3 L456.7 229.8 L457.3 231.3 L456.7 232.8 L456.4 234.3 L456.6 235.8 L456.8 237.3 L456.8 238.8 L456.8 240.3 L456.9 241.8 L457.1 243.3 L456.6 244.8 L456.7 246.3 L456.6 247.8 L456.6 249.3 L456.8 250.8 L456.6 252.3 L456.3 253.8 L456.7 254.5" fill="none" stroke="#4b97d0" stroke-width="1.0" stroke-linejoin="round"/>
<rect x="457.3" y="10.8" width="3.8" height="3.8" fill="#4b97d0"/>
<rect x="458.4" y="19.4" width="3.8" height="3.8" fill="#4b97d0"/>
<rect x="457.9" y="28.6" width="3.8" height="3.8" fill="#4b97d0"/>
<rect x="457.2" y="37.7" width="3.8" height="3.8" fill="#4b97d0"/>
<rect x="456.4" y="46.9" width="3.8" height="3.8" fill="#4b97d0"/>
<rect x="455.6" y="56" width="3.8" height="3.8" fill="#4b97d0"/>
<rect x="455.1" y="65.2" width="3.8" height="3.8" fill="#4b97d0"/>
<rect x="454.8" y="74.3" width="3.8" height="3.8" fill="#4b97d0"/>
<rect x="454.4" y="83.5" width="3.8" height="3.8" fill="#4b97d0"/>
<rect x="453.9" y="92.6" width="3.8" height="3.8" fill="#4b97d0"/>
<rect x="453.6" y="101.8" width="3.8" height="3.8" fill="#4b97d0"/>
<rect x="453.5" y="110.9" width="3.8" height="3.8" fill="#4b97d0"/>
<rect x="453.6" y="120.1" width="3.8" height="3.8" fill="#4b97d0"/>
<rect x="453.7" y="129.2" width="3.8" height="3.8" fill="#4b97d0"/>
<rect x="453.8" y="138.4" width="3.8" height="3.8" fill="#4b97d0"/>
<rect x="453.9" y="147.5" width="3.8" height="3.8" fill="#4b97d0"/>
<rect x="454.1" y="156.7" width="3.8" height="3.8" fill="#4b97d0"/>
<rect x="454.2" y="165.8" width="3.8" height="3.8" fill="#4b97d0"/>
<rect x="454.5" y="175" width="3.8" height="3.8" fill="#4b97d0"/>
<rect x="454.7" y="184.1" width="3.8" height="3.8" fill="#4b97d0"/>
<rect x="454.9" y="193.3" width="3.8" height="3.8" fill="#4b97d0"/>
<rect x="455.1" y="202.4" width="3.8" height="3.8" fill="#4b97d0"/>
<rect x="455.1" y="211.6" width="3.8" height="3.8" fill="#4b97d0"/>
<rect x="455" y="220.7" width="3.8" height="3.8" fill="#4b97d0"/>
<rect x="454.9" y="229.9" width="3.8" height="3.8" fill="#4b97d0"/>
<rect x="454.8" y="239" width="3.8" height="3.8" fill="#4b97d0"/>
<rect x="454.7" y="248.2" width="3.8" height="3.8" fill="#4b97d0"/>
<path d="M489 12.3 L487.5 21.5 L486 23 L486.2 24.5 L485 26 L482.9 27.5 L482.7 29 L481.5 30.5 L481 32 L479.9 33.5 L479.5 35 L479.1 36.5 L477.3 38 L478.6 39.5 L478 41 L478.5 42.5 L477.7 44 L476.5 45.5 L477.6 47 L477.8 48.5 L477.7 50 L477.3 51.5 L476.6 53 L476.4 54.5 L476.3 56 L476 57.5 L476.4 59 L476.4 60.5 L476.5 62 L476.1 63.5 L475.7 65 L476.1 66.5 L475.8 68 L475.2 69.5 L476.3 71 L475.7 72.5 L475.7 74 L476.4 75.5 L476.1 77 L476.1 78.5 L476.8 80 L476.3 81.5 L476.1 83 L475.6 84.5 L474.3 86 L474 87.5 L474.7 89 L476.4 90.5 L474.9 92 L474.7 93.5 L475.3 95 L475.6 96.5 L475.2 98 L475.4 99.5 L475.3 101 L475 102.5 L474.9 104 L474.1 105.5 L475.4 107 L475.5 108.5 L475.7 110 L476.2 111.5 L475 113 L475.2 114.5 L476.3 116 L475.2 117.5 L476.3 119 L476.4 120.5 L476.8 122 L476.3 123.5 L477.2 125 L476.4 126.5 L477.7 128 L477.4 129.5 L477.4 131 L478 132.5 L478.9 134 L477.9 135.5 L478.7 137 L478.5 138.5 L480 140 L480.2 141.5 L479.7 143 L480.4 144.5 L480.3 146 L481.3 147.5 L482.1 149 L481.6 150.5 L482.2 152 L481.6 153.5 L483.7 155 L482.4 156.5 L483.4 158 L483.5 159.5 L484.5 161 L484.1 162.5 L484.3 164 L484.1 165.5 L485.8 167 L484.5 168.5 L486.6 170 L486.7 171.5 L487.3 173 L486.2 174.5 L486.6 176 L487.4 177.5 L488.2 179 L487.4 180.5 L488.9 182 L488 183.5 L489.3 185 L489.3 186.5 L489.7 188 L489.8 189.5 L490.6 191 L489.6 192.5 L491.4 194 L490.8 195.5 L491.3 197 L491.3 198.5 L492.4 200 L492.6 201.5 L492.5 203 L492.5 204.5 L494.4 206 L493.6 207.5 L494.4 209 L494.3 210.5 L495.4 212 L495.9 213.5 L496.1 215 L496.8 216.5 L497.2 218 L495.5 219.5 L496.7 221 L496.8 222.5 L498.2 224 L498.4 225.5 L498 227 L500 228.5 L499.6 230 L500.8 231.5 L500 233 L501.3 234.5 L502 236 L501.6 237.5 L502.4 239 L502.7 240.5 L503 242 L503.9 243.5 L503.2 245 L505.1 246.5 L505.3 248 L505 249.5 L506.6 251 L505.6 252.5 L506.5 254 L507.9 254.5" fill="none" stroke="#e3322b" stroke-width="1.1" stroke-linejoin="round"/>
<path d="M489 9.5L491.2 12.3L489 15.1L486.8 12.3Z" fill="#fff" stroke="#e3322b" stroke-width="0.9"/>
<path d="M486.1 19.8L488.3 22.6L486.1 25.4L483.9 22.6Z" fill="#fff" stroke="#e3322b" stroke-width="0.9"/>
<path d="M481.5 28.9L483.7 31.7L481.5 34.5L479.3 31.7Z" fill="#fff" stroke="#e3322b" stroke-width="0.9"/>
<path d="M478.1 37.9L480.3 40.7L478.1 43.5L475.9 40.7Z" fill="#fff" stroke="#e3322b" stroke-width="0.9"/>
<path d="M477.5 47L479.7 49.8L477.5 52.6L475.3 49.8Z" fill="#fff" stroke="#e3322b" stroke-width="0.9"/>
<path d="M476.4 56L478.6 58.8L476.4 61.6L474.2 58.8Z" fill="#fff" stroke="#e3322b" stroke-width="0.9"/>
<path d="M475.8 65.1L478 67.9L475.8 70.7L473.6 67.9Z" fill="#fff" stroke="#e3322b" stroke-width="0.9"/>
<path d="M475.8 74.2L478 77L475.8 79.8L473.6 77Z" fill="#fff" stroke="#e3322b" stroke-width="0.9"/>
<path d="M475.4 83.2L477.6 86L475.4 88.8L473.2 86Z" fill="#fff" stroke="#e3322b" stroke-width="0.9"/>
<path d="M475 92.3L477.2 95.1L475 97.9L472.8 95.1Z" fill="#fff" stroke="#e3322b" stroke-width="0.9"/>
<path d="M475.3 101.3L477.5 104.1L475.3 106.9L473.1 104.1Z" fill="#fff" stroke="#e3322b" stroke-width="0.9"/>
<path d="M475.8 110.4L478 113.2L475.8 116L473.6 113.2Z" fill="#fff" stroke="#e3322b" stroke-width="0.9"/>
<path d="M476.6 119.5L478.8 122.3L476.6 125.1L474.4 122.3Z" fill="#fff" stroke="#e3322b" stroke-width="0.9"/>
<path d="M477.8 128.5L480 131.3L477.8 134.1L475.6 131.3Z" fill="#fff" stroke="#e3322b" stroke-width="0.9"/>
<path d="M479.7 137.6L481.9 140.4L479.7 143.2L477.5 140.4Z" fill="#fff" stroke="#e3322b" stroke-width="0.9"/>
<path d="M481.8 146.6L484 149.4L481.8 152.2L479.6 149.4Z" fill="#fff" stroke="#e3322b" stroke-width="0.9"/>
<path d="M483.5 155.7L485.7 158.5L483.5 161.3L481.3 158.5Z" fill="#fff" stroke="#e3322b" stroke-width="0.9"/>
<path d="M485.3 164.8L487.5 167.6L485.3 170.4L483.1 167.6Z" fill="#fff" stroke="#e3322b" stroke-width="0.9"/>
<path d="M487.2 173.8L489.4 176.6L487.2 179.4L485 176.6Z" fill="#fff" stroke="#e3322b" stroke-width="0.9"/>
<path d="M489.1 182.9L491.3 185.7L489.1 188.5L486.9 185.7Z" fill="#fff" stroke="#e3322b" stroke-width="0.9"/>
<path d="M491 191.9L493.2 194.7L491 197.5L488.8 194.7Z" fill="#fff" stroke="#e3322b" stroke-width="0.9"/>
<path d="M492.9 201L495.1 203.8L492.9 206.6L490.7 203.8Z" fill="#fff" stroke="#e3322b" stroke-width="0.9"/>
<path d="M495 210.1L497.2 212.9L495 215.7L492.8 212.9Z" fill="#fff" stroke="#e3322b" stroke-width="0.9"/>
<path d="M497.3 219.1L499.5 221.9L497.3 224.7L495.1 221.9Z" fill="#fff" stroke="#e3322b" stroke-width="0.9"/>
<path d="M499.8 228.2L502 231L499.8 233.8L497.6 231Z" fill="#fff" stroke="#e3322b" stroke-width="0.9"/>
<path d="M502.6 237.2L504.8 240L502.6 242.8L500.4 240Z" fill="#fff" stroke="#e3322b" stroke-width="0.9"/>
<path d="M505.5 246.3L507.7 249.1L505.5 251.9L503.3 249.1Z" fill="#fff" stroke="#e3322b" stroke-width="0.9"/>
<path d="M464 12.7 L466.5 22.3 L466.2 23.8 L466.6 25.3 L466.1 26.8 L466 28.3 L466 29.8 L466 31.3 L465.8 32.8 L465.3 34.3 L465.2 35.8 L465.1 37.3 L465 38.8 L464.5 40.3 L464.4 41.8 L464.1 43.3 L463.4 44.8 L463.4 46.3 L463.7 47.8 L462.9 49.3 L462.9 50.8 L462.1 52.3 L462.8 53.8 L461.6 55.3 L461.6 56.8 L461.4 58.3 L460.7 59.8 L460.9 61.3 L461.1 62.8 L460.5 64.3 L460.8 65.8 L460.4 67.3 L460.7 68.8 L460.9 70.3 L459.9 71.8 L460.2 73.3 L459.9 74.8 L459.7 76.3 L459.8 77.8 L459.8 79.3 L459.7 80.8 L459.6 82.3 L458.8 83.8 L459.1 85.3 L458.6 86.8 L459.1 88.3 L459.1 89.8 L458.8 91.3 L458.5 92.8 L458.6 94.3 L458.6 95.8 L458.5 97.3 L458.1 98.8 L458.1 100.3 L458.4 101.8 L458 103.3 L458 104.8 L458 106.3 L458.1 107.8 L458 109.3 L457.8 110.8 L457.8 112.3 L457.7 113.8 L457.8 115.3 L457.9 116.8 L457.4 118.3 L458.1 119.8 L457.4 121.3 L457.7 122.8 L457.3 124.3 L457.5 125.8 L457.5 127.3 L457.7 128.8 L457.6 130.3 L457.7 131.8 L457.4 133.3 L457.8 134.8 L457.1 136.3 L457.5 137.8 L457.5 139.3 L457.3 140.8 L457.4 142.3 L457.2 143.8 L457.4 145.3 L457.2 146.8 L457.5 148.3 L457.4 149.8 L457.4 151.3 L457.3 152.8 L457.1 154.3 L457.5 155.8 L457.5 157.3 L457.2 158.8 L457 160.3 L457.1 161.8 L457.6 163.3 L456.9 164.8 L457.4 166.3 L457.3 167.8 L457.6 169.3 L457.1 170.8 L457.6 172.3 L457.2 173.8 L457.7 175.3 L458 176.8 L457.5 178.3 L458.1 179.8 L457.7 181.3 L457.9 182.8 L458.3 184.3 L458.1 185.8 L458 187.3 L457.4 188.8 L457.8 190.3 L458.1 191.8 L457.9 193.3 L457.8 194.8 L458.2 196.3 L457.8 197.8 L457.9 199.3 L458.4 200.8 L458.7 202.3 L458.1 203.8 L458.3 205.3 L458.4 206.8 L458.1 208.3 L458.1 209.8 L458.4 211.3 L458 212.8 L458.1 214.3 L458.7 215.8 L457.8 217.3 L458.7 218.8 L458.5 220.3 L458 221.8 L458.4 223.3 L458.2 224.8 L457.9 226.3 L457.9 227.8 L457.8 229.3 L458.3 230.8 L457.6 232.3 L457.6 233.8 L457.7 235.3 L457.6 236.8 L458.3 238.3 L457.6 239.8 L457.5 241.3 L457.4 242.8 L457.4 244.3 L457 245.8 L457.5 247.3 L457.2 248.8 L457.3 250.3 L457.6 251.8 L457.6 253.3 L457.5 254.5" fill="none" stroke="#2a79be" stroke-width="1.1" stroke-linejoin="round"/>
<path d="M464 9.7L466.4 12.7L464 15.7L461.6 12.7Z" fill="#2a79be"/>
<path d="M466.4 18.1L468.8 21.1L466.4 24.1L464 21.1Z" fill="#2a79be"/>
<path d="M465.9 27.3L468.3 30.3L465.9 33.3L463.6 30.3Z" fill="#2a79be"/>
<path d="M464.6 36.5L466.9 39.5L464.6 42.5L462.2 39.5Z" fill="#2a79be"/>
<path d="M463.1 45.7L465.4 48.7L463.1 51.7L460.7 48.7Z" fill="#2a79be"/>
<path d="M461.3 54.9L463.7 57.9L461.3 60.9L458.9 57.9Z" fill="#2a79be"/>
<path d="M460.5 64.1L462.8 67.1L460.5 70.1L458.1 67.1Z" fill="#2a79be"/>
<path d="M459.9 73.3L462.3 76.3L459.9 79.3L457.6 76.3Z" fill="#2a79be"/>
<path d="M459.2 82.5L461.6 85.5L459.2 88.5L456.9 85.5Z" fill="#2a79be"/>
<path d="M458.5 91.7L460.9 94.7L458.5 97.7L456.2 94.7Z" fill="#2a79be"/>
<path d="M458 100.9L460.4 103.9L458 106.9L455.7 103.9Z" fill="#2a79be"/>
<path d="M457.8 110.1L460.2 113.1L457.8 116.1L455.5 113.1Z" fill="#2a79be"/>
<path d="M457.6 119.3L460 122.3L457.6 125.3L455.3 122.3Z" fill="#2a79be"/>
<path d="M457.5 128.5L459.9 131.5L457.5 134.5L455.2 131.5Z" fill="#2a79be"/>
<path d="M457.4 137.7L459.7 140.7L457.4 143.7L455 140.7Z" fill="#2a79be"/>
<path d="M457.3 146.9L459.7 149.9L457.3 152.9L455 149.9Z" fill="#2a79be"/>
<path d="M457.3 156.1L459.7 159.1L457.3 162.1L455 159.1Z" fill="#2a79be"/>
<path d="M457.4 165.3L459.7 168.3L457.4 171.3L455 168.3Z" fill="#2a79be"/>
<path d="M457.6 174.5L459.9 177.5L457.6 180.5L455.2 177.5Z" fill="#2a79be"/>
<path d="M457.9 183.7L460.2 186.7L457.9 189.7L455.5 186.7Z" fill="#2a79be"/>
<path d="M458.1 192.9L460.5 195.9L458.1 198.9L455.8 195.9Z" fill="#2a79be"/>
<path d="M458.3 202.1L460.6 205.1L458.3 208.1L455.9 205.1Z" fill="#2a79be"/>
<path d="M458.3 211.3L460.6 214.3L458.3 217.3L455.9 214.3Z" fill="#2a79be"/>
<path d="M458.1 220.5L460.5 223.5L458.1 226.5L455.8 223.5Z" fill="#2a79be"/>
<path d="M457.9 229.7L460.3 232.7L457.9 235.7L455.6 232.7Z" fill="#2a79be"/>
<path d="M457.6 238.9L460 241.9L457.6 244.9L455.3 241.9Z" fill="#2a79be"/>
<path d="M457.4 248.1L459.7 251.1L457.4 254.1L455 251.1Z" fill="#2a79be"/>
<path d="M488.6 12.3 L480.5 30 L480.4 31.5 L479.6 33 L479.2 34.5 L478.8 36 L478 37.5 L478.3 39 L476.8 40.5 L477.4 42 L476.4 43.5 L475.6 45 L475.5 46.5 L474.7 48 L474.4 49.5 L474.8 51 L473.9 52.5 L476.1 54 L473 55.5 L472.7 57 L473.9 58.5 L472.8 60 L472.5 61.5 L472.1 63 L472.4 64.5 L471.8 66 L472.4 67.5 L471.4 69 L471.5 70.5 L471.5 72 L470.9 73.5 L470.2 75 L469.6 76.5 L469 78 L468.7 79.5 L469.6 81 L468.6 82.5 L468.5 84 L468.6 85.5 L468.5 87 L468.7 88.5 L468.2 90 L467.7 91.5 L467 93 L467.8 94.5 L467.3 96 L467.2 97.5 L466.7 99 L467.2 100.5 L467.4 102 L466.8 103.5 L467.1 105 L466.7 106.5 L466.5 108 L467.3 109.5 L466.4 111 L466.7 112.5 L465.6 114 L466.9 115.5 L466.1 117 L466.3 118.5 L466.1 120 L466.4 121.5 L465.9 123 L465.6 124.5 L466.3 126 L466.3 127.5 L465.9 129 L466.5 130.5 L466.8 132 L465.8 133.5 L466.5 135 L466.5 136.5 L465.4 138 L465.6 139.5 L465.2 141 L467.2 142.5 L466.2 144 L466.3 145.5 L466.9 147 L467.5 148.5 L467 150 L467.7 151.5 L467.6 153 L469 154.5 L466.6 156 L467 157.5 L466.9 159 L467.7 160.5 L467 162 L468 163.5 L466.7 165 L468.3 166.5 L468.2 168 L468.8 169.5 L468.5 171 L468.3 172.5 L468.5 174 L467.4 175.5 L468.5 177 L468.9 178.5 L469.9 180 L469.2 181.5 L468.5 183 L470.7 184.5 L469.2 186 L470 187.5 L469.6 189 L468.5 190.5 L471.1 192 L470.6 193.5 L471.5 195 L471 196.5 L472 198 L472.8 199.5 L472.5 201 L472.3 202.5 L472.4 204 L472.9 205.5 L472.4 207 L473.5 208.5 L474 210 L473.1 211.5 L473.5 213 L475.4 214.5 L474.7 216 L476 217.5 L475.6 219 L475.9 220.5 L475.9 222 L477 223.5 L477.1 225 L476.6 226.5 L475.9 228 L476.6 229.5 L477.5 231 L477.3 232.5 L478.5 234 L478.7 235.5 L479 237 L479.4 238.5 L479.5 240 L479.9 241.5 L480.1 243 L479.7 244.5 L480.6 246 L480.9 247.5 L481.7 249 L481.3 250.5 L481.3 252 L483.1 253.5 L482.7 254.5" fill="none" stroke="#b2182b" stroke-width="1.3" stroke-linejoin="round"/>
<circle cx="488.6" cy="12.3" r="0.6" fill="#b2182b"/>
<circle cx="481" cy="17" r="0.6" fill="#b2182b"/>
<circle cx="481" cy="20" r="0.6" fill="#b2182b"/>
<circle cx="481" cy="23" r="0.6" fill="#b2182b"/>
<circle cx="481" cy="26" r="0.6" fill="#b2182b"/>
<circle cx="481" cy="29" r="0.6" fill="#b2182b"/>
<circle cx="480.3" cy="32" r="0.6" fill="#b2182b"/>
<circle cx="479.2" cy="35" r="0.6" fill="#b2182b"/>
<circle cx="478.1" cy="38" r="0.6" fill="#b2182b"/>
<circle cx="477.1" cy="41" r="0.6" fill="#b2182b"/>
<circle cx="476.1" cy="44" r="0.6" fill="#b2182b"/>
<circle cx="475.2" cy="47" r="0.6" fill="#b2182b"/>
<circle cx="474.5" cy="50" r="0.6" fill="#b2182b"/>
<circle cx="474" cy="53" r="0.6" fill="#b2182b"/>
<circle cx="473.6" cy="56" r="0.6" fill="#b2182b"/>
<circle cx="473.2" cy="59" r="0.6" fill="#b2182b"/>
<circle cx="472.9" cy="62" r="0.6" fill="#b2182b"/>
<circle cx="472.5" cy="65" r="0.6" fill="#b2182b"/>
<circle cx="472" cy="68" r="0.6" fill="#b2182b"/>
<circle cx="471.4" cy="71" r="0.6" fill="#b2182b"/>
<circle cx="470.8" cy="74" r="0.6" fill="#b2182b"/>
<circle cx="470.1" cy="77" r="0.6" fill="#b2182b"/>
<circle cx="469.5" cy="80" r="0.6" fill="#b2182b"/>
<circle cx="468.9" cy="83" r="0.6" fill="#b2182b"/>
<circle cx="468.5" cy="86" r="0.6" fill="#b2182b"/>
<circle cx="468.2" cy="89" r="0.6" fill="#b2182b"/>
<circle cx="467.8" cy="92" r="0.6" fill="#b2182b"/>
<circle cx="467.5" cy="95" r="0.6" fill="#b2182b"/>
<circle cx="467.3" cy="98" r="0.6" fill="#b2182b"/>
<circle cx="467.1" cy="101" r="0.6" fill="#b2182b"/>
<circle cx="466.9" cy="104" r="0.6" fill="#b2182b"/>
<circle cx="466.8" cy="107" r="0.6" fill="#b2182b"/>
<circle cx="466.6" cy="110" r="0.6" fill="#b2182b"/>
<circle cx="466.5" cy="113" r="0.6" fill="#b2182b"/>
<circle cx="466.4" cy="116" r="0.6" fill="#b2182b"/>
<circle cx="466.4" cy="119" r="0.6" fill="#b2182b"/>
<circle cx="466.3" cy="122" r="0.6" fill="#b2182b"/>
<circle cx="466.2" cy="125" r="0.6" fill="#b2182b"/>
<circle cx="466.2" cy="128" r="0.6" fill="#b2182b"/>
<circle cx="466.2" cy="131" r="0.6" fill="#b2182b"/>
<circle cx="466.2" cy="134" r="0.6" fill="#b2182b"/>
<circle cx="466.3" cy="137" r="0.6" fill="#b2182b"/>
<circle cx="466.4" cy="140" r="0.6" fill="#b2182b"/>
<circle cx="466.5" cy="143" r="0.6" fill="#b2182b"/>
<circle cx="466.6" cy="146" r="0.6" fill="#b2182b"/>
<circle cx="466.7" cy="149" r="0.6" fill="#b2182b"/>
<circle cx="466.9" cy="152" r="0.6" fill="#b2182b"/>
<circle cx="467" cy="155" r="0.6" fill="#b2182b"/>
<circle cx="467.2" cy="158" r="0.6" fill="#b2182b"/>
<circle cx="467.4" cy="161" r="0.6" fill="#b2182b"/>
<circle cx="467.6" cy="164" r="0.6" fill="#b2182b"/>
<circle cx="467.8" cy="167" r="0.6" fill="#b2182b"/>
<circle cx="468.1" cy="170" r="0.6" fill="#b2182b"/>
<circle cx="468.3" cy="173" r="0.6" fill="#b2182b"/>
<circle cx="468.5" cy="176" r="0.6" fill="#b2182b"/>
<circle cx="468.9" cy="179" r="0.6" fill="#b2182b"/>
<circle cx="469.2" cy="182" r="0.6" fill="#b2182b"/>
<circle cx="469.6" cy="185" r="0.6" fill="#b2182b"/>
<circle cx="470" cy="188" r="0.6" fill="#b2182b"/>
<circle cx="470.5" cy="191" r="0.6" fill="#b2182b"/>
<circle cx="471" cy="194" r="0.6" fill="#b2182b"/>
<circle cx="471.5" cy="197" r="0.6" fill="#b2182b"/>
<circle cx="472" cy="200" r="0.6" fill="#b2182b"/>
<circle cx="472.5" cy="203" r="0.6" fill="#b2182b"/>
<circle cx="473" cy="206" r="0.6" fill="#b2182b"/>
<circle cx="473.5" cy="209" r="0.6" fill="#b2182b"/>
<circle cx="474" cy="212" r="0.6" fill="#b2182b"/>
<circle cx="474.6" cy="215" r="0.6" fill="#b2182b"/>
<circle cx="475.1" cy="218" r="0.6" fill="#b2182b"/>
<circle cx="475.6" cy="221" r="0.6" fill="#b2182b"/>
<circle cx="476.2" cy="224" r="0.6" fill="#b2182b"/>
<circle cx="476.8" cy="227" r="0.6" fill="#b2182b"/>
<circle cx="477.4" cy="230" r="0.6" fill="#b2182b"/>
<circle cx="478" cy="233" r="0.6" fill="#b2182b"/>
<circle cx="478.6" cy="236" r="0.6" fill="#b2182b"/>
<circle cx="479.2" cy="239" r="0.6" fill="#b2182b"/>
<circle cx="479.8" cy="242" r="0.6" fill="#b2182b"/>
<circle cx="480.4" cy="245" r="0.6" fill="#b2182b"/>
<circle cx="481" cy="248" r="0.6" fill="#b2182b"/>
<circle cx="481.6" cy="251" r="0.6" fill="#b2182b"/>
<path d="M468.8 14 L467.2 30 L467.3 31.5 L466.7 33 L467.1 34.5 L466.8 36 L466.4 37.5 L466.9 39 L466.8 40.5 L467 42 L466.7 43.5 L466.7 45 L466.4 46.5 L467.1 48 L466.1 49.5 L466.8 51 L466.6 52.5 L466.6 54 L466.9 55.5 L466.6 57 L466.1 58.5 L466 60 L466.1 61.5 L466.5 63 L466.6 64.5 L466.6 66 L466.8 67.5 L466.8 69 L466.6 70.5 L466.3 72 L466.6 73.5 L466.6 75 L467.5 76.5 L467.3 78 L466.7 79.5 L467 81 L467.6 82.5 L467.3 84 L467.6 85.5 L467.5 87 L467.6 88.5 L467.8 90 L467.5 91.5 L467.5 93 L467.7 94.5 L468.3 96 L468.2 97.5 L467.7 99 L468.6 100.5 L468.6 102 L468.8 103.5 L468.7 105 L468.7 106.5 L468.1 108 L469 109.5 L468.4 111 L469 112.5 L469.9 114 L469.4 115.5 L469.6 117 L469.4 118.5 L469.8 120 L469.4 121.5 L469.9 123 L470.2 124.5 L470.2 126 L470 127.5 L469.7 129 L470.4 130.5 L470.5 132 L470.7 133.5 L471.2 135 L470.5 136.5 L471.5 138 L470.9 139.5 L472.3 141 L472.1 142.5 L472 144 L471.6 145.5 L472.1 147 L472.2 148.5 L472 150 L472.2 151.5 L472.9 153 L472.7 154.5 L473.5 156 L473.4 157.5 L473.1 159 L473.4 160.5 L473.4 162 L473.1 163.5 L473.9 165 L473.5 166.5 L474.5 168 L474.5 169.5 L473.5 171 L474.5 172.5 L474.3 174 L475.4 175.5 L474.9 177 L475.3 178.5 L475.5 180 L475.1 181.5 L475.7 183 L476.3 184.5 L475.8 186 L476.4 187.5 L476.3 189 L477.3 190.5 L477.4 192 L476.9 193.5 L477 195 L477.4 196.5 L477.3 198 L477.5 199.5 L477.5 201 L478.4 202.5 L478.8 204 L478.3 205.5 L477.7 207 L478 208.5 L478.8 210 L478.4 211.5 L478.7 213 L479 214.5 L479 216 L479.7 217.5 L478.9 219 L479.6 220.5 L479.2 222 L479.8 223.5 L479.2 225 L479.8 226.5 L480.5 228 L480 229.5 L480.5 231 L480.3 232.5 L480.7 234 L480.6 235.5 L481.1 237 L480.6 238.5 L481 240 L481.5 241.5 L481.1 243 L481.7 244.5 L481.9 246 L481.8 247.5 L481.1 249 L482.6 250.5 L481.6 252 L482.2 253.5 L482.4 254.5" fill="none" stroke="#1f56a5" stroke-width="1.25" stroke-linejoin="round"/>
<circle cx="468.8" cy="14" r="0.6" fill="#1f56a5"/>
<circle cx="466.8" cy="17" r="0.6" fill="#1f56a5"/>
<circle cx="466.8" cy="20" r="0.6" fill="#1f56a5"/>
<circle cx="466.8" cy="23" r="0.6" fill="#1f56a5"/>
<circle cx="466.8" cy="26" r="0.6" fill="#1f56a5"/>
<circle cx="466.8" cy="29" r="0.6" fill="#1f56a5"/>
<circle cx="466.8" cy="32" r="0.6" fill="#1f56a5"/>
<circle cx="466.8" cy="35" r="0.6" fill="#1f56a5"/>
<circle cx="466.8" cy="38" r="0.6" fill="#1f56a5"/>
<circle cx="466.8" cy="41" r="0.6" fill="#1f56a5"/>
<circle cx="466.8" cy="44" r="0.6" fill="#1f56a5"/>
<circle cx="466.8" cy="47" r="0.6" fill="#1f56a5"/>
<circle cx="466.8" cy="50" r="0.6" fill="#1f56a5"/>
<circle cx="466.8" cy="53" r="0.6" fill="#1f56a5"/>
<circle cx="466.8" cy="56" r="0.6" fill="#1f56a5"/>
<circle cx="466.8" cy="59" r="0.6" fill="#1f56a5"/>
<circle cx="466.8" cy="62" r="0.6" fill="#1f56a5"/>
<circle cx="466.8" cy="65" r="0.6" fill="#1f56a5"/>
<circle cx="466.8" cy="68" r="0.6" fill="#1f56a5"/>
<circle cx="466.8" cy="71" r="0.6" fill="#1f56a5"/>
<circle cx="466.8" cy="74" r="0.6" fill="#1f56a5"/>
<circle cx="466.9" cy="77" r="0.6" fill="#1f56a5"/>
<circle cx="467" cy="80" r="0.6" fill="#1f56a5"/>
<circle cx="467.2" cy="83" r="0.6" fill="#1f56a5"/>
<circle cx="467.3" cy="86" r="0.6" fill="#1f56a5"/>
<circle cx="467.5" cy="89" r="0.6" fill="#1f56a5"/>
<circle cx="467.7" cy="92" r="0.6" fill="#1f56a5"/>
<circle cx="467.9" cy="95" r="0.6" fill="#1f56a5"/>
<circle cx="468.1" cy="98" r="0.6" fill="#1f56a5"/>
<circle cx="468.3" cy="101" r="0.6" fill="#1f56a5"/>
<circle cx="468.5" cy="104" r="0.6" fill="#1f56a5"/>
<circle cx="468.7" cy="107" r="0.6" fill="#1f56a5"/>
<circle cx="468.9" cy="110" r="0.6" fill="#1f56a5"/>
<circle cx="469.2" cy="113" r="0.6" fill="#1f56a5"/>
<circle cx="469.4" cy="116" r="0.6" fill="#1f56a5"/>
<circle cx="469.7" cy="119" r="0.6" fill="#1f56a5"/>
<circle cx="469.9" cy="122" r="0.6" fill="#1f56a5"/>
<circle cx="470.2" cy="125" r="0.6" fill="#1f56a5"/>
<circle cx="470.4" cy="128" r="0.6" fill="#1f56a5"/>
<circle cx="470.7" cy="131" r="0.6" fill="#1f56a5"/>
<circle cx="470.9" cy="134" r="0.6" fill="#1f56a5"/>
<circle cx="471.2" cy="137" r="0.6" fill="#1f56a5"/>
<circle cx="471.4" cy="140" r="0.6" fill="#1f56a5"/>
<circle cx="471.7" cy="143" r="0.6" fill="#1f56a5"/>
<circle cx="471.9" cy="146" r="0.6" fill="#1f56a5"/>
<circle cx="472.2" cy="149" r="0.6" fill="#1f56a5"/>
<circle cx="472.5" cy="152" r="0.6" fill="#1f56a5"/>
<circle cx="472.7" cy="155" r="0.6" fill="#1f56a5"/>
<circle cx="473" cy="158" r="0.6" fill="#1f56a5"/>
<circle cx="473.3" cy="161" r="0.6" fill="#1f56a5"/>
<circle cx="473.6" cy="164" r="0.6" fill="#1f56a5"/>
<circle cx="473.9" cy="167" r="0.6" fill="#1f56a5"/>
<circle cx="474.2" cy="170" r="0.6" fill="#1f56a5"/>
<circle cx="474.5" cy="173" r="0.6" fill="#1f56a5"/>
<circle cx="474.9" cy="176" r="0.6" fill="#1f56a5"/>
<circle cx="475.2" cy="179" r="0.6" fill="#1f56a5"/>
<circle cx="475.6" cy="182" r="0.6" fill="#1f56a5"/>
<circle cx="475.9" cy="185" r="0.6" fill="#1f56a5"/>
<circle cx="476.3" cy="188" r="0.6" fill="#1f56a5"/>
<circle cx="476.6" cy="191" r="0.6" fill="#1f56a5"/>
<circle cx="476.9" cy="194" r="0.6" fill="#1f56a5"/>
<circle cx="477.3" cy="197" r="0.6" fill="#1f56a5"/>
<circle cx="477.6" cy="200" r="0.6" fill="#1f56a5"/>
<circle cx="477.9" cy="203" r="0.6" fill="#1f56a5"/>
<circle cx="478.2" cy="206" r="0.6" fill="#1f56a5"/>
<circle cx="478.5" cy="209" r="0.6" fill="#1f56a5"/>
<circle cx="478.8" cy="212" r="0.6" fill="#1f56a5"/>
<circle cx="479.1" cy="215" r="0.6" fill="#1f56a5"/>
<circle cx="479.3" cy="218" r="0.6" fill="#1f56a5"/>
<circle cx="479.6" cy="221" r="0.6" fill="#1f56a5"/>
<circle cx="479.8" cy="224" r="0.6" fill="#1f56a5"/>
<circle cx="480.1" cy="227" r="0.6" fill="#1f56a5"/>
<circle cx="480.3" cy="230" r="0.6" fill="#1f56a5"/>
<circle cx="480.6" cy="233" r="0.6" fill="#1f56a5"/>
<circle cx="480.8" cy="236" r="0.6" fill="#1f56a5"/>
<circle cx="481" cy="239" r="0.6" fill="#1f56a5"/>
<circle cx="481.3" cy="242" r="0.6" fill="#1f56a5"/>
<circle cx="481.5" cy="245" r="0.6" fill="#1f56a5"/>
<circle cx="481.8" cy="248" r="0.6" fill="#1f56a5"/>
<circle cx="482" cy="251" r="0.6" fill="#1f56a5"/></g>
<rect x="89.8" y="2.9" width="96.2" height="70.1" fill="#fff" stroke="#cfcfcf" stroke-width="0.8"/>
<line x1="91" y1="7.9" x2="102.6" y2="7.9" stroke="#f4a582" stroke-width="1"/>
<circle cx="96.7" cy="7.9" r="3.1" fill="#fff" stroke="#f4a582" stroke-width="0.9"/>
<text x="103.6" y="10.2" class="lg">raw data ch1</text>
<line x1="91" y1="16.6" x2="102.6" y2="16.6" stroke="#a9cde6" stroke-width="1"/>
<circle cx="96.7" cy="16.6" r="2.6" fill="#a9cde6" stroke="#a9cde6" stroke-width="0.6"/>
<text x="103.6" y="18.9" class="lg">raw data ch2</text>
<line x1="91" y1="25.2" x2="102.6" y2="25.2" stroke="#f0623e" stroke-width="1"/>
<rect x="94.5" y="23.1" width="4.4" height="4.4" fill="#fff" stroke="#f0623e" stroke-width="0.9"/>
<text x="103.6" y="27.5" class="lg">on-site calibration ch1</text>
<line x1="91" y1="33.9" x2="102.6" y2="33.9" stroke="#4b97d0" stroke-width="1"/>
<rect x="94.4" y="31.6" width="4.6" height="4.6" fill="#4b97d0"/>
<text x="103.6" y="36.2" class="lg">on-site calibration ch2</text>
<line x1="91" y1="42.6" x2="102.6" y2="42.6" stroke="#e3322b" stroke-width="1"/>
<path d="M96.7 39.2L99.3 42.6L96.7 45.9L94.1 42.6Z" fill="#fff" stroke="#e3322b" stroke-width="0.9"/>
<text x="103.6" y="44.9" class="lg">segregated calibration ch1</text>
<line x1="91" y1="51.2" x2="102.6" y2="51.2" stroke="#2a79be" stroke-width="1"/>
<path d="M96.7 47.6L99.5 51.2L96.7 54.9L93.9 51.2Z" fill="#2a79be"/>
<text x="103.6" y="53.5" class="lg">segregated calibration ch2</text>
<line x1="91" y1="59.9" x2="102.6" y2="59.9" stroke="#b2182b" stroke-width="1.3"/>
<circle cx="96.7" cy="59.9" r="0.8" fill="#b2182b"/>
<text x="103.6" y="62.2" class="lg">combined calibration ch1</text>
<line x1="91" y1="68.6" x2="102.6" y2="68.6" stroke="#1f56a5" stroke-width="1.3"/>
<circle cx="96.7" cy="68.6" r="0.8" fill="#1f56a5"/>
<text x="103.6" y="70.9" class="lg">combined calibration ch2</text>
<text transform="translate(12.1,134.4) rotate(-90)" class="lab" style="font-size:11.8px" text-anchor="middle">Borehole depth [m]</text>
<text transform="translate(195.1,134.4) rotate(-90)" class="lab" style="font-size:11.8px" text-anchor="middle">Borehole depth [m]</text>
<text transform="translate(377.1,134.4) rotate(-90)" class="lab" style="font-size:11.8px" text-anchor="middle">Borehole depth [m]</text>
</svg>
</body></html>
